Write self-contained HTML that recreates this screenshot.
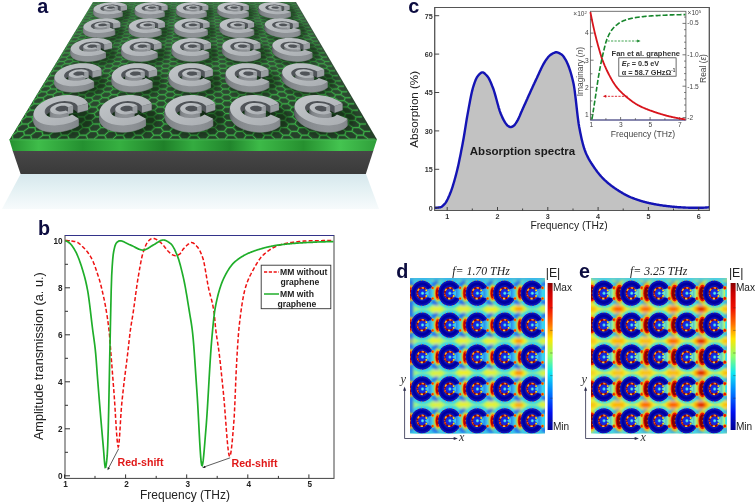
<!DOCTYPE html>
<html><head><meta charset="utf-8"><title>Figure</title>
<style>html,body{margin:0;padding:0;background:#fff}svg{display:block}</style></head>
<body>
<svg width="756" height="504" viewBox="0 0 756 504">
<rect width="756" height="504" fill="#fff"/>
<defs>
<linearGradient id="aRef" x1="0" y1="0" x2="0" y2="1"><stop offset="0" stop-color="#d6e8ed"/><stop offset="0.4" stop-color="#e3f0f3"/><stop offset="1" stop-color="#f7fbfc"/></linearGradient>
<linearGradient id="aBase" x1="0" y1="0" x2="0" y2="1"><stop offset="0" stop-color="#474747"/><stop offset="1" stop-color="#3a3a3a"/></linearGradient>
<linearGradient id="aStrip" x1="0" y1="0" x2="1" y2="0"><stop offset="0" stop-color="#25902f"/><stop offset="0.08" stop-color="#3fbd4a"/><stop offset="0.2" stop-color="#249030"/><stop offset="0.3" stop-color="#36b041"/><stop offset="0.42" stop-color="#1f8029"/><stop offset="0.5" stop-color="#34ac40"/><stop offset="0.6" stop-color="#21852c"/><stop offset="0.68" stop-color="#3dba48"/><stop offset="0.8" stop-color="#26902f"/><stop offset="0.9" stop-color="#44c450"/><stop offset="1" stop-color="#2f9e3a"/></linearGradient>
<linearGradient id="aTop" x1="0" y1="0" x2="0" y2="1"><stop offset="0" stop-color="#405e47"/><stop offset="0.3" stop-color="#36533b"/><stop offset="0.65" stop-color="#2d4931"/><stop offset="1" stop-color="#253f29"/></linearGradient>
<linearGradient id="rTop" x1="0" y1="0" x2="1" y2="1"><stop offset="0" stop-color="#c3c7ca"/><stop offset="1" stop-color="#a9adb1"/></linearGradient>
<linearGradient id="rSide" x1="0" y1="0" x2="0" y2="1"><stop offset="0" stop-color="#4a4e52"/><stop offset="0.42" stop-color="#54585d"/><stop offset="0.7" stop-color="#7d8185"/><stop offset="1" stop-color="#8f9397"/></linearGradient>
<linearGradient id="hcG" gradientUnits="userSpaceOnUse" x1="0" y1="2" x2="0" y2="139"><stop offset="0" stop-color="#3db449" stop-opacity="0.4"/><stop offset="0.35" stop-color="#3db449" stop-opacity="0.62"/><stop offset="0.75" stop-color="#3db449" stop-opacity="0.92"/><stop offset="1" stop-color="#3db449"/></linearGradient>
<filter id="aBlur" x="-30%" y="-30%" width="160%" height="160%"><feGaussianBlur stdDeviation="2"/></filter>
<clipPath id="aClip"><polygon points="93,2 296,2 377,139.5 9.6,139.5"/></clipPath>
</defs>
<g id="pa">
<polygon points="20.6,174 366,174 379,209 2,209" fill="url(#aRef)"/>
<polygon points="12.6,150.5 373.4,150.5 365.8,174 20.6,174" fill="url(#aBase)"/>
<polygon points="9.2,139.3 377,139.3 373.2,150.9 12.8,150.9" fill="url(#aStrip)"/>
<rect x="9.4" y="139.1" width="367.4" height="1.1" fill="#5fd46a" opacity="0.7"/>
<polygon points="93,2 296,2 377,139.5 9.6,139.5" fill="url(#aTop)"/>
<defs><path id="hcp" d="M92.3 3.2l2.4-1.2 3.5 0 1 1.2 3.5 0 2.4-1.2 3.4 0 1.1 1.2 3.5 0 2.3-1.2 3.5 0 1.2 1.2 3.4 0 2.3-1.2 3.4 0 1.3 1.2 3.5 0 2.1-1.2 3.5 0 1.3 1.2 3.5 0 2.1-1.2 3.4 0 1.4 1.2 3.5 0 2-1.2 3.5 0 1.5 1.2 3.4 0 2-1.2 3.4 0 1.6 1.2 3.5 0 1.8-1.2 3.5 0 1.6 1.2 3.5 0 1.8-1.2 3.5 0 1.7 1.2 3.4 0 1.8-1.2 3.4 0 1.8 1.2 3.5 0 1.6-1.2 3.5 0 1.8 1.2 3.5 0 1.6-1.2 3.4 0 1.9 1.2 3.5 0 1.5-1.2 3.5 0 2 1.2 3.4 0 1.5-1.2 3.4 0 2.1 1.2 3.5 0 1.3-1.2 3.5 0 2.1 1.2 3.5 0 1.3-1.2 3.4 0 2.3 1.2 3.4 0 1.2-1.2 3.5 0 2.3 1.2 3.5 0 1.1-1.2 3.4 0 2.4 1.2 3.5 0 1-1.2 3.5 0M90.7 5.8l2.5-1.3 3.5 0 1.1 1.3 3.5 0 2.4-1.3 3.6 0 1.1 1.3 3.5 0 2.4-1.3 3.5 0 1.1 1.3 3.6 0 2.3-1.3 3.5 0 1.2 1.3 3.6 0 2.2-1.3 3.5 0 1.3 1.3 3.5 0 2.2-1.3 3.5 0 1.4 1.3 3.5 0 2.1-1.3 3.5 0 1.5 1.3 3.5 0 2-1.3 3.5 0 1.6 1.3 3.5 0 1.9-1.3 3.5 0 1.6 1.3 3.6 0 1.8-1.3 3.5 0 1.7 1.3 3.5 0 1.8-1.3 3.5 0 1.8 1.3 3.5 0 1.7-1.3 3.5 0 1.9 1.3 3.5 0 1.6-1.3 3.5 0 2 1.3 3.5 0 1.5-1.3 3.5 0 2 1.3 3.6 0 1.4-1.3 3.5 0 2.1 1.3 3.6 0 1.3-1.3 3.5 0 2.2 1.3 3.5 0 1.3-1.3 3.5 0 2.3 1.3 3.5 0 1.2-1.3 3.5 0 2.4 1.3 3.5 0 1.1-1.3 3.5 0 2.5 1.3 3.5 0 1-1.3 3.5 0M89.1 8.3l2.6-1.3 3.6 0 1 1.3 3.6 0 2.5-1.3 3.5 0 1.2 1.3 3.5 0 2.4-1.3 3.6 0 1.2 1.3 3.6 0 2.3-1.3 3.6 0 1.2 1.3 3.6 0 2.3-1.3 3.5 0 1.4 1.3 3.6 0 2.1-1.3 3.6 0 1.4 1.3 3.6 0 2.1-1.3 3.5 0 1.6 1.3 3.5 0 2-1.3 3.6 0 1.6 1.3 3.6 0 1.9-1.3 3.6 0 1.6 1.3 3.6 0 1.9-1.3 3.5 0 1.8 1.3 3.6 0 1.7-1.3 3.6 0 1.8 1.3 3.6 0 1.7-1.3 3.5 0 2 1.3 3.5 0 1.6-1.3 3.6 0 2 1.3 3.6 0 1.5-1.3 3.6 0 2 1.3 3.6 0 1.5-1.3 3.5 0 2.2 1.3 3.6 0 1.3-1.3 3.6 0 2.2 1.3 3.6 0 1.3-1.3 3.5 0 2.4 1.3 3.5 0 1.2-1.3 3.6 0 2.4 1.3 3.6 0 1.1-1.3 3.6 0 2.4 1.3 3.6 0 1.1-1.3 3.5 0M87.5 11l2.6-1.3 3.7 0 1 1.3 3.6 0 2.6-1.3 3.6 0 1.1 1.3 3.6 0 2.5-1.3 3.6 0 1.2 1.3 3.6 0 2.4-1.3 3.6 0 1.3 1.3 3.6 0 2.3-1.3 3.6 0 1.4 1.3 3.6 0 2.3-1.3 3.6 0 1.4 1.3 3.6 0 2.2-1.3 3.6 0 1.5 1.3 3.6 0 2.1-1.3 3.6 0 1.6 1.3 3.7 0 1.9-1.3 3.6 0 1.7 1.3 3.7 0 1.8-1.3 3.6 0 1.8 1.3 3.7 0 1.8-1.3 3.6 0 1.8 1.3 3.7 0 1.7-1.3 3.6 0 1.9 1.3 3.7 0 1.6-1.3 3.6 0 2 1.3 3.7 0 1.5-1.3 3.6 0 2.1 1.3 3.7 0 1.4-1.3 3.6 0 2.2 1.3 3.7 0 1.4-1.3 3.6 0 2.2 1.3 3.7 0 1.3-1.3 3.6 0 2.3 1.3 3.7 0 1.2-1.3 3.6 0 2.4 1.3 3.7 0 1.1-1.3 3.6 0 2.6 1.3 3.6 0 1-1.3 3.7 0M85.9 13.8l2.6-1.4 3.7 0 1 1.4 3.7 0 2.6-1.4 3.7 0 1.1 1.4 3.7 0 2.5-1.4 3.7 0 1.2 1.4 3.7 0 2.4-1.4 3.7 0 1.3 1.4 3.6 0 2.4-1.4 3.6 0 1.4 1.4 3.7 0 2.3-1.4 3.6 0 1.5 1.4 3.7 0 2.1-1.4 3.7 0 1.6 1.4 3.7 0 2-1.4 3.7 0 1.6 1.4 3.7 0 2-1.4 3.7 0 1.7 1.4 3.7 0 1.9-1.4 3.7 0 1.8 1.4 3.7 0 1.8-1.4 3.7 0 1.8 1.4 3.7 0 1.8-1.4 3.6 0 2 1.4 3.7 0 1.7-1.4 3.6 0 2.1 1.4 3.7 0 1.6-1.4 3.6 0 2.2 1.4 3.7 0 1.4-1.4 3.7 0 2.2 1.4 3.7 0 1.4-1.4 3.7 0 2.3 1.4 3.7 0 1.3-1.4 3.7 0 2.4 1.4 3.7 0 1.2-1.4 3.7 0 2.4 1.4 3.7 0 1.2-1.4 3.6 0 2.6 1.4 3.7 0 1.1-1.4 3.6 0M84.1 16.6l2.8-1.4 3.7 0 1 1.4 3.8 0 2.6-1.4 3.7 0 1.2 1.4 3.7 0 2.6-1.4 3.7 0 1.2 1.4 3.8 0 2.4-1.4 3.8 0 1.3 1.4 3.7 0 2.4-1.4 3.7 0 1.4 1.4 3.8 0 2.2-1.4 3.8 0 1.5 1.4 3.7 0 2.2-1.4 3.7 0 1.6 1.4 3.7 0 2.2-1.4 3.7 0 1.6 1.4 3.8 0 2-1.4 3.7 0 1.8 1.4 3.7 0 2-1.4 3.7 0 1.8 1.4 3.8 0 1.8-1.4 3.8 0 1.9 1.4 3.7 0 1.8-1.4 3.7 0 2 1.4 3.8 0 1.6-1.4 3.8 0 2.1 1.4 3.7 0 1.6-1.4 3.7 0 2.2 1.4 3.8 0 1.5-1.4 3.7 0 2.3 1.4 3.7 0 1.4-1.4 3.7 0 2.4 1.4 3.7 0 1.4-1.4 3.7 0 2.4 1.4 3.8 0 1.2-1.4 3.8 0 2.5 1.4 3.7 0 1.2-1.4 3.7 0 2.6 1.4 3.8 0 1-1.4 3.8 0M82.4 19.6l2.7-1.5 3.8 0 1.1 1.5 3.8 0 2.7-1.5 3.7 0 1.2 1.5 3.8 0 2.6-1.5 3.8 0 1.2 1.5 3.8 0 2.5-1.5 3.8 0 1.3 1.5 3.8 0 2.5-1.5 3.7 0 1.5 1.5 3.8 0 2.3-1.5 3.8 0 1.5 1.5 3.8 0 2.2-1.5 3.8 0 1.6 1.5 3.8 0 2.2-1.5 3.7 0 1.7 1.5 3.8 0 2.1-1.5 3.8 0 1.8 1.5 3.8 0 1.9-1.5 3.8 0 1.9 1.5 3.8 0 1.9-1.5 3.7 0 2 1.5 3.8 0 1.8-1.5 3.8 0 2 1.5 3.8 0 1.7-1.5 3.8 0 2.1 1.5 3.9 0 1.6-1.5 3.7 0 2.3 1.5 3.8 0 1.5-1.5 3.8 0 2.3 1.5 3.8 0 1.4-1.5 3.8 0 2.4 1.5 3.8 0 1.4-1.5 3.7 0 2.5 1.5 3.9 0 1.2-1.5 3.8 0 2.6 1.5 3.8 0 1.1-1.5 3.8 0 2.7 1.5 3.8 0 1.1-1.5 3.7 0M80.5 22.6l2.9-1.5 3.8 0 1.1 1.5 3.8 0 2.8-1.5 3.8 0 1.2 1.5 3.8 0 2.7-1.5 3.8 0 1.3 1.5 3.8 0 2.6-1.5 3.8 0 1.4 1.5 3.8 0 2.5-1.5 3.9 0 1.4 1.5 3.9 0 2.3-1.5 3.9 0 1.5 1.5 3.9 0 2.3-1.5 3.8 0 1.6 1.5 3.9 0 2.2-1.5 3.8 0 1.7 1.5 3.9 0 2.1-1.5 3.8 0 1.8 1.5 3.9 0 2-1.5 3.8 0 1.9 1.5 3.9 0 1.9-1.5 3.8 0 2 1.5 3.9 0 1.8-1.5 3.9 0 2 1.5 3.9 0 1.7-1.5 3.9 0 2.2 1.5 3.8 0 1.7-1.5 3.8 0 2.3 1.5 3.8 0 1.6-1.5 3.8 0 2.4 1.5 3.8 0 1.5-1.5 3.8 0 2.5 1.5 3.8 0 1.4-1.5 3.8 0 2.6 1.5 3.9 0 1.2-1.5 3.9 0 2.6 1.5 3.9 0 1.1-1.5 3.9 0 2.7 1.5 3.9 0 1-1.5 3.9 0M78.6 25.7l2.9-1.6 3.9 0 1.1 1.6 3.9 0 2.8-1.6 3.9 0 1.2 1.6 3.9 0 2.7-1.6 3.9 0 1.3 1.6 3.9 0 2.6-1.6 3.9 0 1.4 1.6 3.9 0 2.5-1.6 3.9 0 1.5 1.6 3.9 0 2.4-1.6 3.9 0 1.6 1.6 3.9 0 2.3-1.6 3.9 0 1.7 1.6 3.9 0 2.2-1.6 3.9 0 1.8 1.6 3.9 0 2.1-1.6 3.9 0 1.9 1.6 3.9 0 2-1.6 4 0 1.9 1.6 3.9 0 2-1.6 3.9 0 2 1.6 3.9 0 1.9-1.6 3.9 0 2.1 1.6 3.9 0 1.8-1.6 3.9 0 2.2 1.6 3.9 0 1.7-1.6 3.9 0 2.3 1.6 3.9 0 1.6-1.6 3.9 0 2.4 1.6 3.9 0 1.5-1.6 3.9 0 2.5 1.6 3.9 0 1.4-1.6 3.9 0 2.6 1.6 3.9 0 1.3-1.6 3.9 0 2.7 1.6 3.9 0 1.2-1.6 3.9 0 2.8 1.6 3.9 0 1.1-1.6 3.9 0M76.7 28.9l2.9-1.6 4 0 1.1 1.6 4 0 2.8-1.6 4 0 1.2 1.6 4 0 2.7-1.6 4 0 1.2 1.6 4 0 2.7-1.6 4 0 1.3 1.6 4 0 2.6-1.6 4 0 1.4 1.6 4 0 2.5-1.6 4 0 1.5 1.6 4 0 2.4-1.6 4 0 1.6 1.6 4 0 2.3-1.6 4 0 1.7 1.6 4 0 2.2-1.6 4 0 1.8 1.6 4 0 2.1-1.6 4 0 1.9 1.6 4 0 2-1.6 4 0 2 1.6 4 0 1.9-1.6 4 0 2.1 1.6 4 0 1.8-1.6 4 0 2.2 1.6 4 0 1.7-1.6 3.9 0 2.4 1.6 4 0 1.6-1.6 3.9 0 2.5 1.6 4 0 1.5-1.6 3.9 0 2.6 1.6 4 0 1.4-1.6 3.9 0 2.7 1.6 4 0 1.3-1.6 3.9 0 2.8 1.6 4 0 1.2-1.6 3.9 0 2.9 1.6 4 0 1.1-1.6 3.9 0M74.6 32.3l3.1-1.7 4 0 1.1 1.7 4 0 3-1.7 4 0 1.2 1.7 4 0 2.9-1.7 4 0 1.3 1.7 4 0 2.8-1.7 4 0 1.4 1.7 4 0 2.7-1.7 4 0 1.5 1.7 4 0 2.6-1.7 4 0 1.6 1.7 4 0 2.5-1.7 4 0 1.7 1.7 4 0 2.3-1.7 4.1 0 1.8 1.7 4 0 2.2-1.7 4.1 0 1.9 1.7 4 0 2.1-1.7 4.1 0 2 1.7 4 0 2-1.7 4.1 0 2.1 1.7 4 0 1.9-1.7 4.1 0 2.2 1.7 4 0 1.8-1.7 4.1 0 2.3 1.7 4 0 1.7-1.7 4.1 0 2.4 1.7 4 0 1.6-1.7 4.1 0 2.5 1.7 4 0 1.5-1.7 4.1 0 2.6 1.7 4 0 1.4-1.7 4.1 0 2.7 1.7 4 0 1.3-1.7 4 0 2.9 1.7 4 0 1.2-1.7 4 0 3 1.7 4 0 1.1-1.7 4 0M72.5 35.7l3.1-1.7 4.1 0 1.1 1.7 4.1 0 3-1.7 4.1 0 1.2 1.7 4.2 0 2.9-1.7 4.1 0 1.2 1.7 4.2 0 2.8-1.7 4.1 0 1.3 1.7 4.2 0 2.7-1.7 4.1 0 1.5 1.7 4.1 0 2.6-1.7 4.1 0 1.6 1.7 4.1 0 2.5-1.7 4.1 0 1.7 1.7 4.1 0 2.4-1.7 4.1 0 1.8 1.7 4.1 0 2.3-1.7 4.1 0 1.9 1.7 4.1 0 2.2-1.7 4.1 0 2 1.7 4.1 0 2.1-1.7 4.1 0 2.1 1.7 4.1 0 2-1.7 4.1 0 2.2 1.7 4.2 0 1.8-1.7 4.1 0 2.3 1.7 4.2 0 1.7-1.7 4.1 0 2.4 1.7 4.2 0 1.6-1.7 4.1 0 2.6 1.7 4.1 0 1.5-1.7 4.1 0 2.7 1.7 4.1 0 1.4-1.7 4.1 0 2.8 1.7 4.1 0 1.3-1.7 4.1 0 2.9 1.7 4.1 0 1.2-1.7 4.1 0 3 1.7 4.1 0 1.1-1.7 4.1 0M70.4 39.3l3.1-1.8 4.2 0 1.1 1.8 4.2 0 3.1-1.8 4.1 0 1.2 1.8 4.2 0 3-1.8 4.2 0 1.2 1.8 4.3 0 2.8-1.8 4.2 0 1.4 1.8 4.2 0 2.7-1.8 4.2 0 1.5 1.8 4.2 0 2.6-1.8 4.2 0 1.6 1.8 4.2 0 2.6-1.8 4.1 0 1.8 1.8 4.2 0 2.4-1.8 4.1 0 1.9 1.8 4.2 0 2.3-1.8 4.2 0 1.9 1.8 4.2 0 2.2-1.8 4.2 0 2 1.8 4.3 0 2-1.8 4.2 0 2.2 1.8 4.2 0 1.9-1.8 4.2 0 2.3 1.8 4.2 0 1.9-1.8 4.1 0 2.4 1.8 4.2 0 1.8-1.8 4.2 0 2.5 1.8 4.2 0 1.6-1.8 4.2 0 2.6 1.8 4.2 0 1.5-1.8 4.2 0 2.7 1.8 4.2 0 1.4-1.8 4.2 0 2.8 1.8 4.3 0 1.3-1.8 4.1 0 3 1.8 4.2 0 1.2-1.8 4.2 0 3 1.8 4.2 0 1.1-1.8 4.2 0M68.1 43l3.3-1.8 4.2 0 1.1 1.8 4.3 0 3.1-1.8 4.3 0 1.1 1.8 4.3 0 3.1-1.8 4.2 0 1.3 1.8 4.3 0 2.9-1.8 4.2 0 1.4 1.8 4.3 0 2.8-1.8 4.3 0 1.5 1.8 4.3 0 2.7-1.8 4.2 0 1.7 1.8 4.2 0 2.6-1.8 4.3 0 1.7 1.8 4.3 0 2.5-1.8 4.2 0 1.9 1.8 4.3 0 2.3-1.8 4.2 0 2 1.8 4.3 0 2.2-1.8 4.3 0 2.1 1.8 4.3 0 2.1-1.8 4.2 0 2.2 1.8 4.3 0 2-1.8 4.3 0 2.3 1.8 4.3 0 1.9-1.8 4.2 0 2.4 1.8 4.3 0 1.8-1.8 4.2 0 2.6 1.8 4.3 0 1.6-1.8 4.3 0 2.7 1.8 4.2 0 1.6-1.8 4.2 0 2.8 1.8 4.3 0 1.4-1.8 4.3 0 2.9 1.8 4.2 0 1.4-1.8 4.2 0 3 1.8 4.3 0 1.2-1.8 4.3 0 3.1 1.8 4.3 0 1-1.8 4.3 0M65.8 46.9l3.3-2 4.3 0 1.1 2 4.4 0 3.2-2 4.3 0 1.2 2 4.4 0 3.1-2 4.3 0 1.3 2 4.4 0 2.9-2 4.4 0 1.4 2 4.3 0 2.9-2 4.3 0 1.6 2 4.3 0 2.8-2 4.3 0 1.7 2 4.3 0 2.6-2 4.4 0 1.7 2 4.4 0 2.5-2 4.3 0 1.9 2 4.4 0 2.4-2 4.3 0 2 2 4.4 0 2.3-2 4.3 0 2.1 2 4.4 0 2.1-2 4.4 0 2.2 2 4.4 0 2-2 4.3 0 2.4 2 4.4 0 1.9-2 4.3 0 2.5 2 4.3 0 1.8-2 4.4 0 2.6 2 4.3 0 1.7-2 4.3 0 2.8 2 4.3 0 1.6-2 4.3 0 2.8 2 4.4 0 1.5-2 4.3 0 2.9 2 4.4 0 1.3-2 4.3 0 3.1 2 4.4 0 1.2-2 4.3 0 3.2 2 4.4 0 1.1-2 4.3 0M63.4 50.9l3.4-2.1 4.4 0 1.1 2.1 4.4 0 3.3-2.1 4.4 0 1.2 2.1 4.4 0 3.2-2.1 4.4 0 1.3 2.1 4.5 0 3-2.1 4.4 0 1.5 2.1 4.4 0 2.9-2.1 4.4 0 1.6 2.1 4.4 0 2.8-2.1 4.4 0 1.7 2.1 4.5 0 2.6-2.1 4.4 0 1.8 2.1 4.5 0 2.6-2.1 4.4 0 1.9 2.1 4.4 0 2.5-2.1 4.4 0 2 2.1 4.5 0 2.3-2.1 4.4 0 2.1 2.1 4.5 0 2.2-2.1 4.4 0 2.3 2.1 4.4 0 2.1-2.1 4.4 0 2.4 2.1 4.5 0 1.9-2.1 4.4 0 2.5 2.1 4.5 0 1.8-2.1 4.4 0 2.7 2.1 4.4 0 1.7-2.1 4.4 0 2.8 2.1 4.4 0 1.6-2.1 4.4 0 2.9 2.1 4.5 0 1.4-2.1 4.4 0 3.1 2.1 4.4 0 1.3-2.1 4.5 0 3.1 2.1 4.4 0 1.3-2.1 4.4 0 3.2 2.1 4.5 0 1.1-2.1 4.4 0M60.9 55l3.5-2.1 4.5 0 1 2.1 4.5 0 3.4-2.1 4.5 0 1.2 2.1 4.5 0 3.3-2.1 4.5 0 1.3 2.1 4.5 0 3.1-2.1 4.5 0 1.5 2.1 4.5 0 3-2.1 4.5 0 1.6 2.1 4.5 0 2.9-2.1 4.4 0 1.7 2.1 4.6 0 2.7-2.1 4.5 0 1.8 2.1 4.5 0 2.7-2.1 4.5 0 1.9 2.1 4.5 0 2.5-2.1 4.5 0 2.1 2.1 4.5 0 2.4-2.1 4.5 0 2.2 2.1 4.5 0 2.2-2.1 4.5 0 2.4 2.1 4.5 0 2.1-2.1 4.5 0 2.4 2.1 4.6 0 2-2.1 4.4 0 2.6 2.1 4.6 0 1.8-2.1 4.5 0 2.7 2.1 4.5 0 1.8-2.1 4.4 0 2.9 2.1 4.5 0 1.6-2.1 4.5 0 3 2.1 4.5 0 1.5-2.1 4.5 0 3.1 2.1 4.5 0 1.3-2.1 4.5 0 3.2 2.1 4.6 0 1.2-2.1 4.5 0 3.3 2.1 4.6 0 1-2.1 4.5 0M58.3 59.3l3.6-2.2 4.5 0 1.1 2.2 4.6 0 3.5-2.2 4.5 0 1.2 2.2 4.6 0 3.4-2.2 4.6 0 1.3 2.2 4.6 0 3.2-2.2 4.6 0 1.4 2.2 4.6 0 3.1-2.2 4.6 0 1.6 2.2 4.6 0 2.9-2.2 4.6 0 1.7 2.2 4.6 0 2.8-2.2 4.6 0 1.9 2.2 4.6 0 2.7-2.2 4.5 0 2 2.2 4.6 0 2.6-2.2 4.5 0 2.2 2.2 4.6 0 2.4-2.2 4.6 0 2.2 2.2 4.6 0 2.3-2.2 4.6 0 2.3 2.2 4.7 0 2.1-2.2 4.6 0 2.5 2.2 4.6 0 2-2.2 4.6 0 2.6 2.2 4.7 0 1.8-2.2 4.6 0 2.8 2.2 4.6 0 1.7-2.2 4.6 0 2.9 2.2 4.6 0 1.7-2.2 4.5 0 3.1 2.2 4.6 0 1.5-2.2 4.5 0 3.2 2.2 4.6 0 1.4-2.2 4.6 0 3.3 2.2 4.6 0 1.2-2.2 4.6 0 3.4 2.2 4.6 0 1.1-2.2 4.6 0M55.5 63.7l3.7-2.2 4.7 0 1.1 2.2 4.7 0 3.5-2.2 4.7 0 1.2 2.2 4.7 0 3.4-2.2 4.7 0 1.3 2.2 4.7 0 3.3-2.2 4.6 0 1.5 2.2 4.7 0 3.2-2.2 4.6 0 1.6 2.2 4.7 0 3-2.2 4.7 0 1.8 2.2 4.7 0 2.8-2.2 4.7 0 1.9 2.2 4.7 0 2.7-2.2 4.7 0 2 2.2 4.7 0 2.6-2.2 4.7 0 2.1 2.2 4.7 0 2.5-2.2 4.6 0 2.3 2.2 4.7 0 2.4-2.2 4.6 0 2.4 2.2 4.7 0 2.2-2.2 4.7 0 2.6 2.2 4.7 0 2-2.2 4.7 0 2.7 2.2 4.7 0 1.9-2.2 4.7 0 2.8 2.2 4.7 0 1.8-2.2 4.6 0 3 2.2 4.7 0 1.7-2.2 4.6 0 3.1 2.2 4.7 0 1.5-2.2 4.7 0 3.2 2.2 4.8 0 1.3-2.2 4.7 0 3.4 2.2 4.7 0 1.2-2.2 4.7 0 3.5 2.2 4.7 0 1.1-2.2 4.6 0M52.7 68.4l3.8-2.4 4.8 0 1 2.4 4.8 0 3.7-2.4 4.7 0 1.2 2.4 4.8 0 3.5-2.4 4.8 0 1.3 2.4 4.8 0 3.4-2.4 4.8 0 1.4 2.4 4.8 0 3.3-2.4 4.7 0 1.6 2.4 4.8 0 3.1-2.4 4.8 0 1.7 2.4 4.8 0 3-2.4 4.7 0 1.9 2.4 4.8 0 2.8-2.4 4.8 0 2 2.4 4.8 0 2.7-2.4 4.7 0 2.2 2.4 4.8 0 2.6-2.4 4.7 0 2.3 2.4 4.8 0 2.4-2.4 4.8 0 2.4 2.4 4.8 0 2.3-2.4 4.7 0 2.6 2.4 4.8 0 2.1-2.4 4.8 0 2.7 2.4 4.8 0 2-2.4 4.7 0 2.9 2.4 4.8 0 1.8-2.4 4.8 0 3 2.4 4.9 0 1.6-2.4 4.8 0 3.2 2.4 4.8 0 1.5-2.4 4.7 0 3.4 2.4 4.8 0 1.3-2.4 4.8 0 3.5 2.4 4.8 0 1.2-2.4 4.7 0 3.7 2.4 4.8 0 1-2.4 4.8 0M49.8 73.2l3.9-2.4 4.9 0 1 2.4 4.9 0 3.8-2.4 4.8 0 1.2 2.4 4.9 0 3.6-2.4 4.8 0 1.4 2.4 4.9 0 3.4-2.4 4.9 0 1.5 2.4 4.9 0 3.3-2.4 4.8 0 1.7 2.4 4.9 0 3.1-2.4 4.9 0 1.8 2.4 4.9 0 3-2.4 4.8 0 2 2.4 4.9 0 2.8-2.4 4.9 0 2.1 2.4 4.9 0 2.7-2.4 4.8 0 2.3 2.4 4.9 0 2.5-2.4 4.9 0 2.4 2.4 4.9 0 2.4-2.4 4.8 0 2.6 2.4 4.9 0 2.2-2.4 4.9 0 2.7 2.4 4.9 0 2.1-2.4 4.8 0 2.8 2.4 4.9 0 2-2.4 4.9 0 2.9 2.4 4.9 0 1.9-2.4 4.8 0 3.1 2.4 4.9 0 1.7-2.4 4.9 0 3.2 2.4 4.9 0 1.6-2.4 4.8 0 3.4 2.4 4.9 0 1.4-2.4 4.9 0 3.5 2.4 4.9 0 1.3-2.4 4.8 0 3.7 2.4 4.9 0 1.1-2.4 4.8 0M46.7 78.3l4.1-2.6 4.9 0 1 2.6 5.1 0 3.8-2.6 5 0 1.2 2.6 5 0 3.7-2.6 4.9 0 1.4 2.6 5 0 3.5-2.6 5 0 1.5 2.6 5 0 3.4-2.6 4.9 0 1.7 2.6 5 0 3.2-2.6 5 0 1.8 2.6 5 0 3.1-2.6 4.9 0 2 2.6 5 0 2.9-2.6 4.9 0 2.2 2.6 5 0 2.7-2.6 5 0 2.3 2.6 5 0 2.6-2.6 4.9 0 2.5 2.6 5 0 2.4-2.6 5 0 2.6 2.6 5 0 2.3-2.6 4.9 0 2.8 2.6 5 0 2.1-2.6 5 0 2.9 2.6 5 0 2-2.6 4.9 0 3.1 2.6 5 0 1.8-2.6 5 0 3.2 2.6 5 0 1.7-2.6 4.9 0 3.4 2.6 5 0 1.5-2.6 5 0 3.5 2.6 5 0 1.4-2.6 4.9 0 3.7 2.6 5 0 1.2-2.6 5 0 3.8 2.6 5 0 1.1-2.6 4.9 0M43.6 83.5l4.1-2.6 5.1 0 1 2.6 5.1 0 4-2.6 5 0 1.2 2.6 5.1 0 3.8-2.6 5.1 0 1.3 2.6 5.1 0 3.7-2.6 5 0 1.5 2.6 5.2 0 3.4-2.6 5.1 0 1.7 2.6 5.1 0 3.3-2.6 5.1 0 1.8 2.6 5.1 0 3.2-2.6 5 0 2 2.6 5.1 0 3-2.6 5.1 0 2.1 2.6 5.1 0 2.9-2.6 5 0 2.4 2.6 5.1 0 2.7-2.6 5 0 2.5 2.6 5.1 0 2.5-2.6 5.1 0 2.6 2.6 5.1 0 2.4-2.6 5 0 2.8 2.6 5.1 0 2.2-2.6 5.1 0 3 2.6 5.1 0 2-2.6 5 0 3.2 2.6 5.1 0 1.9-2.6 5 0 3.3 2.6 5.1 0 1.7-2.6 5.1 0 3.4 2.6 5.1 0 1.6-2.6 5 0 3.6 2.6 5.2 0 1.3-2.6 5.1 0 3.8 2.6 5.1 0 1.2-2.6 5.1 0 3.9 2.6 5.1 0 1.1-2.6 5 0M40.2 89l4.3-2.8 5.2 0 1 2.8 5.2 0 4.1-2.8 5.2 0 1.1 2.8 5.3 0 3.9-2.8 5.1 0 1.4 2.8 5.2 0 3.8-2.8 5.1 0 1.6 2.8 5.2 0 3.6-2.8 5.1 0 1.7 2.8 5.2 0 3.4-2.8 5.2 0 1.9 2.8 5.2 0 3.2-2.8 5.2 0 2 2.8 5.2 0 3.1-2.8 5.2 0 2.2 2.8 5.2 0 2.9-2.8 5.2 0 2.3 2.8 5.3 0 2.7-2.8 5.2 0 2.5 2.8 5.2 0 2.6-2.8 5.1 0 2.7 2.8 5.3 0 2.4-2.8 5.1 0 2.9 2.8 5.2 0 2.3-2.8 5.1 0 3.1 2.8 5.2 0 2-2.8 5.2 0 3.2 2.8 5.2 0 1.9-2.8 5.2 0 3.4 2.8 5.2 0 1.7-2.8 5.2 0 3.5 2.8 5.3 0 1.5-2.8 5.2 0 3.7 2.8 5.2 0 1.4-2.8 5.2 0 3.8 2.8 5.3 0 1.2-2.8 5.2 0 4 2.8 5.2 0 1.1-2.8 5.1 0M36.8 94.7l4.4-2.9 5.2 0 1 2.9 5.4 0 4.2-2.9 5.3 0 1.1 2.9 5.4 0 4-2.9 5.3 0 1.4 2.9 5.3 0 3.9-2.9 5.2 0 1.6 2.9 5.3 0 3.7-2.9 5.3 0 1.7 2.9 5.3 0 3.5-2.9 5.3 0 1.9 2.9 5.3 0 3.3-2.9 5.3 0 2.1 2.9 5.3 0 3.2-2.9 5.2 0 2.3 2.9 5.3 0 3-2.9 5.3 0 2.4 2.9 5.3 0 2.8-2.9 5.3 0 2.6 2.9 5.3 0 2.7-2.9 5.2 0 2.8 2.9 5.3 0 2.5-2.9 5.3 0 2.9 2.9 5.3 0 2.3-2.9 5.3 0 3.1 2.9 5.3 0 2.1-2.9 5.3 0 3.3 2.9 5.4 0 1.9-2.9 5.3 0 3.4 2.9 5.4 0 1.7-2.9 5.3 0 3.6 2.9 5.4 0 1.5-2.9 5.3 0 3.8 2.9 5.4 0 1.4-2.9 5.2 0 4 2.9 5.4 0 1.2-2.9 5.3 0 4.1 2.9 5.4 0 1-2.9 5.3 0M33.1 100.7l4.6-3 5.4 0 1 3 5.4 0 4.4-3 5.4 0 1.1 3 5.5 0 4.1-3 5.4 0 1.4 3 5.5 0 3.9-3 5.4 0 1.6 3 5.4 0 3.8-3 5.4 0 1.7 3 5.5 0 3.6-3 5.4 0 1.9 3 5.5 0 3.4-3 5.4 0 2.1 3 5.4 0 3.3-3 5.4 0 2.3 3 5.4 0 3.1-3 5.4 0 2.4 3 5.5 0 2.9-3 5.3 0 2.7 3 5.4 0 2.7-3 5.4 0 2.9 3 5.4 0 2.5-3 5.4 0 3 3 5.5 0 2.3-3 5.4 0 3.2 3 5.5 0 2.1-3 5.4 0 3.4 3 5.4 0 2-3 5.4 0 3.5 3 5.5 0 1.8-3 5.4 0 3.7 3 5.5 0 1.6-3 5.3 0 4 3 5.4 0 1.4-3 5.4 0 4.2 3 5.4 0 1.2-3 5.4 0 4.3 3 5.5 0 1-3 5.4 0M29.3 107l4.7-3.2 5.5 0 1 3.2 5.6 0 4.5-3.2 5.5 0 1.2 3.2 5.5 0 4.3-3.2 5.6 0 1.3 3.2 5.6 0 4.1-3.2 5.5 0 1.6 3.2 5.6 0 3.9-3.2 5.5 0 1.7 3.2 5.6 0 3.7-3.2 5.5 0 2 3.2 5.6 0 3.5-3.2 5.5 0 2.1 3.2 5.6 0 3.3-3.2 5.6 0 2.3 3.2 5.6 0 3.1-3.2 5.5 0 2.5 3.2 5.6 0 3-3.2 5.5 0 2.7 3.2 5.6 0 2.7-3.2 5.5 0 2.9 3.2 5.6 0 2.6-3.2 5.5 0 3.1 3.2 5.6 0 2.3-3.2 5.6 0 3.2 3.2 5.6 0 2.2-3.2 5.5 0 3.5 3.2 5.6 0 2-3.2 5.5 0 3.6 3.2 5.6 0 1.8-3.2 5.5 0 3.9 3.2 5.6 0 1.6-3.2 5.5 0 4.1 3.2 5.5 0 1.4-3.2 5.6 0 4.2 3.2 5.6 0 1.2-3.2 5.5 0 4.5 3.2 5.5 0 1.1-3.2 5.5 0M25.4 113.5l4.8-3.3 5.7 0 0.9 3.3 5.7 0 4.7-3.3 5.6 0 1.2 3.3 5.7 0 4.4-3.3 5.7 0 1.3 3.3 5.7 0 4.3-3.3 5.6 0 1.6 3.3 5.7 0 4-3.3 5.7 0 1.7 3.3 5.7 0 3.9-3.3 5.6 0 2 3.3 5.7 0 3.6-3.3 5.7 0 2.1 3.3 5.7 0 3.5-3.3 5.6 0 2.4 3.3 5.7 0 3.2-3.3 5.7 0 2.5 3.3 5.7 0 3.1-3.3 5.6 0 2.8 3.3 5.7 0 2.8-3.3 5.7 0 2.9 3.3 5.7 0 2.7-3.3 5.6 0 3.2 3.3 5.7 0 2.4-3.3 5.7 0 3.3 3.3 5.7 0 2.3-3.3 5.6 0 3.6 3.3 5.7 0 2-3.3 5.7 0 3.7 3.3 5.8 0 1.8-3.3 5.6 0 4 3.3 5.7 0 1.6-3.3 5.7 0 4.1 3.3 5.8 0 1.4-3.3 5.6 0 4.4 3.3 5.7 0 1.2-3.3 5.7 0 4.5 3.3 5.8 0 1-3.3 5.6 0M21.2 120.4l5-3.5 5.8 0 0.9 3.5 5.9 0 4.8-3.5 5.7 0 1.2 3.5 5.8 0 4.6-3.5 5.8 0 1.3 3.5 5.9 0 4.4-3.5 5.8 0 1.5 3.5 5.9 0 4.1-3.5 5.8 0 1.8 3.5 5.9 0 3.9-3.5 5.8 0 2 3.5 5.8 0 3.8-3.5 5.7 0 2.2 3.5 5.9 0 3.5-3.5 5.8 0 2.4 3.5 5.9 0 3.3-3.5 5.8 0 2.6 3.5 5.8 0 3.1-3.5 5.8 0 2.9 3.5 5.8 0 2.9-3.5 5.8 0 3 3.5 5.9 0 2.7-3.5 5.7 0 3.3 3.5 5.9 0 2.4-3.5 5.8 0 3.5 3.5 5.8 0 2.3-3.5 5.8 0 3.6 3.5 5.9 0 2-3.5 5.8 0 3.9 3.5 5.9 0 1.8-3.5 5.8 0 4.1 3.5 5.8 0 1.7-3.5 5.7 0 4.4 3.5 5.8 0 1.4-3.5 5.8 0 4.5 3.5 5.9 0 1.2-3.5 5.8 0 4.7 3.5 5.9 0 0.9-3.5 5.8 0M16.8 127.6l5.2-3.6 5.9 0 0.9 3.6 6 0 5-3.6 5.9 0 1.1 3.6 6 0 4.8-3.6 5.9 0 1.3 3.6 6 0 4.6-3.6 5.9 0 1.6 3.6 6 0 4.2-3.6 6 0 1.8 3.6 6 0 4-3.6 6 0 2 3.6 6 0 3.8-3.6 6 0 2.2 3.6 6 0 3.6-3.6 5.9 0 2.5 3.6 6 0 3.4-3.6 5.9 0 2.7 3.6 6 0 3.2-3.6 5.9 0 2.9 3.6 6 0 3-3.6 5.9 0 3.1 3.6 6 0 2.8-3.6 5.9 0 3.4 3.6 6 0 2.5-3.6 5.9 0 3.6 3.6 6 0 2.3-3.6 5.9 0 3.8 3.6 6 0 2-3.6 6 0 4 3.6 6 0 1.8-3.6 6 0 4.2 3.6 6 0 1.6-3.6 6 0 4.4 3.6 6 0 1.4-3.6 5.9 0 4.7 3.6 6 0 1.2-3.6 5.9 0 4.9 3.6 6.1 0 0.9-3.6 5.9 0M12.2 135.2l5.4-3.8 6 0 0.9 3.8 6.2 0 5.1-3.8 6.1 0 1.1 3.8 6.1 0 5-3.8 6 0 1.4 3.8 6.1 0 4.7-3.8 6.1 0 1.5 3.8 6.2 0 4.4-3.8 6.1 0 1.8 3.8 6.2 0 4.2-3.8 6.1 0 2 3.8 6.2 0 3.9-3.8 6.1 0 2.3 3.8 6.1 0 3.8-3.8 6 0 2.5 3.8 6.2 0 3.5-3.8 6.1 0 2.7 3.8 6.2 0 3.2-3.8 6.1 0 3 3.8 6.2 0 3-3.8 6.1 0 3.2 3.8 6.1 0 2.8-3.8 6.1 0 3.5 3.8 6.1 0 2.6-3.8 6.1 0 3.6 3.8 6.2 0 2.3-3.8 6.1 0 3.9 3.8 6.2 0 2.1-3.8 6 0 4.2 3.8 6.1 0 1.9-3.8 6.1 0 4.4 3.8 6.1 0 1.6-3.8 6.1 0 4.6 3.8 6.2 0 1.4-3.8 6.1 0 4.8 3.8 6.2 0 1.1-3.8 6.1 0 5.1 3.8 6.1 0 1-3.8 6 0M12.9 139.2l6.3 0 2.9 0.3 6.2 0 3.3-0.3 6.3 0 2.9 0.3 6.3 0 3.3-0.3 6.2 0 3 0.3 6.2 0 3.3-0.3 6.2 0 3 0.3 6.2 0 3.3-0.3 6.2 0 3 0.3 6.3 0 3.2-0.3 6.2 0 3.1 0.3 6.2 0 3.2-0.3 6.3 0 3 0.3 6.3 0 3.1-0.3 6.3 0 3.1 0.3 6.2 0 3.2-0.3 6.2 0 3.1 0.3 6.2 0 3.2-0.3 6.2 0 3.1 0.3 6.3 0 3.1-0.3 6.2 0 3.2 0.3 6.2 0 3.1-0.3 6.2 0 3.2 0.3 6.2 0 3.1-0.3 6.3 0 3.1 0.3 6.3 0 3-0.3 6.3 0 3.2 0.3 6.2 0 3.1-0.3 6.2 0 3.2 0.3 6.3 0 3-0.3 6.2 0 3.3 0.3 6.2 0 3-0.3 6.2 0 3.3 0.3 6.2 0 3-0.3 6.3 0 3.2 0.3 6.3 0 2.9-0.3 6.3 0 3.3 0.3 6.2 0 2.9-0.3 6.3 0M92.3 3.2l0.9 1.3M99.2 3.2l-2.5 1.3M102.7 3.2l1 1.3M109.6 3.2l-2.3 1.3M113.1 3.2l1.2 1.3M120.1 3.2l-2.3 1.3M123.5 3.2l1.3 1.3M130.5 3.2l-2.2 1.3M134 3.2l1.3 1.3M140.9 3.2l-2.1 1.3M144.4 3.2l1.4 1.3M151.3 3.2l-2 1.3M154.8 3.2l1.5 1.3M161.8 3.2l-2 1.3M165.2 3.2l1.6 1.3M172.2 3.2l-1.9 1.3M175.7 3.2l1.6 1.3M182.6 3.2l-1.8 1.3M186.1 3.2l1.7 1.3M193.1 3.2l-1.8 1.3M196.5 3.2l1.8 1.3M203.5 3.2l-1.7 1.3M207 3.2l1.8 1.3M213.9 3.2l-1.6 1.3M217.4 3.2l1.9 1.3M224.3 3.2l-1.5 1.3M227.8 3.2l2 1.3M234.8 3.2l-1.5 1.3M238.2 3.2l2.1 1.3M245.2 3.2l-1.4 1.3M248.7 3.2l2.1 1.3M255.6 3.2l-1.3 1.3M259.1 3.2l2.2 1.3M266.1 3.2l-1.3 1.3M269.5 3.2l2.3 1.3M276.5 3.2l-1.2 1.3M280 3.2l2.3 1.3M286.9 3.2l-1.1 1.3M290.4 3.2l2.4 1.3M90.7 5.8l1 1.2M97.8 5.8l-2.5 1.2M101.3 5.8l1.1 1.2M108.4 5.8l-2.5 1.2M111.9 5.8l1.1 1.2M118.9 5.8l-2.3 1.2M122.5 5.8l1.2 1.2M129.5 5.8l-2.2 1.2M133.1 5.8l1.3 1.2M140.1 5.8l-2.2 1.2M143.6 5.8l1.4 1.2M150.7 5.8l-2.1 1.2M154.2 5.8l1.5 1.2M161.3 5.8l-2.1 1.2M164.8 5.8l1.5 1.2M171.9 5.8l-2 1.2M175.4 5.8l1.6 1.2M182.4 5.8l-1.8 1.2M186 5.8l1.7 1.2M193 5.8l-1.8 1.2M196.5 5.8l1.8 1.2M203.6 5.8l-1.7 1.2M207.1 5.8l1.9 1.2M214.2 5.8l-1.7 1.2M217.7 5.8l1.9 1.2M224.8 5.8l-1.6 1.2M228.3 5.8l2 1.2M235.3 5.8l-1.4 1.2M238.9 5.8l2.1 1.2M245.9 5.8l-1.4 1.2M249.5 5.8l2.1 1.2M256.5 5.8l-1.3 1.2M260 5.8l2.3 1.2M267.1 5.8l-1.3 1.2M270.6 5.8l2.3 1.2M277.7 5.8l-1.2 1.2M281.2 5.8l2.4 1.2M288.3 5.8l-1.1 1.2M291.8 5.8l2.5 1.2M89.1 8.3l1 1.4M96.3 8.3l-2.5 1.4M99.9 8.3l1.1 1.4M107.1 8.3l-2.5 1.4M110.6 8.3l1.2 1.4M117.8 8.3l-2.4 1.4M121.4 8.3l1.2 1.4M128.5 8.3l-2.3 1.4M132.1 8.3l1.3 1.4M139.3 8.3l-2.3 1.4M142.9 8.3l1.4 1.4M150 8.3l-2.1 1.4M153.6 8.3l1.5 1.4M160.8 8.3l-2.1 1.4M164.3 8.3l1.6 1.4M171.5 8.3l-2 1.4M175.1 8.3l1.6 1.4M182.2 8.3l-1.9 1.4M185.8 8.3l1.7 1.4M193 8.3l-1.9 1.4M196.6 8.3l1.8 1.4M203.7 8.3l-1.7 1.4M207.3 8.3l1.9 1.4M214.5 8.3l-1.7 1.4M218 8.3l2 1.4M225.2 8.3l-1.6 1.4M228.8 8.3l2 1.4M235.9 8.3l-1.5 1.4M239.5 8.3l2.1 1.4M246.7 8.3l-1.5 1.4M250.3 8.3l2.2 1.4M257.4 8.3l-1.3 1.4M261 8.3l2.3 1.4M268.2 8.3l-1.3 1.4M271.7 8.3l2.4 1.4M278.9 8.3l-1.2 1.4M282.5 8.3l2.4 1.4M289.6 8.3l-1.1 1.4M293.2 8.3l2.5 1.4M87.5 11l1 1.4M94.8 11l-2.6 1.4M98.4 11l1.1 1.4M105.7 11l-2.5 1.4M109.3 11l1.2 1.4M116.6 11l-2.4 1.4M120.2 11l1.3 1.4M127.5 11l-2.3 1.4M131.1 11l1.4 1.4M138.4 11l-2.3 1.4M142 11l1.5 1.4M149.3 11l-2.2 1.4M152.9 11l1.5 1.4M160.2 11l-2.1 1.4M163.8 11l1.6 1.4M171.1 11l-2 1.4M174.8 11l1.6 1.4M182 11l-1.9 1.4M185.7 11l1.7 1.4M192.9 11l-1.8 1.4M196.6 11l1.8 1.4M203.8 11l-1.7 1.4M207.5 11l1.9 1.4M214.7 11l-1.7 1.4M218.4 11l2 1.4M225.6 11l-1.6 1.4M229.3 11l2.1 1.4M236.5 11l-1.5 1.4M240.2 11l2.1 1.4M247.4 11l-1.4 1.4M251.1 11l2.2 1.4M258.3 11l-1.3 1.4M262 11l2.3 1.4M269.2 11l-1.2 1.4M272.9 11l2.4 1.4M280.1 11l-1.1 1.4M283.8 11l2.5 1.4M291.1 11l-1.2 1.4M294.7 11l2.6 1.4M85.9 13.8l1 1.4M93.2 13.8l-2.6 1.4M96.9 13.8l1.1 1.4M104.3 13.8l-2.6 1.4M108 13.8l1.2 1.4M115.4 13.8l-2.5 1.4M119.1 13.8l1.2 1.4M126.5 13.8l-2.4 1.4M130.1 13.8l1.4 1.4M137.5 13.8l-2.3 1.4M141.2 13.8l1.4 1.4M148.6 13.8l-2.2 1.4M152.3 13.8l1.5 1.4M159.7 13.8l-2.2 1.4M163.4 13.8l1.6 1.4M170.7 13.8l-2 1.4M174.4 13.8l1.7 1.4M181.8 13.8l-2 1.4M185.5 13.8l1.8 1.4M192.9 13.8l-1.9 1.4M196.6 13.8l1.8 1.4M203.9 13.8l-1.7 1.4M207.6 13.8l2 1.4M215 13.8l-1.7 1.4M218.7 13.8l2 1.4M226.1 13.8l-1.6 1.4M229.8 13.8l2.1 1.4M237.2 13.8l-1.6 1.4M240.9 13.8l2.2 1.4M248.2 13.8l-1.4 1.4M251.9 13.8l2.3 1.4M259.3 13.8l-1.4 1.4M263 13.8l2.4 1.4M270.4 13.8l-1.3 1.4M274.1 13.8l2.4 1.4M281.4 13.8l-1.1 1.4M285.1 13.8l2.6 1.4M292.5 13.8l-1.1 1.4M296.2 13.8l2.6 1.4M84.1 16.6l1 1.5M91.6 16.6l-2.7 1.5M95.4 16.6l1.1 1.5M102.9 16.6l-2.7 1.5M106.6 16.6l1.2 1.5M114.1 16.6l-2.5 1.5M117.9 16.6l1.2 1.5M125.4 16.6l-2.5 1.5M129.1 16.6l1.4 1.5M136.6 16.6l-2.4 1.5M140.4 16.6l1.4 1.5M147.9 16.6l-2.3 1.5M151.6 16.6l1.5 1.5M159.1 16.6l-2.2 1.5M162.8 16.6l1.7 1.5M170.3 16.6l-2.1 1.5M174.1 16.6l1.7 1.5M181.6 16.6l-2 1.5M185.3 16.6l1.8 1.5M192.8 16.6l-1.9 1.5M196.6 16.6l1.9 1.5M204.1 16.6l-1.9 1.5M207.8 16.6l2 1.5M215.3 16.6l-1.7 1.5M219.1 16.6l2 1.5M226.6 16.6l-1.7 1.5M230.3 16.6l2.2 1.5M237.8 16.6l-1.6 1.5M241.6 16.6l2.2 1.5M249.1 16.6l-1.5 1.5M252.8 16.6l2.3 1.5M260.3 16.6l-1.4 1.5M264 16.6l2.5 1.5M271.5 16.6l-1.3 1.5M275.3 16.6l2.5 1.5M282.8 16.6l-1.2 1.5M286.5 16.6l2.6 1.5M294 16.6l-1.1 1.5M297.8 16.6l2.7 1.5M82.4 19.6l1 1.5M90 19.6l-2.8 1.5M93.8 19.6l1.1 1.5M101.4 19.6l-2.7 1.5M105.2 19.6l1.2 1.5M112.8 19.6l-2.6 1.5M116.6 19.6l1.3 1.5M124.2 19.6l-2.5 1.5M128 19.6l1.4 1.5M135.7 19.6l-2.4 1.5M139.5 19.6l1.4 1.5M147.1 19.6l-2.3 1.5M150.9 19.6l1.6 1.5M158.5 19.6l-2.2 1.5M162.3 19.6l1.7 1.5M169.9 19.6l-2.1 1.5M173.7 19.6l1.8 1.5M181.4 19.6l-2.1 1.5M185.2 19.6l1.8 1.5M192.8 19.6l-2 1.5M196.6 19.6l1.9 1.5M204.2 19.6l-1.9 1.5M208 19.6l2 1.5M215.6 19.6l-1.7 1.5M219.4 19.6l2.1 1.5M227 19.6l-1.6 1.5M230.9 19.6l2.2 1.5M238.5 19.6l-1.6 1.5M242.3 19.6l2.3 1.5M249.9 19.6l-1.5 1.5M253.7 19.6l2.4 1.5M261.3 19.6l-1.4 1.5M265.1 19.6l2.5 1.5M272.7 19.6l-1.3 1.5M276.6 19.6l2.5 1.5M284.2 19.6l-1.2 1.5M288 19.6l2.6 1.5M295.6 19.6l-1.1 1.5M299.4 19.6l2.7 1.5M80.5 22.6l1 1.5M88.3 22.6l-2.9 1.5M92.1 22.6l1.1 1.5M99.9 22.6l-2.8 1.5M103.7 22.6l1.2 1.5M111.5 22.6l-2.7 1.5M115.3 22.6l1.3 1.5M123.1 22.6l-2.6 1.5M126.9 22.6l1.4 1.5M134.7 22.6l-2.5 1.5M138.6 22.6l1.4 1.5M146.3 22.6l-2.4 1.5M150.2 22.6l1.5 1.5M157.9 22.6l-2.3 1.5M161.8 22.6l1.6 1.5M169.5 22.6l-2.2 1.5M173.4 22.6l1.7 1.5M181.1 22.6l-2.1 1.5M185 22.6l1.8 1.5M192.7 22.6l-1.9 1.5M196.6 22.6l2 1.5M204.3 22.6l-1.8 1.5M208.2 22.6l2.1 1.5M215.9 22.6l-1.7 1.5M219.8 22.6l2.2 1.5M227.6 22.6l-1.7 1.5M231.4 22.6l2.3 1.5M239.2 22.6l-1.6 1.5M243 22.6l2.4 1.5M250.8 22.6l-1.5 1.5M254.6 22.6l2.5 1.5M262.4 22.6l-1.4 1.5M266.2 22.6l2.6 1.5M274 22.6l-1.3 1.5M277.9 22.6l2.6 1.5M285.6 22.6l-1.2 1.5M289.5 22.6l2.7 1.5M297.2 22.6l-1.1 1.5M301.1 22.6l2.8 1.5M78.6 25.7l1 1.6M86.5 25.7l-2.9 1.6M90.4 25.7l1.1 1.6M98.3 25.7l-2.8 1.6M102.2 25.7l1.2 1.6M110.1 25.7l-2.7 1.6M114 25.7l1.3 1.6M121.9 25.7l-2.6 1.6M125.8 25.7l1.4 1.6M133.7 25.7l-2.5 1.6M137.6 25.7l1.5 1.6M145.5 25.7l-2.4 1.6M149.4 25.7l1.6 1.6M157.3 25.7l-2.3 1.6M161.2 25.7l1.7 1.6M169.1 25.7l-2.2 1.6M173 25.7l1.8 1.6M180.9 25.7l-2.1 1.6M184.8 25.7l1.9 1.6M192.7 25.7l-2 1.6M196.6 25.7l2 1.6M204.5 25.7l-1.9 1.6M208.4 25.7l2.1 1.6M216.3 25.7l-1.8 1.6M220.2 25.7l2.2 1.6M228.1 25.7l-1.7 1.6M232 25.7l2.3 1.6M239.9 25.7l-1.7 1.6M243.8 25.7l2.4 1.6M251.7 25.7l-1.6 1.6M255.6 25.7l2.5 1.6M263.5 25.7l-1.5 1.6M267.4 25.7l2.6 1.6M275.3 25.7l-1.4 1.6M279.2 25.7l2.7 1.6M287.1 25.7l-1.3 1.6M291 25.7l2.8 1.6M298.9 25.7l-1.2 1.6M302.8 25.7l2.9 1.6M76.7 28.9l1 1.7M84.7 28.9l-3 1.7M88.7 28.9l1.1 1.7M96.7 28.9l-2.9 1.7M100.7 28.9l1.2 1.7M108.6 28.9l-2.7 1.7M112.6 28.9l1.4 1.7M120.6 28.9l-2.6 1.7M124.6 28.9l1.5 1.7M132.6 28.9l-2.5 1.7M136.6 28.9l1.6 1.7M144.6 28.9l-2.4 1.7M148.6 28.9l1.7 1.7M156.6 28.9l-2.3 1.7M160.6 28.9l1.7 1.7M168.6 28.9l-2.2 1.7M172.6 28.9l1.8 1.7M180.6 28.9l-2.1 1.7M184.6 28.9l1.9 1.7M192.6 28.9l-2 1.7M196.6 28.9l2 1.7M204.6 28.9l-1.9 1.7M208.6 28.9l2.1 1.7M216.6 28.9l-1.8 1.7M220.6 28.9l2.2 1.7M228.6 28.9l-1.7 1.7M232.6 28.9l2.3 1.7M240.6 28.9l-1.6 1.7M244.6 28.9l2.4 1.7M252.6 28.9l-1.5 1.7M256.6 28.9l2.5 1.7M264.6 28.9l-1.4 1.7M268.6 28.9l2.6 1.7M276.6 28.9l-1.3 1.7M280.6 28.9l2.7 1.7M288.6 28.9l-1.3 1.7M292.6 28.9l2.8 1.7M300.6 28.9l-1.2 1.7M304.6 28.9l2.9 1.7M74.6 32.3l1 1.7M82.8 32.3l-3.1 1.7M86.8 32.3l1.1 1.7M95 32.3l-3 1.7M99 32.3l1.3 1.7M107.2 32.3l-2.8 1.7M111.2 32.3l1.4 1.7M119.4 32.3l-2.7 1.7M123.4 32.3l1.5 1.7M131.6 32.3l-2.6 1.7M135.6 32.3l1.6 1.7M143.8 32.3l-2.5 1.7M147.8 32.3l1.7 1.7M156 32.3l-2.4 1.7M160 32.3l1.8 1.7M168.2 32.3l-2.3 1.7M172.2 32.3l1.9 1.7M180.4 32.3l-2.2 1.7M184.4 32.3l2 1.7M192.6 32.3l-2.1 1.7M196.6 32.3l2.1 1.7M204.8 32.3l-2 1.7M208.8 32.3l2.2 1.7M217 32.3l-1.9 1.7M221 32.3l2.3 1.7M229.2 32.3l-1.8 1.7M233.2 32.3l2.4 1.7M241.4 32.3l-1.7 1.7M245.4 32.3l2.5 1.7M253.6 32.3l-1.6 1.7M257.6 32.3l2.6 1.7M265.8 32.3l-1.5 1.7M269.8 32.3l2.7 1.7M278 32.3l-1.4 1.7M282 32.3l2.8 1.7M290.2 32.3l-1.3 1.7M294.2 32.3l2.9 1.7M302.4 32.3l-1.2 1.7M306.4 32.3l3 1.7M72.5 35.7l1 1.8M80.8 35.7l-3.1 1.8M84.9 35.7l1.2 1.8M93.2 35.7l-3 1.8M97.4 35.7l1.2 1.8M105.6 35.7l-2.8 1.8M109.8 35.7l1.3 1.8M118 35.7l-2.7 1.8M122.2 35.7l1.4 1.8M130.5 35.7l-2.7 1.8M134.6 35.7l1.5 1.8M142.9 35.7l-2.6 1.8M147 35.7l1.7 1.8M155.3 35.7l-2.5 1.8M159.4 35.7l1.8 1.8M167.7 35.7l-2.4 1.8M171.8 35.7l1.9 1.8M180.1 35.7l-2.2 1.8M184.2 35.7l2 1.8M192.5 35.7l-2.1 1.8M196.6 35.7l2.1 1.8M204.9 35.7l-2 1.8M209 35.7l2.2 1.8M217.3 35.7l-1.9 1.8M221.5 35.7l2.3 1.8M229.7 35.7l-1.8 1.8M233.9 35.7l2.4 1.8M242.1 35.7l-1.6 1.8M246.3 35.7l2.5 1.8M254.6 35.7l-1.6 1.8M258.7 35.7l2.6 1.8M267 35.7l-1.5 1.8M271.1 35.7l2.7 1.8M279.4 35.7l-1.4 1.8M283.5 35.7l2.9 1.8M291.8 35.7l-1.3 1.8M295.9 35.7l3 1.8M304.2 35.7l-1.1 1.8M308.3 35.7l3.1 1.8M70.4 39.3l1 1.9M78.8 39.3l-3.2 1.9M83 39.3l1.1 1.9M91.4 39.3l-3 1.9M95.6 39.3l1.3 1.9M104 39.3l-2.9 1.9M108.3 39.3l1.3 1.9M116.7 39.3l-2.9 1.9M120.9 39.3l1.4 1.9M129.3 39.3l-2.7 1.9M133.5 39.3l1.6 1.9M141.9 39.3l-2.6 1.9M146.1 39.3l1.7 1.9M154.6 39.3l-2.5 1.9M158.8 39.3l1.8 1.9M167.2 39.3l-2.4 1.9M171.4 39.3l1.9 1.9M179.8 39.3l-2.3 1.9M184 39.3l2 1.9M192.4 39.3l-2.1 1.9M196.7 39.3l2.1 1.9M205.1 39.3l-2.1 1.9M209.3 39.3l2.2 1.9M217.7 39.3l-1.9 1.9M221.9 39.3l2.4 1.9M230.3 39.3l-1.8 1.9M234.5 39.3l2.5 1.9M243 39.3l-1.8 1.9M247.2 39.3l2.5 1.9M255.6 39.3l-1.6 1.9M259.8 39.3l2.7 1.9M268.2 39.3l-1.5 1.9M272.4 39.3l2.8 1.9M280.8 39.3l-1.3 1.9M285.1 39.3l2.9 1.9M293.5 39.3l-1.3 1.9M297.7 39.3l3 1.9M306.1 39.3l-1.1 1.9M310.3 39.3l3.1 1.9M68.1 43l1 1.9M76.7 43l-3.3 1.9M81 43l1.1 1.9M89.5 43l-3.1 1.9M93.8 43l1.3 1.9M102.4 43l-3 1.9M106.7 43l1.3 1.9M115.2 43l-2.8 1.9M119.5 43l1.5 1.9M128.1 43l-2.8 1.9M132.4 43l1.6 1.9M141 43l-2.7 1.9M145.2 43l1.7 1.9M153.8 43l-2.5 1.9M158.1 43l1.8 1.9M166.7 43l-2.5 1.9M171 43l1.9 1.9M179.5 43l-2.3 1.9M183.8 43l2.1 1.9M192.4 43l-2.2 1.9M196.7 43l2.1 1.9M205.2 43l-2 1.9M209.5 43l2.3 1.9M218.1 43l-2 1.9M222.4 43l2.4 1.9M230.9 43l-1.8 1.9M235.2 43l2.5 1.9M243.8 43l-1.7 1.9M248.1 43l2.6 1.9M256.7 43l-1.7 1.9M260.9 43l2.8 1.9M269.5 43l-1.5 1.9M273.8 43l2.9 1.9M282.4 43l-1.4 1.9M286.6 43l3 1.9M295.2 43l-1.3 1.9M299.5 43l3.1 1.9M308.1 43l-1.2 1.9M312.4 43l3.2 1.9M65.8 46.9l1 1.9M74.5 46.9l-3.3 1.9M78.9 46.9l1.1 1.9M87.6 46.9l-3.2 1.9M92 46.9l1.2 1.9M100.7 46.9l-3.1 1.9M105.1 46.9l1.3 1.9M113.8 46.9l-3 1.9M118.1 46.9l1.5 1.9M126.9 46.9l-2.9 1.9M131.2 46.9l1.6 1.9M140 46.9l-2.8 1.9M144.3 46.9l1.7 1.9M153 46.9l-2.6 1.9M157.4 46.9l1.9 1.9M166.1 46.9l-2.4 1.9M170.5 46.9l2 1.9M179.2 46.9l-2.3 1.9M183.6 46.9l2.1 1.9M192.3 46.9l-2.2 1.9M196.7 46.9l2.2 1.9M205.4 46.9l-2.1 1.9M209.8 46.9l2.3 1.9M218.5 46.9l-2 1.9M222.9 46.9l2.4 1.9M231.6 46.9l-1.9 1.9M235.9 46.9l2.6 1.9M244.7 46.9l-1.8 1.9M249 46.9l2.7 1.9M257.8 46.9l-1.7 1.9M262.1 46.9l2.8 1.9M270.8 46.9l-1.5 1.9M275.2 46.9l2.9 1.9M283.9 46.9l-1.4 1.9M288.3 46.9l3 1.9M297 46.9l-1.2 1.9M301.4 46.9l3.2 1.9M310.1 46.9l-1.1 1.9M314.5 46.9l3.3 1.9M63.4 50.9l1 2M72.3 50.9l-3.4 2M76.7 50.9l1.1 2M85.6 50.9l-3.3 2M90 50.9l1.3 2M98.9 50.9l-3.1 2M103.4 50.9l1.3 2M112.3 50.9l-3.1 2M116.7 50.9l1.5 2M125.6 50.9l-2.9 2M130 50.9l1.7 2M138.9 50.9l-2.8 2M143.4 50.9l1.7 2M152.2 50.9l-2.6 2M156.7 50.9l1.9 2M165.6 50.9l-2.5 2M170 50.9l2 2M178.9 50.9l-2.4 2M183.4 50.9l2.1 2M192.2 50.9l-2.2 2M196.7 50.9l2.2 2M205.6 50.9l-2.2 2M210 50.9l2.4 2M218.9 50.9l-2 2M223.4 50.9l2.5 2M232.2 50.9l-1.9 2M236.7 50.9l2.6 2M245.6 50.9l-1.8 2M250 50.9l2.8 2M258.9 50.9l-1.7 2M263.3 50.9l2.9 2M272.2 50.9l-1.5 2M276.7 50.9l3 2M285.6 50.9l-1.4 2M290 50.9l3.1 2M298.9 50.9l-1.3 2M303.3 50.9l3.3 2M312.2 50.9l-1.1 2M316.7 50.9l3.3 2M60.9 55l1 2.1M69.9 55l-3.5 2.1M74.4 55l1.2 2.1M83.5 55l-3.4 2.1M88 55l1.3 2.1M97.1 55l-3.2 2.1M101.6 55l1.4 2.1M110.7 55l-3.1 2.1M115.2 55l1.5 2.1M124.3 55l-3 2.1M128.8 55l1.6 2.1M137.8 55l-2.8 2.1M142.4 55l1.7 2.1M151.4 55l-2.7 2.1M155.9 55l2 2.1M165 55l-2.6 2.1M169.5 55l2.1 2.1M178.6 55l-2.5 2.1M183.1 55l2.2 2.1M192.2 55l-2.3 2.1M196.7 55l2.3 2.1M205.8 55l-2.2 2.1M210.3 55l2.4 2.1M219.3 55l-2 2.1M223.9 55l2.5 2.1M232.9 55l-1.9 2.1M237.5 55l2.6 2.1M246.5 55l-1.8 2.1M251 55l2.8 2.1M260.1 55l-1.7 2.1M264.6 55l3 2.1M273.7 55l-1.6 2.1M278.2 55l3.1 2.1M287.3 55l-1.5 2.1M291.8 55l3.2 2.1M300.8 55l-1.2 2.1M305.4 55l3.3 2.1M314.4 55l-1.1 2.1M319 55l3.4 2.1M58.3 59.3l0.9 2.2M67.5 59.3l-3.6 2.2M72.1 59.3l1.1 2.2M81.3 59.3l-3.4 2.2M85.9 59.3l1.3 2.2M95.2 59.3l-3.3 2.2M99.8 59.3l1.4 2.2M109 59.3l-3.2 2.2M113.6 59.3l1.6 2.2M122.9 59.3l-3.1 2.2M127.5 59.3l1.6 2.2M136.7 59.3l-2.9 2.2M141.3 59.3l1.8 2.2M150.6 59.3l-2.8 2.2M155.2 59.3l1.9 2.2M164.4 59.3l-2.6 2.2M169 59.3l2.1 2.2M178.3 59.3l-2.5 2.2M182.9 59.3l2.2 2.2M192.1 59.3l-2.4 2.2M196.7 59.3l2.4 2.2M205.9 59.3l-2.2 2.2M210.6 59.3l2.4 2.2M219.8 59.3l-2.1 2.2M224.4 59.3l2.6 2.2M233.6 59.3l-1.9 2.2M238.3 59.3l2.7 2.2M247.5 59.3l-1.8 2.2M252.1 59.3l2.9 2.2M261.3 59.3l-1.7 2.2M265.9 59.3l3.1 2.2M275.2 59.3l-1.6 2.2M279.8 59.3l3.1 2.2M289 59.3l-1.4 2.2M293.6 59.3l3.3 2.2M302.9 59.3l-1.3 2.2M307.5 59.3l3.4 2.2M316.7 59.3l-1.1 2.2M321.3 59.3l3.6 2.2M55.5 63.7l1 2.3M65 63.7l-3.7 2.3M69.7 63.7l1.1 2.3M79.1 63.7l-3.6 2.3M83.8 63.7l1.2 2.3M93.2 63.7l-3.4 2.3M97.9 63.7l1.4 2.3M107.3 63.7l-3.2 2.3M112 63.7l1.6 2.3M121.4 63.7l-3.1 2.3M126.1 63.7l1.7 2.3M135.6 63.7l-3 2.3M140.3 63.7l1.8 2.3M149.7 63.7l-2.9 2.3M154.4 63.7l1.9 2.3M163.8 63.7l-2.7 2.3M168.5 63.7l2.1 2.3M177.9 63.7l-2.6 2.3M182.6 63.7l2.3 2.3M192 63.7l-2.4 2.3M196.7 63.7l2.4 2.3M206.1 63.7l-2.2 2.3M210.8 63.7l2.6 2.3M220.3 63.7l-2.2 2.3M225 63.7l2.6 2.3M234.4 63.7l-2 2.3M239.1 63.7l2.8 2.3M248.5 63.7l-1.9 2.3M253.2 63.7l2.9 2.3M262.6 63.7l-1.7 2.3M267.3 63.7l3.1 2.3M276.7 63.7l-1.5 2.3M281.4 63.7l3.3 2.3M290.8 63.7l-1.4 2.3M295.6 63.7l3.3 2.3M305 63.7l-1.3 2.3M309.7 63.7l3.5 2.3M319.1 63.7l-1.2 2.3M323.8 63.7l3.6 2.3M52.7 68.4l1 2.4M62.3 68.4l-3.7 2.4M67.1 68.4l1.2 2.4M76.7 68.4l-3.6 2.4M81.5 68.4l1.3 2.4M91.1 68.4l-3.5 2.4M95.9 68.4l1.4 2.4M105.5 68.4l-3.3 2.4M110.3 68.4l1.6 2.4M119.9 68.4l-3.2 2.4M124.7 68.4l1.7 2.4M134.3 68.4l-3 2.4M139.1 68.4l1.9 2.4M148.7 68.4l-2.9 2.4M153.5 68.4l2 2.4M163.1 68.4l-2.7 2.4M167.9 68.4l2.2 2.4M177.5 68.4l-2.6 2.4M182.3 68.4l2.3 2.4M191.9 68.4l-2.4 2.4M196.7 68.4l2.5 2.4M206.3 68.4l-2.3 2.4M211.1 68.4l2.6 2.4M220.7 68.4l-2.1 2.4M225.5 68.4l2.8 2.4M235.1 68.4l-2 2.4M239.9 68.4l2.9 2.4M249.5 68.4l-1.8 2.4M254.3 68.4l3.1 2.4M263.9 68.4l-1.7 2.4M268.8 68.4l3.1 2.4M278.4 68.4l-1.6 2.4M283.2 68.4l3.3 2.4M292.8 68.4l-1.5 2.4M297.6 68.4l3.4 2.4M307.2 68.4l-1.3 2.4M312 68.4l3.6 2.4M321.6 68.4l-1.2 2.4M326.4 68.4l3.7 2.4M49.8 73.2l1 2.5M59.6 73.2l-3.9 2.5M64.5 73.2l1.1 2.5M74.3 73.2l-3.7 2.5M79.2 73.2l1.3 2.5M89 73.2l-3.6 2.5M93.9 73.2l1.4 2.5M103.7 73.2l-3.4 2.5M108.6 73.2l1.6 2.5M118.4 73.2l-3.3 2.5M123.3 73.2l1.7 2.5M133.1 73.2l-3.1 2.5M138 73.2l1.9 2.5M147.8 73.2l-3 2.5M152.7 73.2l2 2.5M162.5 73.2l-2.9 2.5M167.4 73.2l2.1 2.5M177.2 73.2l-2.7 2.5M182.1 73.2l2.3 2.5M191.9 73.2l-2.6 2.5M196.8 73.2l2.4 2.5M206.6 73.2l-2.4 2.5M211.5 73.2l2.6 2.5M221.3 73.2l-2.3 2.5M226.2 73.2l2.7 2.5M235.9 73.2l-2 2.5M240.8 73.2l3 2.5M250.6 73.2l-1.9 2.5M255.5 73.2l3.1 2.5M265.3 73.2l-1.7 2.5M270.2 73.2l3.3 2.5M280 73.2l-1.6 2.5M284.9 73.2l3.4 2.5M294.7 73.2l-1.4 2.5M299.6 73.2l3.6 2.5M309.4 73.2l-1.3 2.5M314.3 73.2l3.7 2.5M324.1 73.2l-1.1 2.5M329 73.2l3.9 2.5M46.7 78.3l1 2.6M56.7 78.3l-3.9 2.6M61.8 78.3l1.1 2.6M71.8 78.3l-3.9 2.6M76.8 78.3l1.2 2.6M86.8 78.3l-3.7 2.6M91.8 78.3l1.4 2.6M101.8 78.3l-3.6 2.6M106.8 78.3l1.5 2.6M116.8 78.3l-3.4 2.6M121.8 78.3l1.7 2.6M131.8 78.3l-3.2 2.6M136.8 78.3l1.9 2.6M146.8 78.3l-3.1 2.6M151.8 78.3l2 2.6M161.8 78.3l-2.9 2.6M166.8 78.3l2.2 2.6M176.8 78.3l-2.8 2.6M181.8 78.3l2.4 2.6M191.8 78.3l-2.6 2.6M196.8 78.3l2.5 2.6M206.8 78.3l-2.4 2.6M211.8 78.3l2.7 2.6M221.8 78.3l-2.3 2.6M226.8 78.3l2.8 2.6M236.8 78.3l-2.1 2.6M241.8 78.3l3 2.6M251.8 78.3l-2 2.6M256.8 78.3l3.2 2.6M266.8 78.3l-1.8 2.6M271.8 78.3l3.3 2.6M281.8 78.3l-1.6 2.6M286.8 78.3l3.5 2.6M296.8 78.3l-1.5 2.6M301.8 78.3l3.6 2.6M311.8 78.3l-1.3 2.6M316.8 78.3l3.8 2.6M326.8 78.3l-1.1 2.6M331.8 78.3l4 2.6M43.6 83.5l0.9 2.7M53.8 83.5l-4.1 2.7M58.9 83.5l1.1 2.7M69.1 83.5l-3.9 2.7M74.2 83.5l1.3 2.7M84.4 83.5l-3.8 2.7M89.5 83.5l1.5 2.7M99.7 83.5l-3.6 2.7M104.9 83.5l1.6 2.7M115.1 83.5l-3.5 2.7M120.2 83.5l1.7 2.7M130.4 83.5l-3.3 2.7M135.5 83.5l1.9 2.7M145.7 83.5l-3.1 2.7M150.8 83.5l2.1 2.7M161 83.5l-2.9 2.7M166.1 83.5l2.3 2.7M176.4 83.5l-2.8 2.7M181.5 83.5l2.4 2.7M191.7 83.5l-2.6 2.7M196.8 83.5l2.6 2.7M207 83.5l-2.5 2.7M212.1 83.5l2.8 2.7M222.3 83.5l-2.3 2.7M227.4 83.5l3 2.7M237.7 83.5l-2.2 2.7M242.8 83.5l3 2.7M253 83.5l-2 2.7M258.1 83.5l3.2 2.7M268.3 83.5l-1.8 2.7M273.4 83.5l3.4 2.7M283.6 83.5l-1.6 2.7M288.7 83.5l3.6 2.7M298.9 83.5l-1.4 2.7M304.1 83.5l3.7 2.7M314.3 83.5l-1.3 2.7M319.4 83.5l3.9 2.7M329.6 83.5l-1.1 2.7M334.7 83.5l4.1 2.7M40.2 89l1 2.8M50.7 89l-4.3 2.8M55.9 89l1.1 2.8M66.3 89l-4 2.8M71.6 89l1.2 2.8M82 89l-3.9 2.8M87.2 89l1.5 2.8M97.7 89l-3.8 2.8M102.9 89l1.6 2.8M113.3 89l-3.5 2.8M118.5 89l1.8 2.8M129 89l-3.4 2.8M134.2 89l1.9 2.8M144.6 89l-3.2 2.8M149.8 89l2.2 2.8M160.3 89l-3.1 2.8M165.5 89l2.3 2.8M175.9 89l-2.8 2.8M181.2 89l2.4 2.8M191.6 89l-2.7 2.8M196.8 89l2.7 2.8M207.2 89l-2.5 2.8M212.5 89l2.8 2.8M222.9 89l-2.3 2.8M228.1 89l3 2.8M238.6 89l-2.2 2.8M243.8 89l3.1 2.8M254.2 89l-2 2.8M259.4 89l3.4 2.8M269.9 89l-1.8 2.8M275.1 89l3.5 2.8M285.5 89l-1.6 2.8M290.8 89l3.6 2.8M301.2 89l-1.5 2.8M306.4 89l3.9 2.8M316.8 89l-1.3 2.8M322.1 89l4 2.8M332.5 89l-1.1 2.8M337.7 89l4.2 2.8M36.8 94.7l0.9 3M47.4 94.7l-4.3 3M52.8 94.7l1.1 3M63.4 94.7l-4.1 3M68.8 94.7l1.2 3M79.5 94.7l-4.1 3M84.8 94.7l1.4 3M95.5 94.7l-3.9 3M100.8 94.7l1.6 3M111.5 94.7l-3.7 3M116.8 94.7l1.8 3M127.5 94.7l-3.5 3M132.8 94.7l2 3M143.5 94.7l-3.3 3M148.8 94.7l2.2 3M159.5 94.7l-3.1 3M164.8 94.7l2.4 3M175.5 94.7l-2.9 3M180.8 94.7l2.6 3M191.5 94.7l-2.8 3M196.8 94.7l2.7 3M207.5 94.7l-2.6 3M212.8 94.7l2.9 3M223.5 94.7l-2.4 3M228.8 94.7l3.1 3M239.5 94.7l-2.2 3M244.8 94.7l3.3 3M255.5 94.7l-2 3M260.9 94.7l3.4 3M271.5 94.7l-1.8 3M276.9 94.7l3.6 3M287.5 94.7l-1.6 3M292.9 94.7l3.8 3M303.5 94.7l-1.5 3M308.9 94.7l3.9 3M319.5 94.7l-1.3 3M324.9 94.7l4.1 3M335.5 94.7l-1.1 3M340.9 94.7l4.3 3M33.1 100.7l0.9 3.1M44.1 100.7l-4.6 3.1M49.5 100.7l1.1 3.1M60.4 100.7l-4.3 3.1M65.9 100.7l1.2 3.1M76.8 100.7l-4.1 3.1M82.3 100.7l1.4 3.1M93.2 100.7l-4 3.1M98.6 100.7l1.7 3.1M109.5 100.7l-3.7 3.1M115 100.7l1.8 3.1M125.9 100.7l-3.6 3.1M131.4 100.7l2 3.1M142.3 100.7l-3.4 3.1M147.7 100.7l2.2 3.1M158.7 100.7l-3.2 3.1M164.1 100.7l2.4 3.1M175 100.7l-3 3.1M180.5 100.7l2.6 3.1M191.4 100.7l-2.8 3.1M196.8 100.7l2.8 3.1M207.8 100.7l-2.7 3.1M213.2 100.7l3 3.1M224.1 100.7l-2.4 3.1M229.6 100.7l3.1 3.1M240.5 100.7l-2.2 3.1M246 100.7l3.3 3.1M256.9 100.7l-2.1 3.1M262.3 100.7l3.6 3.1M273.2 100.7l-1.8 3.1M278.7 100.7l3.7 3.1M289.6 100.7l-1.7 3.1M295.1 100.7l3.9 3.1M306 100.7l-1.5 3.1M311.4 100.7l4.1 3.1M322.4 100.7l-1.3 3.1M327.8 100.7l4.3 3.1M338.7 100.7l-1.1 3.1M344.2 100.7l4.5 3.1M29.3 107l0.9 3.2M40.5 107l-4.6 3.2M46.1 107l1.1 3.2M57.3 107l-4.5 3.2M62.8 107l1.3 3.2M74 107l-4.2 3.2M79.6 107l1.5 3.2M90.8 107l-4.1 3.2M96.4 107l1.6 3.2M107.5 107l-3.8 3.2M113.1 107l1.9 3.2M124.3 107l-3.7 3.2M129.9 107l2 3.2M141 107l-3.4 3.2M146.6 107l2.3 3.2M157.8 107l-3.3 3.2M163.4 107l2.4 3.2M174.5 107l-3 3.2M180.1 107l2.7 3.2M191.3 107l-2.9 3.2M196.9 107l2.8 3.2M208 107l-2.6 3.2M213.6 107l3.1 3.2M224.8 107l-2.5 3.2M230.4 107l3.2 3.2M241.5 107l-2.2 3.2M247.1 107l3.5 3.2M258.3 107l-2.1 3.2M263.9 107l3.6 3.2M275 107l-1.8 3.2M280.6 107l3.9 3.2M291.8 107l-1.7 3.2M297.4 107l4 3.2M308.6 107l-1.5 3.2M314.1 107l4.3 3.2M325.3 107l-1.3 3.2M330.9 107l4.4 3.2M342.1 107l-1.1 3.2M347.6 107l4.7 3.2M25.4 113.5l0.8 3.4M36.8 113.5l-4.8 3.4M42.5 113.5l1.1 3.4M54 113.5l-4.7 3.4M59.7 113.5l1.2 3.4M71.1 113.5l-4.4 3.4M76.8 113.5l1.5 3.4M88.3 113.5l-4.2 3.4M94 113.5l1.6 3.4M105.4 113.5l-4 3.4M111.1 113.5l1.9 3.4M122.6 113.5l-3.8 3.4M128.3 113.5l2.1 3.4M139.7 113.5l-3.6 3.4M145.4 113.5l2.3 3.4M156.9 113.5l-3.4 3.4M162.6 113.5l2.5 3.4M174 113.5l-3.1 3.4M179.7 113.5l2.7 3.4M191.2 113.5l-3 3.4M196.9 113.5l2.9 3.4M208.3 113.5l-2.7 3.4M214 113.5l3.2 3.4M225.5 113.5l-2.6 3.4M231.2 113.5l3.3 3.4M242.6 113.5l-2.3 3.4M248.3 113.5l3.6 3.4M259.8 113.5l-2.1 3.4M265.5 113.5l3.7 3.4M276.9 113.5l-1.9 3.4M282.7 113.5l3.9 3.4M294.1 113.5l-1.7 3.4M299.8 113.5l4.2 3.4M311.2 113.5l-1.5 3.4M317 113.5l4.3 3.4M328.4 113.5l-1.3 3.4M334.1 113.5l4.6 3.4M345.5 113.5l-1 3.4M351.3 113.5l4.7 3.4M21.2 120.4l0.8 3.6M32.9 120.4l-5 3.6M38.8 120.4l1 3.6M50.5 120.4l-4.8 3.6M56.3 120.4l1.3 3.6M68 120.4l-4.5 3.6M73.9 120.4l1.5 3.6M85.6 120.4l-4.3 3.6M91.5 120.4l1.6 3.6M103.2 120.4l-4.1 3.6M109.1 120.4l1.8 3.6M120.8 120.4l-3.9 3.6M126.6 120.4l2.1 3.6M138.3 120.4l-3.6 3.6M144.2 120.4l2.3 3.6M155.9 120.4l-3.5 3.6M161.8 120.4l2.5 3.6M173.5 120.4l-3.3 3.6M179.3 120.4l2.8 3.6M191.1 120.4l-3.1 3.6M196.9 120.4l3 3.6M208.6 120.4l-2.8 3.6M214.5 120.4l3.2 3.6M226.2 120.4l-2.6 3.6M232.1 120.4l3.4 3.6M243.8 120.4l-2.4 3.6M249.6 120.4l3.7 3.6M261.3 120.4l-2.1 3.6M267.2 120.4l3.8 3.6M278.9 120.4l-1.9 3.6M284.8 120.4l4 3.6M296.5 120.4l-1.7 3.6M302.3 120.4l4.3 3.6M314.1 120.4l-1.5 3.6M319.9 120.4l4.5 3.6M331.6 120.4l-1.3 3.6M337.5 120.4l4.7 3.6M349.2 120.4l-1.1 3.6M355.1 120.4l4.9 3.6M16.8 127.6l0.8 3.8M28.8 127.6l-5.2 3.8M34.8 127.6l1 3.8M46.8 127.6l-4.9 3.8M52.8 127.6l1.3 3.8M64.8 127.6l-4.7 3.8M70.8 127.6l1.5 3.8M82.9 127.6l-4.5 3.8M88.9 127.6l1.6 3.8M100.9 127.6l-4.3 3.8M106.9 127.6l1.9 3.8M118.9 127.6l-4 3.8M124.9 127.6l2.1 3.8M136.9 127.6l-3.8 3.8M142.9 127.6l2.4 3.8M154.9 127.6l-3.6 3.8M160.9 127.6l2.6 3.8M172.9 127.6l-3.3 3.8M178.9 127.6l2.8 3.8M190.9 127.6l-3.1 3.8M196.9 127.6l3.1 3.8M208.9 127.6l-2.8 3.8M214.9 127.6l3.3 3.8M227 127.6l-2.7 3.8M233 127.6l3.5 3.8M245 127.6l-2.4 3.8M251 127.6l3.7 3.8M263 127.6l-2.2 3.8M269 127.6l4 3.8M281 127.6l-2 3.8M287 127.6l4.2 3.8M299 127.6l-1.7 3.8M305 127.6l4.4 3.8M317 127.6l-1.5 3.8M323 127.6l4.7 3.8M335 127.6l-1.2 3.8M341 127.6l4.9 3.8M353 127.6l-1 3.8M359.1 127.6l5.1 3.8M12.2 135.2l0.7 4M24.5 135.2l-5.3 4M30.7 135.2l0.9 4M43 135.2l-5.1 4M49.1 135.2l1.3 4M61.5 135.2l-4.9 4M67.6 135.2l1.5 4M79.9 135.2l-4.6 4M86.1 135.2l1.7 4M98.4 135.2l-4.4 4M104.6 135.2l1.9 4M116.9 135.2l-4.2 4M123.1 135.2l2.1 4M135.4 135.2l-3.9 4M141.5 135.2l2.4 4M153.8 135.2l-3.6 4M160 135.2l2.7 4M172.3 135.2l-3.4 4M178.5 135.2l2.9 4M190.8 135.2l-3.2 4M197 135.2l3.1 4M209.3 135.2l-3 4M215.4 135.2l3.4 4M227.8 135.2l-2.8 4M233.9 135.2l3.6 4M246.2 135.2l-2.4 4M252.4 135.2l3.8 4M264.7 135.2l-2.2 4M270.9 135.2l4.1 4M283.2 135.2l-2 4M289.3 135.2l4.4 4M301.7 135.2l-1.8 4M307.8 135.2l4.6 4M320.1 135.2l-1.5 4M326.3 135.2l4.8 4M338.6 135.2l-1.2 4M344.8 135.2l5 4M357.1 135.2l-1 4M363.2 135.2l5.3 4"/></defs><g clip-path="url(#aClip)" fill="none" stroke-linejoin="round"><use href="#hcp" stroke="url(#hcG)" stroke-width="2.4" opacity="0.3"/><use href="#hcp" stroke="url(#hcG)" stroke-width="1"/></g>
<g fill="#0c2a10" opacity="0.55" filter="url(#aBlur)" clip-path="url(#aClip)"><ellipse cx="112.8" cy="13.3" rx="18.1" ry="10.5"/><ellipse cx="154.2" cy="13.3" rx="18.1" ry="10.5"/><ellipse cx="195.7" cy="13.3" rx="18.1" ry="10.5"/><ellipse cx="237.2" cy="13.3" rx="18.1" ry="10.5"/><ellipse cx="278.6" cy="13.3" rx="18.1" ry="10.5"/><ellipse cx="104.5" cy="31.3" rx="19.9" ry="11.5"/><ellipse cx="150.1" cy="31.3" rx="19.9" ry="11.5"/><ellipse cx="195.7" cy="31.3" rx="19.9" ry="11.5"/><ellipse cx="241.2" cy="31.3" rx="19.9" ry="11.5"/><ellipse cx="286.8" cy="31.3" rx="19.9" ry="11.5"/><ellipse cx="94.3" cy="53.5" rx="22.1" ry="12.8"/><ellipse cx="145" cy="53.5" rx="22.1" ry="12.8"/><ellipse cx="195.6" cy="53.5" rx="22.1" ry="12.8"/><ellipse cx="246.3" cy="53.5" rx="22.1" ry="12.8"/><ellipse cx="297" cy="53.5" rx="22.1" ry="12.8"/><ellipse cx="81.2" cy="82" rx="25" ry="14.4"/><ellipse cx="138.4" cy="82" rx="25" ry="14.4"/><ellipse cx="195.6" cy="82" rx="25" ry="14.4"/><ellipse cx="252.8" cy="82" rx="25" ry="14.4"/><ellipse cx="310" cy="82" rx="25" ry="14.4"/><ellipse cx="64.3" cy="118.8" rx="28.6" ry="16.5"/><ellipse cx="129.9" cy="118.8" rx="28.6" ry="16.5"/><ellipse cx="195.5" cy="118.8" rx="28.6" ry="16.5"/><ellipse cx="261.1" cy="118.8" rx="28.6" ry="16.5"/><ellipse cx="326.8" cy="118.8" rx="28.6" ry="16.5"/></g>
<g fill="#0a1c0d" opacity="0.42"><ellipse cx="110.9" cy="11.7" rx="10.4" ry="5.9"/><ellipse cx="152" cy="11.7" rx="10.4" ry="5.9"/><ellipse cx="193.1" cy="11.7" rx="10.4" ry="5.9"/><ellipse cx="234.2" cy="11.7" rx="10.4" ry="5.9"/><ellipse cx="275.3" cy="11.7" rx="10.4" ry="5.9"/><ellipse cx="102.5" cy="29.4" rx="11.4" ry="6.5"/><ellipse cx="147.7" cy="29.4" rx="11.4" ry="6.5"/><ellipse cx="192.8" cy="29.4" rx="11.4" ry="6.5"/><ellipse cx="238" cy="29.4" rx="11.4" ry="6.5"/><ellipse cx="283.1" cy="29.4" rx="11.4" ry="6.5"/><ellipse cx="92.2" cy="51.2" rx="12.7" ry="7.2"/><ellipse cx="142.4" cy="51.2" rx="12.7" ry="7.2"/><ellipse cx="192.5" cy="51.2" rx="12.7" ry="7.2"/><ellipse cx="242.6" cy="51.2" rx="12.7" ry="7.2"/><ellipse cx="292.8" cy="51.2" rx="12.7" ry="7.2"/><ellipse cx="79" cy="79.1" rx="14.3" ry="8.1"/><ellipse cx="135.5" cy="79.1" rx="14.3" ry="8.1"/><ellipse cx="192.1" cy="79.1" rx="14.3" ry="8.1"/><ellipse cx="248.6" cy="79.1" rx="14.3" ry="8.1"/><ellipse cx="305.1" cy="79.1" rx="14.3" ry="8.1"/><ellipse cx="62" cy="114.9" rx="16.4" ry="9.3"/><ellipse cx="126.8" cy="114.9" rx="16.4" ry="9.3"/><ellipse cx="191.5" cy="114.9" rx="16.4" ry="9.3"/><ellipse cx="256.2" cy="114.9" rx="16.4" ry="9.3"/><ellipse cx="320.9" cy="114.9" rx="16.4" ry="9.3"/></g>
<defs><path id="o00" d="M122.6 16l-2 0.7 -2.2 0.6 -2.4 0.5 -2.5 0.4 -2.7 0.2 -2.6 0.1 -2.5 0 -2.5-0.2 -2.3-0.3 -2-0.5 -1.8-0.5 -1.4-0.7 -1.1-0.8 -0.7-0.8 -0.3-0.9 0-0.9 0.4-0.9 0.8-0.9 1.2-0.9 1.4-0.8 1.7-0.7 2-0.7 2.1-0.5 2.3-0.5 2.4-0.3 2.5-0.2 2.4-0.1 2.4 0 2.3 0.1 2.2 0.3 2 0.4 1.7 0.5 1.5 0.6 1.2 0.7 0.9 0.8 -6.4 1.1 -0.5-0.5 -0.7-0.4 -1-0.3 -1.1-0.3 -1.2-0.2 -1.3-0.2 -1.5-0.1 -1.4 0 -1.6 0.1 -1.5 0.1 -1.4 0.2 -1.4 0.2 -1.3 0.4 -1.2 0.3 -1 0.5 -0.9 0.4 -0.6 0.5 -0.5 0.5 -0.2 0.5 0 0.5 0.3 0.5 0.4 0.5 0.7 0.4 0.9 0.4 1.1 0.3 1.3 0.2 1.3 0.2 1.5 0.1 1.6 0 1.5 0 1.6-0.2 1.5-0.2 1.5-0.3 1.3-0.3 1.2-0.4z"/><path id="i00" d="M115.7 13.4l-1.6 0.4 -1.9 0.3 -2 0.1 -1.9 0 -1.8-0.2 -1.4-0.4 -1-0.5 -0.5-0.6 0-0.6 0.6-0.6 1-0.6 1.4-0.4 1.8-0.4 1.8-0.2 2-0.1 1.8 0.1 1.6 0.3 1.3 0.4 0.9 0.5 -3.2 0.5 -0.4-0.3 -0.8-0.2 -0.8-0.1 -1.1 0 -1 0 -1.1 0.1 -0.9 0.2 -0.8 0.2 -0.5 0.3 -0.3 0.3 0 0.3 0.3 0.3 0.5 0.2 0.8 0.2 1 0.1 1 0.1 1.1-0.1 1-0.1 0.9-0.3z"/><path id="o01" d="M164.7 16l-1.8 0.7 -2.1 0.6 -2.3 0.5 -2.5 0.4 -2.5 0.2 -2.6 0.1 -2.6 0 -2.5-0.2 -2.3-0.3 -2.2-0.5 -1.9-0.5 -1.5-0.7 -1.3-0.8 -0.9-0.8 -0.6-0.9 -0.1-0.9 0.2-0.9 0.6-0.9 0.9-0.9 1.3-0.8 1.5-0.7 1.8-0.7 2-0.5 2.2-0.5 2.4-0.3 2.3-0.2 2.5-0.1 2.4 0 2.3 0.1 2.3 0.3 2 0.4 1.9 0.5 1.6 0.6 1.4 0.7 1 0.8 -6.1 1.1 -0.6-0.5 -0.8-0.4 -1-0.3 -1.2-0.3 -1.3-0.2 -1.3-0.2 -1.5-0.1 -1.5 0 -1.5 0.1 -1.5 0.1 -1.4 0.2 -1.3 0.2 -1.3 0.4 -1.1 0.3 -0.9 0.5 -0.7 0.4 -0.6 0.5 -0.3 0.5 -0.1 0.5 0.1 0.5 0.4 0.5 0.6 0.5 0.8 0.4 0.9 0.4 1.2 0.3 1.3 0.2 1.4 0.2 1.5 0.1 1.6 0 1.5 0 1.6-0.2 1.4-0.2 1.4-0.3 1.3-0.3 1.1-0.4z"/><path id="i01" d="M157.2 13.4l-1.6 0.4 -1.8 0.3 -1.9 0.1 -2 0 -1.8-0.2 -1.5-0.4 -1.1-0.5 -0.6-0.6 -0.1-0.6 0.4-0.6 0.9-0.6 1.3-0.4 1.6-0.4 1.9-0.2 1.9-0.1 1.9 0.1 1.6 0.3 1.4 0.4 1 0.5 -3 0.5 -0.6-0.3 -0.7-0.2 -1-0.1 -1 0 -1.1 0 -1 0.1 -0.9 0.2 -0.7 0.2 -0.5 0.3 -0.2 0.3 0.1 0.3 0.4 0.3 0.6 0.2 0.8 0.2 1 0.1 1 0.1 1.1-0.1 1-0.1 0.9-0.3z"/><path id="o02" d="M206.7 16l-1.6 0.7 -1.9 0.6 -2.2 0.5 -2.4 0.4 -2.5 0.2 -2.6 0.1 -2.5 0 -2.6-0.2 -2.4-0.3 -2.2-0.5 -2.1-0.5 -1.7-0.7 -1.4-0.8 -1.1-0.8 -0.8-0.9 -0.3-0.9 0-0.9 0.3-0.9 0.8-0.9 1.1-0.8 1.3-0.7 1.7-0.7 1.9-0.5 2.1-0.5 2.2-0.3 2.3-0.2 2.4-0.1 2.5 0 2.3 0.1 2.3 0.3 2.2 0.4 2 0.5 1.8 0.6 1.5 0.7 1.2 0.8 -5.9 1.1 -0.7-0.5 -0.9-0.4 -1.1-0.3 -1.2-0.3 -1.4-0.2 -1.4-0.2 -1.4-0.1 -1.5 0 -1.5 0.1 -1.5 0.1 -1.4 0.2 -1.2 0.2 -1.2 0.4 -1 0.3 -0.8 0.5 -0.7 0.4 -0.4 0.5 -0.2 0.5 0 0.5 0.3 0.5 0.4 0.5 0.7 0.5 0.9 0.4 1.1 0.4 1.2 0.3 1.3 0.2 1.5 0.2 1.5 0.1 1.6 0 1.5 0 1.5-0.2 1.5-0.2 1.3-0.3 1.2-0.3 1-0.4z"/><path id="i02" d="M198.7 13.4l-1.5 0.4 -1.7 0.3 -2 0.1 -1.9 0 -1.9-0.2 -1.5-0.4 -1.3-0.5 -0.7-0.6 -0.3-0.6 0.3-0.6 0.8-0.6 1.2-0.4 1.5-0.4 1.8-0.2 1.9-0.1 1.9 0.1 1.7 0.3 1.5 0.4 1.1 0.5 -2.9 0.5 -0.6-0.3 -0.8-0.2 -1-0.1 -1 0 -1.1 0 -1 0.1 -0.8 0.2 -0.7 0.2 -0.4 0.3 -0.1 0.3 0.1 0.3 0.4 0.3 0.7 0.2 0.9 0.2 1 0.1 1.1 0.1 1-0.1 1-0.1 0.8-0.3z"/><path id="o03" d="M248.8 16l-1.5 0.7 -1.8 0.6 -2 0.5 -2.3 0.4 -2.4 0.2 -2.6 0.1 -2.6 0 -2.6-0.2 -2.5-0.3 -2.3-0.5 -2.2-0.5 -1.9-0.7 -1.6-0.8 -1.3-0.8 -0.9-0.9 -0.6-0.9 -0.2-0.9 0.2-0.9 0.5-0.9 0.9-0.8 1.2-0.7 1.5-0.7 1.8-0.5 2-0.5 2.1-0.3 2.3-0.2 2.4-0.1 2.4 0 2.5 0.1 2.3 0.3 2.3 0.4 2.1 0.5 1.9 0.6 1.7 0.7 1.3 0.8 -5.6 1.1 -0.8-0.5 -1-0.4 -1.2-0.3 -1.3-0.3 -1.3-0.2 -1.5-0.2 -1.5-0.1 -1.5 0 -1.5 0.1 -1.4 0.1 -1.3 0.2 -1.2 0.2 -1.1 0.4 -0.9 0.3 -0.8 0.5 -0.5 0.4 -0.3 0.5 -0.1 0.5 0.1 0.5 0.4 0.5 0.6 0.5 0.7 0.5 1 0.4 1.2 0.4 1.3 0.3 1.4 0.2 1.5 0.2 1.5 0.1 1.6 0 1.5 0 1.5-0.2 1.4-0.2 1.2-0.3 1.1-0.3 1-0.4z"/><path id="i03" d="M240.1 13.4l-1.3 0.4 -1.7 0.3 -1.9 0.1 -2 0 -1.8-0.2 -1.7-0.4 -1.3-0.5 -0.9-0.6 -0.4-0.6 0.1-0.6 0.6-0.6 1.1-0.4 1.5-0.4 1.7-0.2 1.9-0.1 2 0.1 1.7 0.3 1.6 0.4 1.2 0.5 -2.8 0.5 -0.6-0.3 -0.9-0.2 -1-0.1 -1 0 -1.1 0 -0.9 0.1 -0.9 0.2 -0.6 0.2 -0.3 0.3 -0.1 0.3 0.2 0.3 0.5 0.3 0.7 0.2 1 0.2 1 0.1 1.1 0.1 1-0.1 0.9-0.1 0.8-0.3z"/><path id="o04" d="M290.9 16l-1.3 0.7 -1.7 0.6 -1.9 0.5 -2.2 0.4 -2.4 0.2 -2.5 0.1 -2.6 0 -2.7-0.2 -2.5-0.3 -2.5-0.5 -2.3-0.5 -2-0.7 -1.8-0.8 -1.5-0.8 -1.1-0.9 -0.8-0.9 -0.4-0.9 0-0.9 0.3-0.9 0.7-0.8 1-0.7 1.4-0.7 1.6-0.5 1.9-0.5 2.1-0.3 2.2-0.2 2.4-0.1 2.4 0 2.5 0.1 2.4 0.3 2.3 0.4 2.3 0.5 2 0.6 1.8 0.7 1.6 0.8 -5.4 1.1 -0.9-0.5 -1.1-0.4 -1.2-0.3 -1.4-0.3 -1.4-0.2 -1.5-0.2 -1.5-0.1 -1.5 0 -1.5 0.1 -1.4 0.1 -1.3 0.2 -1.1 0.2 -1 0.4 -0.9 0.3 -0.6 0.5 -0.4 0.4 -0.2 0.5 0 0.5 0.2 0.5 0.5 0.5 0.7 0.5 0.9 0.5 1.1 0.4 1.2 0.4 1.4 0.3 1.4 0.2 1.6 0.2 1.5 0.1 1.6 0 1.5 0 1.5-0.2 1.3-0.2 1.2-0.3 1-0.3 0.8-0.4z"/><path id="i04" d="M281.6 13.4l-1.2 0.4 -1.6 0.3 -1.9 0.1 -2 0 -1.9-0.2 -1.8-0.4 -1.4-0.5 -1.1-0.6 -0.5-0.6 0-0.6 0.5-0.6 1-0.4 1.4-0.4 1.7-0.2 1.9-0.1 1.9 0.1 1.8 0.3 1.7 0.4 1.3 0.5 -2.7 0.5 -0.7-0.3 -0.9-0.2 -1-0.1 -1.1 0 -1 0 -0.9 0.1 -0.8 0.2 -0.6 0.2 -0.2 0.3 -0.1 0.3 0.3 0.3 0.6 0.3 0.8 0.2 0.9 0.2 1.1 0.1 1.1 0.1 1-0.1 0.9-0.1 0.7-0.3z"/><path id="o10" d="M115.2 34.5l-2.2 0.9 -2.5 0.8 -2.7 0.6 -2.8 0.4 -2.9 0.3 -2.9 0.2 -2.8-0.1 -2.7-0.2 -2.5-0.4 -2.2-0.6 -1.9-0.7 -1.5-0.8 -1.2-0.9 -0.7-1 -0.3-1.1 0.1-1.1 0.5-1.1 0.9-1 1.3-1.1 1.6-1 1.9-0.8 2.2-0.8 2.4-0.7 2.6-0.6 2.6-0.4 2.7-0.2 2.7-0.2 2.6 0.1 2.5 0.2 2.4 0.3 2.2 0.5 1.9 0.6 1.6 0.7 1.2 0.8 1 1 -7.1 1.3 -0.5-0.6 -0.8-0.4 -1-0.5 -1.2-0.3 -1.3-0.3 -1.5-0.2 -1.6-0.1 -1.6 0 -1.7 0.1 -1.6 0.1 -1.6 0.3 -1.6 0.3 -1.4 0.4 -1.3 0.4 -1.2 0.5 -1 0.6 -0.7 0.6 -0.5 0.6 -0.3 0.6 0 0.6 0.3 0.6 0.5 0.5 0.7 0.5 1 0.5 1.1 0.4 1.4 0.3 1.5 0.2 1.6 0.1 1.7 0 1.7 0 1.8-0.2 1.7-0.3 1.6-0.3 1.4-0.4 1.4-0.5z"/><path id="i10" d="M107.7 31.4l-1.8 0.5 -2.1 0.4 -2.2 0.1 -2.1 0 -1.9-0.3 -1.6-0.4 -1-0.6 -0.6-0.7 0.1-0.8 0.7-0.7 1.1-0.7 1.6-0.6 1.9-0.4 2.1-0.3 2.1 0 2 0.1 1.8 0.3 1.4 0.5 0.9 0.6 -3.5 0.6 -0.5-0.3 -0.7-0.2 -1-0.2 -1.1-0.1 -1.2 0.1 -1.2 0.1 -1 0.2 -0.9 0.3 -0.6 0.4 -0.3 0.3 0 0.4 0.3 0.3 0.6 0.3 0.8 0.3 1.1 0.1 1.2 0 1.2-0.1 1.1-0.1 1-0.3z"/><path id="o11" d="M161.5 34.5l-2 0.9 -2.3 0.8 -2.5 0.6 -2.7 0.4 -2.9 0.3 -2.8 0.2 -2.9-0.1 -2.7-0.2 -2.6-0.4 -2.3-0.6 -2.1-0.7 -1.7-0.8 -1.4-0.9 -1-1 -0.5-1.1 -0.2-1.1 0.3-1.1 0.7-1 1-1.1 1.4-1 1.8-0.8 2-0.8 2.2-0.7 2.4-0.6 2.6-0.4 2.6-0.2 2.7-0.2 2.6 0.1 2.6 0.2 2.4 0.3 2.3 0.5 2 0.6 1.8 0.7 1.4 0.8 1.2 1 -6.8 1.3 -0.6-0.6 -0.9-0.4 -1.1-0.5 -1.3-0.3 -1.4-0.3 -1.5-0.2 -1.6-0.1 -1.6 0 -1.7 0.1 -1.6 0.1 -1.6 0.3 -1.4 0.3 -1.4 0.4 -1.2 0.4 -1 0.5 -0.9 0.6 -0.6 0.6 -0.4 0.6 -0.1 0.6 0.2 0.6 0.3 0.6 0.7 0.5 0.8 0.5 1.1 0.5 1.2 0.4 1.5 0.3 1.5 0.2 1.7 0.1 1.7 0 1.7 0 1.7-0.2 1.6-0.3 1.5-0.3 1.4-0.4 1.2-0.5z"/><path id="i11" d="M153.3 31.4l-1.7 0.5 -2 0.4 -2.1 0.1 -2.2 0 -2-0.3 -1.6-0.4 -1.2-0.6 -0.7-0.7 -0.1-0.8 0.5-0.7 1-0.7 1.5-0.6 1.8-0.4 2-0.3 2.1 0 2 0.1 1.9 0.3 1.5 0.5 1 0.6 -3.3 0.6 -0.6-0.3 -0.8-0.2 -1-0.2 -1.2-0.1 -1.1 0.1 -1.1 0.1 -1 0.2 -0.8 0.3 -0.6 0.4 -0.2 0.3 0.1 0.4 0.3 0.3 0.7 0.3 0.9 0.3 1.1 0.1 1.2 0 1.2-0.1 1-0.1 1-0.3z"/><path id="o12" d="M207.8 34.5l-1.8 0.9 -2.1 0.8 -2.4 0.6 -2.6 0.4 -2.8 0.3 -2.8 0.2 -2.9-0.1 -2.7-0.2 -2.7-0.4 -2.5-0.6 -2.2-0.7 -1.9-0.8 -1.6-0.9 -1.2-1 -0.8-1.1 -0.4-1.1 0-1.1 0.5-1 0.8-1.1 1.2-1 1.5-0.8 1.8-0.8 2.1-0.7 2.3-0.6 2.4-0.4 2.6-0.2 2.6-0.2 2.7 0.1 2.6 0.2 2.5 0.3 2.4 0.5 2.1 0.6 2 0.7 1.6 0.8 1.4 1 -6.4 1.3 -0.8-0.6 -1.1-0.4 -1.1-0.5 -1.4-0.3 -1.4-0.3 -1.6-0.2 -1.6-0.1 -1.7 0 -1.6 0.1 -1.6 0.1 -1.5 0.3 -1.4 0.3 -1.3 0.4 -1.1 0.4 -0.9 0.5 -0.7 0.6 -0.5 0.6 -0.2 0.6 0 0.6 0.3 0.6 0.5 0.6 0.7 0.5 1 0.5 1.2 0.5 1.3 0.4 1.5 0.3 1.6 0.2 1.7 0.1 1.7 0 1.7 0 1.7-0.2 1.5-0.3 1.5-0.3 1.3-0.4 1.1-0.5z"/><path id="i12" d="M198.9 31.4l-1.6 0.5 -1.9 0.4 -2.1 0.1 -2.2 0 -2-0.3 -1.7-0.4 -1.4-0.6 -0.8-0.7 -0.3-0.8 0.3-0.7 0.9-0.7 1.3-0.6 1.7-0.4 2-0.3 2.1 0 2 0.1 1.9 0.3 1.6 0.5 1.2 0.6 -3.1 0.6 -0.7-0.3 -0.9-0.2 -1-0.2 -1.2-0.1 -1.1 0.1 -1.1 0.1 -1 0.2 -0.7 0.3 -0.5 0.4 -0.1 0.3 0.1 0.4 0.5 0.3 0.8 0.3 0.9 0.3 1.1 0.1 1.2 0 1.2-0.1 1-0.1 0.9-0.3z"/><path id="o13" d="M254.2 34.5l-1.7 0.9 -1.9 0.8 -2.3 0.6 -2.5 0.4 -2.7 0.3 -2.8 0.2 -2.8-0.1 -2.9-0.2 -2.7-0.4 -2.6-0.6 -2.4-0.7 -2.1-0.8 -1.8-0.9 -1.4-1 -1.1-1.1 -0.6-1.1 -0.2-1.1 0.1-1 0.6-1.1 1-1 1.3-0.8 1.6-0.8 1.9-0.7 2.2-0.6 2.4-0.4 2.5-0.2 2.6-0.2 2.6 0.1 2.7 0.2 2.6 0.3 2.5 0.5 2.3 0.6 2.1 0.7 1.8 0.8 1.6 1 -6.1 1.3 -1-0.6 -1.1-0.4 -1.3-0.5 -1.4-0.3 -1.5-0.3 -1.6-0.2 -1.6-0.1 -1.7 0 -1.6 0.1 -1.6 0.1 -1.4 0.3 -1.4 0.3 -1.1 0.4 -1 0.4 -0.8 0.5 -0.6 0.6 -0.3 0.6 -0.1 0.6 0.1 0.6 0.4 0.6 0.7 0.6 0.8 0.5 1.1 0.5 1.3 0.5 1.4 0.4 1.6 0.3 1.7 0.2 1.7 0.1 1.7 0 1.7 0 1.6-0.2 1.5-0.3 1.4-0.3 1.2-0.4 1-0.5z"/><path id="i13" d="M244.5 31.4l-1.4 0.5 -1.9 0.4 -2.1 0.1 -2.1 0 -2.1-0.3 -1.9-0.4 -1.4-0.6 -1-0.7 -0.5-0.8 0.2-0.7 0.7-0.7 1.1-0.6 1.7-0.4 1.9-0.3 2 0 2.1 0.1 2 0.3 1.7 0.5 1.4 0.6 -3.1 0.6 -0.7-0.3 -0.9-0.2 -1.1-0.2 -1.2-0.1 -1.1 0.1 -1.1 0.1 -0.9 0.2 -0.7 0.3 -0.3 0.4 -0.1 0.3 0.2 0.4 0.6 0.3 0.8 0.3 1 0.3 1.1 0.1 1.2 0 1.2-0.1 1-0.1 0.8-0.3z"/><path id="o14" d="M300.5 34.5l-1.4 0.9 -1.8 0.8 -2.1 0.6 -2.4 0.4 -2.6 0.3 -2.8 0.2 -2.9-0.1 -2.9-0.2 -2.8-0.4 -2.8-0.6 -2.5-0.7 -2.3-0.8 -2-0.9 -1.7-1 -1.2-1.1 -0.9-1.1 -0.5-1.1 -0.1-1 0.4-1.1 0.7-1 1.1-0.8 1.5-0.8 1.7-0.7 2.1-0.6 2.2-0.4 2.5-0.2 2.6-0.2 2.6 0.1 2.7 0.2 2.7 0.3 2.6 0.5 2.4 0.6 2.3 0.7 2.1 0.8 1.7 1 -5.8 1.3 -1.1-0.6 -1.2-0.4 -1.4-0.5 -1.5-0.3 -1.6-0.3 -1.6-0.2 -1.7-0.1 -1.6 0 -1.6 0.1 -1.5 0.1 -1.4 0.3 -1.3 0.3 -1.1 0.4 -0.9 0.4 -0.7 0.5 -0.4 0.6 -0.2 0.6 0 0.6 0.3 0.6 0.6 0.6 0.7 0.6 1 0.5 1.2 0.5 1.4 0.5 1.5 0.4 1.7 0.3 1.7 0.2 1.7 0.1 1.7 0 1.7 0 1.6-0.2 1.4-0.3 1.3-0.3 1.1-0.4 0.9-0.5z"/><path id="i14" d="M290.2 31.4l-1.4 0.5 -1.8 0.4 -2 0.1 -2.2 0 -2.1-0.3 -2-0.4 -1.6-0.6 -1.2-0.7 -0.6-0.8 0-0.7 0.5-0.7 1.1-0.6 1.5-0.4 1.9-0.3 2 0 2.1 0.1 2.1 0.3 1.8 0.5 1.5 0.6 -2.9 0.6 -0.8-0.3 -1-0.2 -1.1-0.2 -1.2-0.1 -1.2 0.1 -1 0.1 -0.8 0.2 -0.6 0.3 -0.3 0.4 0 0.3 0.3 0.4 0.6 0.3 0.9 0.3 1.1 0.3 1.1 0.1 1.2 0 1.2-0.1 0.9-0.1 0.8-0.3z"/><path id="o20" d="M106 57.5l-2.5 1.1 -2.8 0.9 -3 0.8 -3.2 0.6 -3.2 0.3 -3.3 0.2 -3.1-0.1 -3-0.3 -2.7-0.4 -2.5-0.7 -2-0.9 -1.7-1 -1.2-1.2 -0.8-1.2 -0.3-1.3 0.2-1.4 0.7-1.3 1.1-1.3 1.5-1.3 1.9-1.2 2.2-1.1 2.4-1 2.7-0.8 2.9-0.7 2.9-0.5 3-0.3 3-0.2 2.9 0.1 2.8 0.2 2.6 0.4 2.3 0.6 2.1 0.7 1.8 0.9 1.3 1.1 1 1.1 -7.8 1.6 -0.6-0.7 -0.9-0.6 -1.1-0.5 -1.3-0.4 -1.4-0.3 -1.6-0.3 -1.8-0.1 -1.8 0 -1.8 0.1 -1.9 0.1 -1.8 0.3 -1.7 0.4 -1.7 0.5 -1.4 0.6 -1.3 0.6 -1.1 0.7 -0.9 0.7 -0.6 0.7 -0.3 0.8 -0.1 0.7 0.2 0.8 0.5 0.7 0.8 0.6 1.1 0.5 1.3 0.5 1.5 0.4 1.6 0.2 1.8 0.2 1.9 0 1.9 0 2-0.2 1.9-0.4 1.8-0.4 1.6-0.5 1.5-0.6z"/><path id="i20" d="M97.9 53.7l-2.1 0.6 -2.3 0.4 -2.5 0.2 -2.3-0.1 -2.1-0.3 -1.7-0.5 -1.2-0.8 -0.5-0.8 0.1-0.9 0.8-0.9 1.3-0.9 1.8-0.7 2.1-0.5 2.4-0.4 2.3 0 2.3 0.1 1.9 0.4 1.5 0.6 1 0.7 -3.9 0.8 -0.5-0.4 -0.9-0.3 -1.1-0.2 -1.2-0.1 -1.3 0.1 -1.3 0.1 -1.2 0.3 -0.9 0.4 -0.7 0.4 -0.4 0.4 -0.1 0.5 0.4 0.4 0.6 0.4 0.9 0.3 1.2 0.1 1.3 0.1 1.3-0.1 1.3-0.2 1.1-0.4z"/><path id="o21" d="M157.6 57.5l-2.3 1.1 -2.5 0.9 -2.9 0.8 -3 0.6 -3.2 0.3 -3.2 0.2 -3.1-0.1 -3.1-0.3 -2.9-0.4 -2.5-0.7 -2.3-0.9 -1.9-1 -1.5-1.2 -1-1.2 -0.6-1.3 -0.1-1.4 0.3-1.3 0.8-1.3 1.2-1.3 1.6-1.2 2-1.1 2.2-1 2.5-0.8 2.7-0.7 2.8-0.5 3-0.3 2.9-0.2 2.9 0.1 2.9 0.2 2.7 0.4 2.4 0.6 2.3 0.7 1.9 0.9 1.6 1.1 1.3 1.1 -7.5 1.6 -0.8-0.7 -0.9-0.6 -1.2-0.5 -1.4-0.4 -1.6-0.3 -1.6-0.3 -1.8-0.1 -1.8 0 -1.8 0.1 -1.8 0.1 -1.8 0.3 -1.6 0.4 -1.6 0.5 -1.3 0.6 -1.2 0.6 -0.9 0.7 -0.7 0.7 -0.5 0.7 -0.1 0.8 0.1 0.7 0.4 0.8 0.7 0.7 0.9 0.6 1.2 0.5 1.4 0.5 1.5 0.4 1.8 0.2 1.8 0.2 1.9 0 1.9 0 1.9-0.2 1.8-0.4 1.7-0.4 1.6-0.5 1.3-0.6z"/><path id="i21" d="M148.6 53.7l-1.9 0.6 -2.3 0.4 -2.4 0.2 -2.4-0.1 -2.2-0.3 -1.8-0.5 -1.3-0.8 -0.7-0.8 -0.1-0.9 0.5-0.9 1.2-0.9 1.6-0.7 2-0.5 2.3-0.4 2.3 0 2.3 0.1 2 0.4 1.7 0.6 1.1 0.7 -3.7 0.8 -0.6-0.4 -0.9-0.3 -1.1-0.2 -1.3-0.1 -1.3 0.1 -1.2 0.1 -1.2 0.3 -0.8 0.4 -0.7 0.4 -0.2 0.4 0 0.5 0.5 0.4 0.7 0.4 1 0.3 1.2 0.1 1.3 0.1 1.3-0.1 1.2-0.2 1.1-0.4z"/><path id="o22" d="M209.2 57.5l-2 1.1 -2.4 0.9 -2.7 0.8 -2.9 0.6 -3 0.3 -3.2 0.2 -3.2-0.1 -3.1-0.3 -3-0.4 -2.7-0.7 -2.5-0.9 -2.1-1 -1.8-1.2 -1.3-1.2 -0.9-1.3 -0.4-1.4 0.1-1.3 0.4-1.3 1-1.3 1.3-1.2 1.7-1.1 2-1 2.3-0.8 2.5-0.7 2.8-0.5 2.8-0.3 2.9-0.2 3 0.1 2.8 0.2 2.8 0.4 2.6 0.6 2.5 0.7 2.1 0.9 1.9 1.1 1.5 1.1 -7.2 1.6 -0.9-0.7 -1.1-0.6 -1.3-0.5 -1.5-0.4 -1.6-0.3 -1.7-0.3 -1.8-0.1 -1.8 0 -1.8 0.1 -1.8 0.1 -1.7 0.3 -1.6 0.4 -1.4 0.5 -1.2 0.6 -1 0.6 -0.8 0.7 -0.5 0.7 -0.3 0.7 0 0.8 0.3 0.7 0.6 0.8 0.8 0.7 1.1 0.6 1.3 0.5 1.5 0.5 1.6 0.4 1.8 0.2 1.9 0.2 1.9 0 1.9 0 1.8-0.2 1.8-0.4 1.6-0.4 1.4-0.5 1.3-0.6z"/><path id="i22" d="M199.3 53.7l-1.8 0.6 -2.1 0.4 -2.4 0.2 -2.4-0.1 -2.3-0.3 -1.9-0.5 -1.5-0.8 -0.9-0.8 -0.3-0.9 0.3-0.9 1-0.9 1.5-0.7 1.9-0.5 2.1-0.4 2.4 0 2.3 0.1 2.1 0.4 1.8 0.6 1.3 0.7 -3.6 0.8 -0.7-0.4 -1-0.3 -1.1-0.2 -1.3-0.1 -1.3 0.1 -1.2 0.1 -1 0.3 -0.9 0.4 -0.5 0.4 -0.1 0.4 0.1 0.5 0.6 0.4 0.8 0.4 1 0.3 1.3 0.1 1.3 0.1 1.3-0.1 1.1-0.2 1-0.4z"/><path id="o23" d="M260.8 57.5l-1.8 1.1 -2.1 0.9 -2.5 0.8 -2.8 0.6 -3 0.3 -3.1 0.2 -3.2-0.1 -3.2-0.3 -3.1-0.4 -2.9-0.7 -2.7-0.9 -2.3-1 -2-1.2 -1.6-1.2 -1.2-1.3 -0.8-1.4 -0.2-1.3 0.2-1.3 0.6-1.3 1-1.2 1.5-1.1 1.8-1 2.1-0.8 2.4-0.7 2.6-0.5 2.8-0.3 2.8-0.2 3 0.1 2.9 0.2 2.9 0.4 2.7 0.6 2.6 0.7 2.4 0.9 2.1 1.1 1.7 1.1 -6.7 1.6 -1.1-0.7 -1.2-0.6 -1.5-0.5 -1.5-0.4 -1.7-0.3 -1.8-0.3 -1.8-0.1 -1.9 0 -1.8 0.1 -1.7 0.1 -1.6 0.3 -1.5 0.4 -1.3 0.5 -1.1 0.6 -0.8 0.6 -0.7 0.7 -0.3 0.7 -0.1 0.7 0.2 0.8 0.4 0.7 0.8 0.8 0.9 0.7 1.3 0.6 1.4 0.5 1.6 0.5 1.7 0.4 1.9 0.2 1.9 0.2 1.9 0 1.9 0 1.8-0.2 1.6-0.4 1.6-0.4 1.3-0.5 1.1-0.6z"/><path id="i23" d="M250 53.7l-1.7 0.6 -2 0.4 -2.3 0.2 -2.4-0.1 -2.4-0.3 -2-0.5 -1.7-0.8 -1.1-0.8 -0.5-0.9 0.1-0.9 0.8-0.9 1.3-0.7 1.8-0.5 2.1-0.4 2.3 0 2.3 0.1 2.2 0.4 1.9 0.6 1.5 0.7 -3.3 0.8 -0.8-0.4 -1.1-0.3 -1.2-0.2 -1.3-0.1 -1.3 0.1 -1.1 0.1 -1 0.3 -0.8 0.4 -0.4 0.4 0 0.4 0.2 0.5 0.6 0.4 1 0.4 1.1 0.3 1.2 0.1 1.4 0.1 1.2-0.1 1.1-0.2 0.9-0.4z"/><path id="o24" d="M312.4 57.5l-1.6 1.1 -1.9 0.9 -2.3 0.8 -2.7 0.6 -2.9 0.3 -3.1 0.2 -3.2-0.1 -3.2-0.3 -3.2-0.4 -3.1-0.7 -2.8-0.9 -2.6-1 -2.3-1.2 -1.9-1.2 -1.5-1.3 -1-1.4 -0.6-1.3 -0.1-1.3 0.3-1.3 0.8-1.2 1.2-1.1 1.6-1 1.9-0.8 2.2-0.7 2.5-0.5 2.7-0.3 2.9-0.2 2.9 0.1 3 0.2 3 0.4 2.9 0.6 2.7 0.7 2.6 0.9 2.3 1.1 2 1.1 -6.4 1.6 -1.2-0.7 -1.4-0.6 -1.5-0.5 -1.7-0.4 -1.8-0.3 -1.8-0.3 -1.9-0.1 -1.8 0 -1.8 0.1 -1.6 0.1 -1.6 0.3 -1.4 0.4 -1.2 0.5 -0.9 0.6 -0.8 0.6 -0.4 0.7 -0.2 0.7 0 0.7 0.4 0.8 0.6 0.7 0.9 0.8 1.2 0.7 1.3 0.6 1.6 0.5 1.7 0.5 1.8 0.4 1.9 0.2 2 0.2 1.9 0 1.8 0 1.8-0.2 1.6-0.4 1.4-0.4 1.2-0.5 1-0.6z"/><path id="i24" d="M300.7 53.7l-1.5 0.6 -2 0.4 -2.2 0.2 -2.5-0.1 -2.4-0.3 -2.1-0.5 -1.9-0.8 -1.3-0.8 -0.7-0.9 -0.1-0.9 0.6-0.9 1.1-0.7 1.7-0.5 2-0.4 2.3 0 2.4 0.1 2.3 0.4 2 0.6 1.7 0.7 -3.2 0.8 -0.9-0.4 -1.1-0.3 -1.3-0.2 -1.3-0.1 -1.3 0.1 -1.1 0.1 -0.9 0.3 -0.7 0.4 -0.3 0.4 0.1 0.4 0.3 0.5 0.7 0.4 1 0.4 1.2 0.3 1.3 0.1 1.3 0.1 1.3-0.1 1.1-0.2 0.8-0.4z"/><path id="o30" d="M94.1 87.2l-2.9 1.4 -3.2 1.2 -3.4 1 -3.7 0.7 -3.7 0.5 -3.7 0.2 -3.5-0.1 -3.4-0.4 -3.1-0.6 -2.7-0.9 -2.3-1.1 -1.8-1.3 -1.2-1.5 -0.8-1.5 -0.2-1.7 0.3-1.7 0.9-1.8 1.3-1.7 1.8-1.6 2.2-1.5 2.6-1.4 2.8-1.2 3.1-1.1 3.3-0.8 3.3-0.6 3.4-0.5 3.4-0.1 3.2 0 3.1 0.3 2.9 0.5 2.6 0.7 2.3 1 1.9 1.1 1.5 1.3 1 1.5 -8.9 2 -0.6-0.8 -0.9-0.8 -1.2-0.6 -1.4-0.6 -1.7-0.4 -1.8-0.3 -1.9-0.2 -2 0 -2.1 0.1 -2.1 0.2 -2.1 0.4 -2 0.5 -1.8 0.6 -1.8 0.7 -1.5 0.8 -1.3 0.9 -1 0.9 -0.7 0.9 -0.5 1 -0.1 1 0.2 0.9 0.6 0.9 0.8 0.8 1.1 0.7 1.5 0.6 1.6 0.4 1.9 0.4 2 0.2 2.1 0 2.2-0.1 2.2-0.2 2.2-0.4 2.1-0.6 1.9-0.6 1.7-0.8z"/><path id="i30" d="M85.2 82.3l-2.4 0.8 -2.7 0.5 -2.7 0.3 -2.7-0.1 -2.4-0.4 -1.8-0.7 -1.3-0.9 -0.5-1.1 0.2-1.2 0.9-1.2 1.6-1 2.1-0.9 2.4-0.7 2.7-0.4 2.6-0.1 2.5 0.1 2.2 0.5 1.6 0.8 1.1 0.9 -4.4 1 -0.6-0.5 -0.9-0.4 -1.2-0.2 -1.4-0.1 -1.5 0 -1.5 0.2 -1.3 0.4 -1.1 0.4 -0.9 0.6 -0.4 0.6 -0.1 0.5 0.3 0.6 0.7 0.4 1.1 0.4 1.3 0.2 1.4 0 1.6-0.1 1.4-0.3 1.3-0.4z"/><path id="o31" d="M152.5 87.2l-2.6 1.4 -2.9 1.2 -3.2 1 -3.5 0.7 -3.6 0.5 -3.6 0.2 -3.6-0.1 -3.5-0.4 -3.2-0.6 -2.9-0.9 -2.5-1.1 -2.1-1.3 -1.7-1.5 -1.1-1.5 -0.6-1.7 0-1.7 0.4-1.8 1-1.7 1.4-1.6 1.9-1.5 2.2-1.4 2.6-1.2 2.8-1.1 3.1-0.8 3.2-0.6 3.3-0.5 3.3-0.1 3.3 0 3.1 0.3 3 0.5 2.8 0.7 2.5 1 2.2 1.1 1.8 1.3 1.3 1.5 -8.4 2 -0.9-0.8 -1-0.8 -1.4-0.6 -1.5-0.6 -1.7-0.4 -1.9-0.3 -2-0.2 -2 0 -2.1 0.1 -2 0.2 -2 0.4 -1.9 0.5 -1.7 0.6 -1.6 0.7 -1.3 0.8 -1.1 0.9 -0.8 0.9 -0.5 0.9 -0.2 1 0.1 1 0.4 0.9 0.7 0.9 1 0.8 1.3 0.7 1.6 0.6 1.8 0.4 1.9 0.4 2.1 0.2 2.1 0 2.2-0.1 2.1-0.2 2.1-0.4 1.9-0.6 1.8-0.6 1.6-0.8z"/><path id="i31" d="M142.4 82.3l-2.1 0.8 -2.6 0.5 -2.7 0.3 -2.7-0.1 -2.4-0.4 -2.1-0.7 -1.4-0.9 -0.8-1.1 -0.1-1.2 0.7-1.2 1.3-1 1.9-0.9 2.3-0.7 2.5-0.4 2.7-0.1 2.5 0.1 2.3 0.5 1.8 0.8 1.3 0.9 -4.2 1 -0.7-0.5 -1.1-0.4 -1.2-0.2 -1.4-0.1 -1.5 0 -1.4 0.2 -1.3 0.4 -1 0.4 -0.7 0.6 -0.3 0.6 0 0.5 0.5 0.6 0.8 0.4 1.1 0.4 1.4 0.2 1.5 0 1.4-0.1 1.4-0.3 1.2-0.4z"/><path id="o32" d="M210.9 87.2l-2.2 1.4 -2.7 1.2 -3 1 -3.3 0.7 -3.5 0.5 -3.6 0.2 -3.6-0.1 -3.5-0.4 -3.4-0.6 -3.1-0.9 -2.8-1.1 -2.4-1.3 -2-1.5 -1.4-1.5 -1-1.7 -0.5-1.7 0.1-1.8 0.6-1.7 1-1.6 1.5-1.5 1.9-1.4 2.3-1.2 2.6-1.1 2.9-0.8 3-0.6 3.2-0.5 3.3-0.1 3.3 0 3.2 0.3 3.2 0.5 2.9 0.7 2.7 1 2.5 1.1 2 1.3 1.7 1.5 -8 2 -1-0.8 -1.2-0.8 -1.5-0.6 -1.7-0.6 -1.8-0.4 -2-0.3 -2-0.2 -2 0 -2.1 0.1 -1.9 0.2 -1.9 0.4 -1.8 0.5 -1.6 0.6 -1.4 0.7 -1.1 0.8 -0.9 0.9 -0.6 0.9 -0.3 0.9 0 1 0.3 1 0.6 0.9 1 0.9 1.2 0.8 1.4 0.7 1.7 0.6 1.9 0.4 2 0.4 2.1 0.2 2.2 0 2.1-0.1 2.1-0.2 2-0.4 1.8-0.6 1.6-0.6 1.4-0.8z"/><path id="i32" d="M199.7 82.3l-2 0.8 -2.4 0.5 -2.7 0.3 -2.7-0.1 -2.5-0.4 -2.2-0.7 -1.7-0.9 -1-1.1 -0.4-1.2 0.4-1.2 1.1-1 1.7-0.9 2.1-0.7 2.5-0.4 2.6-0.1 2.6 0.1 2.3 0.5 2 0.8 1.5 0.9 -4 1 -0.8-0.5 -1.1-0.4 -1.3-0.2 -1.4-0.1 -1.5 0 -1.3 0.2 -1.2 0.4 -0.9 0.4 -0.6 0.6 -0.2 0.6 0.2 0.5 0.6 0.6 0.9 0.4 1.2 0.4 1.4 0.2 1.5 0 1.4-0.1 1.3-0.3 1.1-0.4z"/><path id="o33" d="M269.3 87.2l-1.9 1.4 -2.4 1.2 -2.8 1 -3.2 0.7 -3.3 0.5 -3.6 0.2 -3.6-0.1 -3.6-0.4 -3.5-0.6 -3.3-0.9 -3.1-1.1 -2.7-1.3 -2.3-1.5 -1.8-1.5 -1.4-1.7 -0.8-1.7 -0.4-1.8 0.2-1.7 0.7-1.6 1.2-1.5 1.6-1.4 2-1.2 2.3-1.1 2.7-0.8 2.9-0.6 3.1-0.5 3.2-0.1 3.3 0 3.3 0.3 3.3 0.5 3.1 0.7 2.9 1 2.7 1.1 2.4 1.3 2 1.5 -7.5 2 -1.2-0.8 -1.4-0.8 -1.7-0.6 -1.8-0.6 -1.9-0.4 -2-0.3 -2.1-0.2 -2 0 -2 0.1 -2 0.2 -1.8 0.4 -1.6 0.5 -1.5 0.6 -1.2 0.7 -1 0.8 -0.7 0.9 -0.3 0.9 -0.1 0.9 0.2 1 0.5 1 0.9 0.9 1.1 0.9 1.4 0.8 1.6 0.7 1.9 0.6 1.9 0.4 2.1 0.4 2.2 0.2 2.1 0 2.2-0.1 2-0.2 1.9-0.4 1.7-0.6 1.5-0.6 1.2-0.8z"/><path id="i33" d="M256.9 82.3l-1.8 0.8 -2.3 0.5 -2.6 0.3 -2.7-0.1 -2.6-0.4 -2.4-0.7 -1.9-0.9 -1.3-1.1 -0.5-1.2 0.1-1.2 0.8-1 1.5-0.9 1.9-0.7 2.4-0.4 2.6-0.1 2.6 0.1 2.5 0.5 2.2 0.8 1.7 0.9 -3.8 1 -0.9-0.5 -1.2-0.4 -1.4-0.2 -1.4-0.1 -1.4 0 -1.4 0.2 -1.1 0.4 -0.8 0.4 -0.4 0.6 -0.1 0.6 0.3 0.5 0.7 0.6 1.1 0.4 1.2 0.4 1.5 0.2 1.5 0 1.4-0.1 1.3-0.3 1-0.4z"/><path id="o34" d="M327.7 87.2l-1.6 1.4 -2.2 1.2 -2.5 1 -3 0.7 -3.3 0.5 -3.5 0.2 -3.6-0.1 -3.7-0.4 -3.7-0.6 -3.5-0.9 -3.3-1.1 -3-1.3 -2.6-1.5 -2.2-1.5 -1.7-1.7 -1.3-1.7 -0.7-1.8 -0.2-1.7 0.3-1.6 0.8-1.5 1.3-1.4 1.7-1.2 2.1-1.1 2.5-0.8 2.8-0.6 3-0.5 3.2-0.1 3.3 0 3.4 0.3 3.3 0.5 3.3 0.7 3.2 1 2.9 1.1 2.7 1.3 2.3 1.5 -7.1 2 -1.3-0.8 -1.7-0.8 -1.7-0.6 -2-0.6 -2-0.4 -2.1-0.3 -2-0.2 -2.1 0 -2 0.1 -1.9 0.2 -1.7 0.4 -1.5 0.5 -1.3 0.6 -1.1 0.7 -0.8 0.8 -0.5 0.9 -0.2 0.9 0.2 0.9 0.4 1 0.8 1 1 0.9 1.3 0.9 1.6 0.8 1.8 0.7 2 0.6 2.1 0.4 2.1 0.4 2.2 0.2 2.2 0 2.1-0.1 2-0.2 1.8-0.4 1.6-0.6 1.3-0.6 1-0.8z"/><path id="i34" d="M314.2 82.3l-1.6 0.8 -2.2 0.5 -2.6 0.3 -2.7-0.1 -2.7-0.4 -2.5-0.7 -2.1-0.9 -1.6-1.1 -0.8-1.2 -0.2-1.2 0.6-1 1.3-0.9 1.8-0.7 2.3-0.4 2.5-0.1 2.7 0.1 2.6 0.5 2.3 0.8 2 0.9 -3.6 1 -1-0.5 -1.3-0.4 -1.4-0.2 -1.5-0.1 -1.4 0 -1.3 0.2 -1 0.4 -0.7 0.4 -0.3 0.6 0 0.6 0.5 0.5 0.8 0.6 1.1 0.4 1.4 0.4 1.5 0.2 1.5 0 1.4-0.1 1.2-0.3 0.9-0.4z"/><path id="o40" d="M78.8 125.6l-3.4 1.8 -3.8 1.6 -4.1 1.3 -4.2 1 -4.3 0.6 -4.3 0.3 -4.1-0.1 -3.9-0.5 -3.4-0.9 -3.1-1.1 -2.5-1.5 -2-1.7 -1.3-2 -0.7-2.1 -0.1-2.2 0.6-2.2 1.1-2.3 1.7-2.2 2.2-2.1 2.7-2 3-1.8 3.4-1.6 3.6-1.4 3.7-1.1 3.9-0.8 3.9-0.6 3.8-0.2 3.7 0.1 3.5 0.3 3.3 0.7 2.9 1 2.6 1.2 2.1 1.5 1.6 1.7 1.1 1.8 -10.4 2.7 -0.6-1.1 -1-1 -1.3-0.8 -1.6-0.7 -1.9-0.6 -2-0.4 -2.2-0.2 -2.3-0.1 -2.4 0.2 -2.4 0.3 -2.4 0.5 -2.3 0.6 -2.2 0.8 -2 0.9 -1.8 1.1 -1.5 1.1 -1.3 1.2 -0.9 1.3 -0.6 1.2 -0.2 1.3 0.1 1.2 0.5 1.1 0.9 1.1 1.3 0.9 1.6 0.8 1.8 0.7 2.1 0.4 2.3 0.3 2.5 0 2.5-0.1 2.6-0.4 2.5-0.5 2.4-0.7 2.3-0.8 2-1z"/><path id="i40" d="M68.9 119.1l-2.8 1 -3.1 0.7 -3.2 0.4 -3.1-0.2 -2.6-0.5 -2.1-0.9 -1.4-1.2 -0.5-1.5 0.3-1.5 1.2-1.5 1.9-1.4 2.4-1.2 2.9-0.9 3-0.5 3.1-0.2 2.8 0.3 2.5 0.6 1.8 1 1.1 1.2 -5.1 1.3 -0.6-0.6 -1.1-0.5 -1.3-0.4 -1.6-0.1 -1.7 0.1 -1.7 0.2 -1.5 0.5 -1.4 0.6 -0.9 0.7 -0.6 0.8 -0.2 0.7 0.4 0.7 0.8 0.6 1.1 0.5 1.5 0.3 1.7 0 1.7-0.1 1.7-0.4 1.5-0.5z"/><path id="o41" d="M146 125.6l-3 1.8 -3.5 1.6 -3.7 1.3 -4 1 -4.2 0.6 -4.2 0.3 -4.2-0.1 -3.9-0.5 -3.7-0.9 -3.3-1.1 -2.9-1.5 -2.3-1.7 -1.8-2 -1.2-2.1 -0.6-2.2 0.1-2.2 0.6-2.3 1.2-2.2 1.7-2.1 2.2-2 2.6-1.8 3-1.6 3.3-1.4 3.5-1.1 3.7-0.8 3.8-0.6 3.7-0.2 3.8 0.1 3.6 0.3 3.4 0.7 3.1 1 2.8 1.2 2.5 1.5 2 1.7 1.5 1.8 -9.7 2.7 -0.9-1.1 -1.3-1 -1.5-0.8 -1.7-0.7 -2-0.6 -2.1-0.4 -2.3-0.2 -2.3-0.1 -2.3 0.2 -2.4 0.3 -2.2 0.5 -2.2 0.6 -2 0.8 -1.8 0.9 -1.6 1.1 -1.3 1.1 -0.9 1.2 -0.7 1.3 -0.3 1.2 0.1 1.3 0.4 1.2 0.8 1.1 1.1 1.1 1.5 0.9 1.8 0.8 2 0.7 2.2 0.4 2.4 0.3 2.4 0 2.5-0.1 2.5-0.4 2.4-0.5 2.2-0.7 2.1-0.8 1.8-1z"/><path id="i41" d="M134.6 119.1l-2.6 1 -2.9 0.7 -3.1 0.4 -3.1-0.2 -2.8-0.5 -2.3-0.9 -1.7-1.2 -0.8-1.5 0-1.5 0.8-1.5 1.5-1.4 2.2-1.2 2.7-0.9 2.9-0.5 3-0.2 2.9 0.3 2.6 0.6 2.1 1 1.4 1.2 -4.9 1.3 -0.7-0.6 -1.2-0.5 -1.4-0.4 -1.6-0.1 -1.7 0.1 -1.6 0.2 -1.5 0.5 -1.2 0.6 -0.8 0.7 -0.4 0.8 0 0.7 0.5 0.7 1 0.6 1.2 0.5 1.6 0.3 1.6 0 1.7-0.1 1.6-0.4 1.4-0.5z"/><path id="o42" d="M213.2 125.6l-2.6 1.8 -3.1 1.6 -3.5 1.3 -3.8 1 -4 0.6 -4.1 0.3 -4.2-0.1 -4.1-0.5 -3.8-0.9 -3.6-1.1 -3.2-1.5 -2.8-1.7 -2.2-2 -1.7-2.1 -1-2.2 -0.5-2.2 0.1-2.3 0.7-2.2 1.2-2.1 1.7-2 2.2-1.8 2.7-1.6 2.9-1.4 3.3-1.1 3.5-0.8 3.6-0.6 3.8-0.2 3.7 0.1 3.7 0.3 3.6 0.7 3.3 1 3.1 1.2 2.8 1.5 2.4 1.7 1.9 1.8 -9.1 2.7 -1.2-1.1 -1.4-1 -1.7-0.8 -1.9-0.7 -2.1-0.6 -2.2-0.4 -2.3-0.2 -2.3-0.1 -2.4 0.2 -2.2 0.3 -2.2 0.5 -2 0.6 -1.8 0.8 -1.6 0.9 -1.4 1.1 -1 1.1 -0.7 1.2 -0.4 1.3 0 1.2 0.4 1.3 0.7 1.2 1.1 1.1 1.3 1.1 1.7 0.9 2 0.8 2.1 0.7 2.3 0.4 2.5 0.3 2.4 0 2.5-0.1 2.4-0.4 2.3-0.5 2.1-0.7 1.8-0.8 1.6-1z"/><path id="i42" d="M200.2 119.1l-2.3 1 -2.7 0.7 -3.1 0.4 -3.1-0.2 -2.9-0.5 -2.5-0.9 -1.9-1.2 -1.2-1.5 -0.4-1.5 0.5-1.5 1.2-1.4 1.9-1.2 2.5-0.9 2.8-0.5 3-0.2 2.9 0.3 2.7 0.6 2.3 1 1.7 1.2 -4.5 1.3 -0.9-0.6 -1.3-0.5 -1.5-0.4 -1.6-0.1 -1.7 0.1 -1.6 0.2 -1.3 0.5 -1.1 0.6 -0.6 0.7 -0.3 0.8 0.3 0.7 0.6 0.7 1.1 0.6 1.3 0.5 1.6 0.3 1.7 0 1.7-0.1 1.5-0.4 1.3-0.5z"/><path id="o43" d="M280.3 125.6l-2.1 1.8 -2.7 1.6 -3.2 1.3 -3.6 1 -3.9 0.6 -4.1 0.3 -4.1-0.1 -4.2-0.5 -4.1-0.9 -3.8-1.1 -3.6-1.5 -3.1-1.7 -2.7-2 -2.1-2.1 -1.6-2.2 -1-2.2 -0.4-2.3 0.1-2.2 0.8-2.1 1.3-2 1.8-1.8 2.2-1.6 2.7-1.4 3-1.1 3.3-0.8 3.5-0.6 3.7-0.2 3.8 0.1 3.7 0.3 3.7 0.7 3.6 1 3.4 1.2 3.1 1.5 2.8 1.7 2.4 1.8 -8.6 2.7 -1.4-1.1 -1.6-1 -1.9-0.8 -2.1-0.7 -2.2-0.6 -2.3-0.4 -2.4-0.2 -2.3-0.1 -2.3 0.2 -2.2 0.3 -2.1 0.5 -1.8 0.6 -1.7 0.8 -1.3 0.9 -1.1 1.1 -0.8 1.1 -0.4 1.2 -0.1 1.3 0.3 1.2 0.6 1.3 1 1.2 1.3 1.1 1.7 1.1 1.8 0.9 2.2 0.8 2.3 0.7 2.4 0.4 2.5 0.3 2.5 0 2.4-0.1 2.3-0.4 2.2-0.5 1.9-0.7 1.7-0.8 1.3-1z"/><path id="i43" d="M265.9 119.1l-2 1 -2.6 0.7 -3 0.4 -3.2-0.2 -3-0.5 -2.7-0.9 -2.2-1.2 -1.5-1.5 -0.7-1.5 0.1-1.5 0.9-1.4 1.6-1.2 2.3-0.9 2.7-0.5 2.9-0.2 3 0.3 2.9 0.6 2.5 1 2 1.2 -4.3 1.3 -1-0.6 -1.4-0.5 -1.6-0.4 -1.7-0.1 -1.6 0.1 -1.5 0.2 -1.3 0.5 -0.9 0.6 -0.5 0.7 0 0.8 0.4 0.7 0.8 0.7 1.2 0.6 1.5 0.5 1.6 0.3 1.7 0 1.6-0.1 1.5-0.4 1.1-0.5z"/><path id="o44" d="M347.5 125.6l-1.7 1.8 -2.4 1.6 -2.9 1.3 -3.3 1 -3.8 0.6 -4 0.3 -4.2-0.1 -4.3-0.5 -4.2-0.9 -4.1-1.1 -3.9-1.5 -3.6-1.7 -3.1-2 -2.6-2.1 -2.1-2.2 -1.5-2.2 -1-2.3 -0.3-2.2 0.3-2.1 0.8-2 1.4-1.8 1.9-1.6 2.3-1.4 2.8-1.1 3.1-0.8 3.4-0.6 3.6-0.2 3.8 0.1 3.9 0.3 3.8 0.7 3.8 1 3.7 1.2 3.4 1.5 3.2 1.7 2.8 1.8 -7.9 2.7 -1.7-1.1 -1.9-1 -2.1-0.8 -2.2-0.7 -2.3-0.6 -2.4-0.4 -2.4-0.2 -2.4-0.1 -2.2 0.2 -2.2 0.3 -1.9 0.5 -1.7 0.6 -1.5 0.8 -1.2 0.9 -0.8 1.1 -0.5 1.1 -0.2 1.2 0.2 1.3 0.6 1.2 0.9 1.3 1.3 1.2 1.6 1.1 1.9 1.1 2.1 0.9 2.3 0.8 2.4 0.7 2.5 0.4 2.6 0.3 2.5 0 2.4-0.1 2.2-0.4 2.1-0.5 1.7-0.7 1.5-0.8 1.1-1z"/><path id="i44" d="M331.6 119.1l-1.8 1 -2.5 0.7 -2.9 0.4 -3.1-0.2 -3.2-0.5 -2.9-0.9 -2.5-1.2 -1.8-1.5 -1.1-1.5 -0.2-1.5 0.6-1.4 1.3-1.2 2.1-0.9 2.5-0.5 3-0.2 3 0.3 3 0.6 2.8 1 2.2 1.2 -3.9 1.3 -1.3-0.6 -1.4-0.5 -1.7-0.4 -1.7-0.1 -1.6 0.1 -1.5 0.2 -1.1 0.5 -0.8 0.6 -0.3 0.7 0.1 0.8 0.6 0.7 1 0.7 1.3 0.6 1.6 0.5 1.7 0.3 1.7 0 1.6-0.1 1.3-0.4 1.1-0.5z"/></defs>
<g clip-path="url(#aClipR)"><use href="#o00" y="0" fill="url(#rSide)" stroke="url(#rSide)" stroke-width="0.6"/><use href="#o00" y="-0.9" fill="url(#rSide)" stroke="url(#rSide)" stroke-width="0.6"/><use href="#o00" y="-1.7" fill="url(#rSide)" stroke="url(#rSide)" stroke-width="0.6"/><use href="#o00" y="-2.6" fill="url(#rSide)" stroke="url(#rSide)" stroke-width="0.6"/><use href="#o00" y="-3.4" fill="url(#rSide)" stroke="url(#rSide)" stroke-width="0.6"/><use href="#i00" y="0" fill="url(#rSide)" stroke="url(#rSide)" stroke-width="0.6"/><use href="#i00" y="-0.9" fill="url(#rSide)" stroke="url(#rSide)" stroke-width="0.6"/><use href="#i00" y="-1.7" fill="url(#rSide)" stroke="url(#rSide)" stroke-width="0.6"/><use href="#i00" y="-2.6" fill="url(#rSide)" stroke="url(#rSide)" stroke-width="0.6"/><use href="#i00" y="-3.4" fill="url(#rSide)" stroke="url(#rSide)" stroke-width="0.6"/><polygon points="127,5.5 120.6,6.6 120.6,10.9 127,9.8" fill="#9a9ea2"/><polygon points="117.8,6.6 114.6,7.1 114.6,11.4 117.8,10.9" fill="#9a9ea2"/><use href="#o00" y="-4.3" fill="url(#rTop)"/><use href="#i00" y="-4.3" fill="url(#rTop)"/>
<use href="#o01" y="0" fill="url(#rSide)" stroke="url(#rSide)" stroke-width="0.6"/><use href="#o01" y="-0.9" fill="url(#rSide)" stroke="url(#rSide)" stroke-width="0.6"/><use href="#o01" y="-1.7" fill="url(#rSide)" stroke="url(#rSide)" stroke-width="0.6"/><use href="#o01" y="-2.6" fill="url(#rSide)" stroke="url(#rSide)" stroke-width="0.6"/><use href="#o01" y="-3.4" fill="url(#rSide)" stroke="url(#rSide)" stroke-width="0.6"/><use href="#i01" y="0" fill="url(#rSide)" stroke="url(#rSide)" stroke-width="0.6"/><use href="#i01" y="-0.9" fill="url(#rSide)" stroke="url(#rSide)" stroke-width="0.6"/><use href="#i01" y="-1.7" fill="url(#rSide)" stroke="url(#rSide)" stroke-width="0.6"/><use href="#i01" y="-2.6" fill="url(#rSide)" stroke="url(#rSide)" stroke-width="0.6"/><use href="#i01" y="-3.4" fill="url(#rSide)" stroke="url(#rSide)" stroke-width="0.6"/><polygon points="167.6,5.5 161.5,6.6 161.5,10.9 167.6,9.8" fill="#9a9ea2"/><polygon points="158.7,6.6 155.7,7.1 155.7,11.4 158.7,10.9" fill="#9a9ea2"/><use href="#o01" y="-4.3" fill="url(#rTop)"/><use href="#i01" y="-4.3" fill="url(#rTop)"/>
<use href="#o02" y="0" fill="url(#rSide)" stroke="url(#rSide)" stroke-width="0.6"/><use href="#o02" y="-0.9" fill="url(#rSide)" stroke="url(#rSide)" stroke-width="0.6"/><use href="#o02" y="-1.7" fill="url(#rSide)" stroke="url(#rSide)" stroke-width="0.6"/><use href="#o02" y="-2.6" fill="url(#rSide)" stroke="url(#rSide)" stroke-width="0.6"/><use href="#o02" y="-3.4" fill="url(#rSide)" stroke="url(#rSide)" stroke-width="0.6"/><use href="#i02" y="0" fill="url(#rSide)" stroke="url(#rSide)" stroke-width="0.6"/><use href="#i02" y="-0.9" fill="url(#rSide)" stroke="url(#rSide)" stroke-width="0.6"/><use href="#i02" y="-1.7" fill="url(#rSide)" stroke="url(#rSide)" stroke-width="0.6"/><use href="#i02" y="-2.6" fill="url(#rSide)" stroke="url(#rSide)" stroke-width="0.6"/><use href="#i02" y="-3.4" fill="url(#rSide)" stroke="url(#rSide)" stroke-width="0.6"/><polygon points="208.3,5.5 202.4,6.6 202.4,10.9 208.3,9.8" fill="#9a9ea2"/><polygon points="199.6,6.6 196.7,7.1 196.7,11.4 199.6,10.9" fill="#9a9ea2"/><use href="#o02" y="-4.3" fill="url(#rTop)"/><use href="#i02" y="-4.3" fill="url(#rTop)"/>
<use href="#o03" y="0" fill="url(#rSide)" stroke="url(#rSide)" stroke-width="0.6"/><use href="#o03" y="-0.9" fill="url(#rSide)" stroke="url(#rSide)" stroke-width="0.6"/><use href="#o03" y="-1.7" fill="url(#rSide)" stroke="url(#rSide)" stroke-width="0.6"/><use href="#o03" y="-2.6" fill="url(#rSide)" stroke="url(#rSide)" stroke-width="0.6"/><use href="#o03" y="-3.4" fill="url(#rSide)" stroke="url(#rSide)" stroke-width="0.6"/><use href="#i03" y="0" fill="url(#rSide)" stroke="url(#rSide)" stroke-width="0.6"/><use href="#i03" y="-0.9" fill="url(#rSide)" stroke="url(#rSide)" stroke-width="0.6"/><use href="#i03" y="-1.7" fill="url(#rSide)" stroke="url(#rSide)" stroke-width="0.6"/><use href="#i03" y="-2.6" fill="url(#rSide)" stroke="url(#rSide)" stroke-width="0.6"/><use href="#i03" y="-3.4" fill="url(#rSide)" stroke="url(#rSide)" stroke-width="0.6"/><polygon points="248.9,5.5 243.3,6.6 243.3,10.9 248.9,9.8" fill="#9a9ea2"/><polygon points="240.5,6.6 237.7,7.1 237.7,11.4 240.5,10.9" fill="#9a9ea2"/><use href="#o03" y="-4.3" fill="url(#rTop)"/><use href="#i03" y="-4.3" fill="url(#rTop)"/>
<use href="#o04" y="0" fill="url(#rSide)" stroke="url(#rSide)" stroke-width="0.6"/><use href="#o04" y="-0.9" fill="url(#rSide)" stroke="url(#rSide)" stroke-width="0.6"/><use href="#o04" y="-1.7" fill="url(#rSide)" stroke="url(#rSide)" stroke-width="0.6"/><use href="#o04" y="-2.6" fill="url(#rSide)" stroke="url(#rSide)" stroke-width="0.6"/><use href="#o04" y="-3.4" fill="url(#rSide)" stroke="url(#rSide)" stroke-width="0.6"/><use href="#i04" y="0" fill="url(#rSide)" stroke="url(#rSide)" stroke-width="0.6"/><use href="#i04" y="-0.9" fill="url(#rSide)" stroke="url(#rSide)" stroke-width="0.6"/><use href="#i04" y="-1.7" fill="url(#rSide)" stroke="url(#rSide)" stroke-width="0.6"/><use href="#i04" y="-2.6" fill="url(#rSide)" stroke="url(#rSide)" stroke-width="0.6"/><use href="#i04" y="-3.4" fill="url(#rSide)" stroke="url(#rSide)" stroke-width="0.6"/><polygon points="289.6,5.5 284.2,6.6 284.2,10.9 289.6,9.8" fill="#9a9ea2"/><polygon points="281.4,6.6 278.7,7.1 278.7,11.4 281.4,10.9" fill="#9a9ea2"/><use href="#o04" y="-4.3" fill="url(#rTop)"/><use href="#i04" y="-4.3" fill="url(#rTop)"/>
<use href="#o10" y="0" fill="url(#rSide)" stroke="url(#rSide)" stroke-width="0.6"/><use href="#o10" y="-0.9" fill="url(#rSide)" stroke="url(#rSide)" stroke-width="0.6"/><use href="#o10" y="-1.9" fill="url(#rSide)" stroke="url(#rSide)" stroke-width="0.6"/><use href="#o10" y="-2.8" fill="url(#rSide)" stroke="url(#rSide)" stroke-width="0.6"/><use href="#o10" y="-3.8" fill="url(#rSide)" stroke="url(#rSide)" stroke-width="0.6"/><use href="#i10" y="0" fill="url(#rSide)" stroke="url(#rSide)" stroke-width="0.6"/><use href="#i10" y="-0.9" fill="url(#rSide)" stroke="url(#rSide)" stroke-width="0.6"/><use href="#i10" y="-1.9" fill="url(#rSide)" stroke="url(#rSide)" stroke-width="0.6"/><use href="#i10" y="-2.8" fill="url(#rSide)" stroke="url(#rSide)" stroke-width="0.6"/><use href="#i10" y="-3.8" fill="url(#rSide)" stroke="url(#rSide)" stroke-width="0.6"/><polygon points="120.3,22.3 113.2,23.6 113.2,28.4 120.3,27.1" fill="#9a9ea2"/><polygon points="110.1,23.7 106.6,24.3 106.6,29 110.1,28.4" fill="#9a9ea2"/><use href="#o10" y="-4.7" fill="url(#rTop)"/><use href="#i10" y="-4.7" fill="url(#rTop)"/>
<use href="#o11" y="0" fill="url(#rSide)" stroke="url(#rSide)" stroke-width="0.6"/><use href="#o11" y="-0.9" fill="url(#rSide)" stroke="url(#rSide)" stroke-width="0.6"/><use href="#o11" y="-1.9" fill="url(#rSide)" stroke="url(#rSide)" stroke-width="0.6"/><use href="#o11" y="-2.8" fill="url(#rSide)" stroke="url(#rSide)" stroke-width="0.6"/><use href="#o11" y="-3.8" fill="url(#rSide)" stroke="url(#rSide)" stroke-width="0.6"/><use href="#i11" y="0" fill="url(#rSide)" stroke="url(#rSide)" stroke-width="0.6"/><use href="#i11" y="-0.9" fill="url(#rSide)" stroke="url(#rSide)" stroke-width="0.6"/><use href="#i11" y="-1.9" fill="url(#rSide)" stroke="url(#rSide)" stroke-width="0.6"/><use href="#i11" y="-2.8" fill="url(#rSide)" stroke="url(#rSide)" stroke-width="0.6"/><use href="#i11" y="-3.8" fill="url(#rSide)" stroke="url(#rSide)" stroke-width="0.6"/><polygon points="164.9,22.3 158.1,23.6 158.1,28.4 164.9,27.1" fill="#9a9ea2"/><polygon points="155,23.7 151.7,24.3 151.7,29 155,28.4" fill="#9a9ea2"/><use href="#o11" y="-4.7" fill="url(#rTop)"/><use href="#i11" y="-4.7" fill="url(#rTop)"/>
<use href="#o12" y="0" fill="url(#rSide)" stroke="url(#rSide)" stroke-width="0.6"/><use href="#o12" y="-0.9" fill="url(#rSide)" stroke="url(#rSide)" stroke-width="0.6"/><use href="#o12" y="-1.9" fill="url(#rSide)" stroke="url(#rSide)" stroke-width="0.6"/><use href="#o12" y="-2.8" fill="url(#rSide)" stroke="url(#rSide)" stroke-width="0.6"/><use href="#o12" y="-3.8" fill="url(#rSide)" stroke="url(#rSide)" stroke-width="0.6"/><use href="#i12" y="0" fill="url(#rSide)" stroke="url(#rSide)" stroke-width="0.6"/><use href="#i12" y="-0.9" fill="url(#rSide)" stroke="url(#rSide)" stroke-width="0.6"/><use href="#i12" y="-1.9" fill="url(#rSide)" stroke="url(#rSide)" stroke-width="0.6"/><use href="#i12" y="-2.8" fill="url(#rSide)" stroke="url(#rSide)" stroke-width="0.6"/><use href="#i12" y="-3.8" fill="url(#rSide)" stroke="url(#rSide)" stroke-width="0.6"/><polygon points="209.5,22.3 203.1,23.6 203.1,28.4 209.5,27.1" fill="#9a9ea2"/><polygon points="199.9,23.7 196.8,24.3 196.8,29 199.9,28.4" fill="#9a9ea2"/><use href="#o12" y="-4.7" fill="url(#rTop)"/><use href="#i12" y="-4.7" fill="url(#rTop)"/>
<use href="#o13" y="0" fill="url(#rSide)" stroke="url(#rSide)" stroke-width="0.6"/><use href="#o13" y="-0.9" fill="url(#rSide)" stroke="url(#rSide)" stroke-width="0.6"/><use href="#o13" y="-1.9" fill="url(#rSide)" stroke="url(#rSide)" stroke-width="0.6"/><use href="#o13" y="-2.8" fill="url(#rSide)" stroke="url(#rSide)" stroke-width="0.6"/><use href="#o13" y="-3.8" fill="url(#rSide)" stroke="url(#rSide)" stroke-width="0.6"/><use href="#i13" y="0" fill="url(#rSide)" stroke="url(#rSide)" stroke-width="0.6"/><use href="#i13" y="-0.9" fill="url(#rSide)" stroke="url(#rSide)" stroke-width="0.6"/><use href="#i13" y="-1.9" fill="url(#rSide)" stroke="url(#rSide)" stroke-width="0.6"/><use href="#i13" y="-2.8" fill="url(#rSide)" stroke="url(#rSide)" stroke-width="0.6"/><use href="#i13" y="-3.8" fill="url(#rSide)" stroke="url(#rSide)" stroke-width="0.6"/><polygon points="254.1,22.3 248,23.6 248,28.4 254.1,27.1" fill="#9a9ea2"/><polygon points="244.9,23.7 241.8,24.3 241.8,29 244.9,28.4" fill="#9a9ea2"/><use href="#o13" y="-4.7" fill="url(#rTop)"/><use href="#i13" y="-4.7" fill="url(#rTop)"/>
<use href="#o14" y="0" fill="url(#rSide)" stroke="url(#rSide)" stroke-width="0.6"/><use href="#o14" y="-0.9" fill="url(#rSide)" stroke="url(#rSide)" stroke-width="0.6"/><use href="#o14" y="-1.9" fill="url(#rSide)" stroke="url(#rSide)" stroke-width="0.6"/><use href="#o14" y="-2.8" fill="url(#rSide)" stroke="url(#rSide)" stroke-width="0.6"/><use href="#o14" y="-3.8" fill="url(#rSide)" stroke="url(#rSide)" stroke-width="0.6"/><use href="#i14" y="0" fill="url(#rSide)" stroke="url(#rSide)" stroke-width="0.6"/><use href="#i14" y="-0.9" fill="url(#rSide)" stroke="url(#rSide)" stroke-width="0.6"/><use href="#i14" y="-1.9" fill="url(#rSide)" stroke="url(#rSide)" stroke-width="0.6"/><use href="#i14" y="-2.8" fill="url(#rSide)" stroke="url(#rSide)" stroke-width="0.6"/><use href="#i14" y="-3.8" fill="url(#rSide)" stroke="url(#rSide)" stroke-width="0.6"/><polygon points="298.7,22.3 292.9,23.6 292.9,28.4 298.7,27.1" fill="#9a9ea2"/><polygon points="289.8,23.7 286.9,24.3 286.9,29 289.8,28.4" fill="#9a9ea2"/><use href="#o14" y="-4.7" fill="url(#rTop)"/><use href="#i14" y="-4.7" fill="url(#rTop)"/>
<use href="#o20" y="0" fill="url(#rSide)" stroke="url(#rSide)" stroke-width="0.6"/><use href="#o20" y="-0.9" fill="url(#rSide)" stroke="url(#rSide)" stroke-width="0.6"/><use href="#o20" y="-1.8" fill="url(#rSide)" stroke="url(#rSide)" stroke-width="0.6"/><use href="#o20" y="-2.6" fill="url(#rSide)" stroke="url(#rSide)" stroke-width="0.6"/><use href="#o20" y="-3.5" fill="url(#rSide)" stroke="url(#rSide)" stroke-width="0.6"/><use href="#o20" y="-4.4" fill="url(#rSide)" stroke="url(#rSide)" stroke-width="0.6"/><use href="#i20" y="0" fill="url(#rSide)" stroke="url(#rSide)" stroke-width="0.6"/><use href="#i20" y="-0.9" fill="url(#rSide)" stroke="url(#rSide)" stroke-width="0.6"/><use href="#i20" y="-1.8" fill="url(#rSide)" stroke="url(#rSide)" stroke-width="0.6"/><use href="#i20" y="-2.6" fill="url(#rSide)" stroke="url(#rSide)" stroke-width="0.6"/><use href="#i20" y="-3.5" fill="url(#rSide)" stroke="url(#rSide)" stroke-width="0.6"/><use href="#i20" y="-4.4" fill="url(#rSide)" stroke="url(#rSide)" stroke-width="0.6"/><polygon points="112,43.1 104.2,44.6 104.2,49.9 112,48.3" fill="#9a9ea2"/><polygon points="100.7,44.7 96.8,45.4 96.8,50.7 100.7,49.9" fill="#9a9ea2"/><use href="#o20" y="-5.3" fill="url(#rTop)"/><use href="#i20" y="-5.3" fill="url(#rTop)"/>
<use href="#o21" y="0" fill="url(#rSide)" stroke="url(#rSide)" stroke-width="0.6"/><use href="#o21" y="-0.9" fill="url(#rSide)" stroke="url(#rSide)" stroke-width="0.6"/><use href="#o21" y="-1.8" fill="url(#rSide)" stroke="url(#rSide)" stroke-width="0.6"/><use href="#o21" y="-2.6" fill="url(#rSide)" stroke="url(#rSide)" stroke-width="0.6"/><use href="#o21" y="-3.5" fill="url(#rSide)" stroke="url(#rSide)" stroke-width="0.6"/><use href="#o21" y="-4.4" fill="url(#rSide)" stroke="url(#rSide)" stroke-width="0.6"/><use href="#i21" y="0" fill="url(#rSide)" stroke="url(#rSide)" stroke-width="0.6"/><use href="#i21" y="-0.9" fill="url(#rSide)" stroke="url(#rSide)" stroke-width="0.6"/><use href="#i21" y="-1.8" fill="url(#rSide)" stroke="url(#rSide)" stroke-width="0.6"/><use href="#i21" y="-2.6" fill="url(#rSide)" stroke="url(#rSide)" stroke-width="0.6"/><use href="#i21" y="-3.5" fill="url(#rSide)" stroke="url(#rSide)" stroke-width="0.6"/><use href="#i21" y="-4.4" fill="url(#rSide)" stroke="url(#rSide)" stroke-width="0.6"/><polygon points="161.5,43.1 154,44.6 154,49.9 161.5,48.3" fill="#9a9ea2"/><polygon points="150.5,44.7 146.8,45.4 146.8,50.7 150.5,49.9" fill="#9a9ea2"/><use href="#o21" y="-5.3" fill="url(#rTop)"/><use href="#i21" y="-5.3" fill="url(#rTop)"/>
<use href="#o22" y="0" fill="url(#rSide)" stroke="url(#rSide)" stroke-width="0.6"/><use href="#o22" y="-0.9" fill="url(#rSide)" stroke="url(#rSide)" stroke-width="0.6"/><use href="#o22" y="-1.8" fill="url(#rSide)" stroke="url(#rSide)" stroke-width="0.6"/><use href="#o22" y="-2.6" fill="url(#rSide)" stroke="url(#rSide)" stroke-width="0.6"/><use href="#o22" y="-3.5" fill="url(#rSide)" stroke="url(#rSide)" stroke-width="0.6"/><use href="#o22" y="-4.4" fill="url(#rSide)" stroke="url(#rSide)" stroke-width="0.6"/><use href="#i22" y="0" fill="url(#rSide)" stroke="url(#rSide)" stroke-width="0.6"/><use href="#i22" y="-0.9" fill="url(#rSide)" stroke="url(#rSide)" stroke-width="0.6"/><use href="#i22" y="-1.8" fill="url(#rSide)" stroke="url(#rSide)" stroke-width="0.6"/><use href="#i22" y="-2.6" fill="url(#rSide)" stroke="url(#rSide)" stroke-width="0.6"/><use href="#i22" y="-3.5" fill="url(#rSide)" stroke="url(#rSide)" stroke-width="0.6"/><use href="#i22" y="-4.4" fill="url(#rSide)" stroke="url(#rSide)" stroke-width="0.6"/><polygon points="211,43.1 203.8,44.6 203.8,49.9 211,48.3" fill="#9a9ea2"/><polygon points="200.4,44.7 196.8,45.4 196.8,50.7 200.4,49.9" fill="#9a9ea2"/><use href="#o22" y="-5.3" fill="url(#rTop)"/><use href="#i22" y="-5.3" fill="url(#rTop)"/>
<use href="#o23" y="0" fill="url(#rSide)" stroke="url(#rSide)" stroke-width="0.6"/><use href="#o23" y="-0.9" fill="url(#rSide)" stroke="url(#rSide)" stroke-width="0.6"/><use href="#o23" y="-1.8" fill="url(#rSide)" stroke="url(#rSide)" stroke-width="0.6"/><use href="#o23" y="-2.6" fill="url(#rSide)" stroke="url(#rSide)" stroke-width="0.6"/><use href="#o23" y="-3.5" fill="url(#rSide)" stroke="url(#rSide)" stroke-width="0.6"/><use href="#o23" y="-4.4" fill="url(#rSide)" stroke="url(#rSide)" stroke-width="0.6"/><use href="#i23" y="0" fill="url(#rSide)" stroke="url(#rSide)" stroke-width="0.6"/><use href="#i23" y="-0.9" fill="url(#rSide)" stroke="url(#rSide)" stroke-width="0.6"/><use href="#i23" y="-1.8" fill="url(#rSide)" stroke="url(#rSide)" stroke-width="0.6"/><use href="#i23" y="-2.6" fill="url(#rSide)" stroke="url(#rSide)" stroke-width="0.6"/><use href="#i23" y="-3.5" fill="url(#rSide)" stroke="url(#rSide)" stroke-width="0.6"/><use href="#i23" y="-4.4" fill="url(#rSide)" stroke="url(#rSide)" stroke-width="0.6"/><polygon points="260.4,43.1 253.7,44.6 253.7,49.9 260.4,48.3" fill="#9a9ea2"/><polygon points="250.2,44.7 246.9,45.4 246.9,50.7 250.2,49.9" fill="#9a9ea2"/><use href="#o23" y="-5.3" fill="url(#rTop)"/><use href="#i23" y="-5.3" fill="url(#rTop)"/>
<use href="#o24" y="0" fill="url(#rSide)" stroke="url(#rSide)" stroke-width="0.6"/><use href="#o24" y="-0.9" fill="url(#rSide)" stroke="url(#rSide)" stroke-width="0.6"/><use href="#o24" y="-1.8" fill="url(#rSide)" stroke="url(#rSide)" stroke-width="0.6"/><use href="#o24" y="-2.6" fill="url(#rSide)" stroke="url(#rSide)" stroke-width="0.6"/><use href="#o24" y="-3.5" fill="url(#rSide)" stroke="url(#rSide)" stroke-width="0.6"/><use href="#o24" y="-4.4" fill="url(#rSide)" stroke="url(#rSide)" stroke-width="0.6"/><use href="#i24" y="0" fill="url(#rSide)" stroke="url(#rSide)" stroke-width="0.6"/><use href="#i24" y="-0.9" fill="url(#rSide)" stroke="url(#rSide)" stroke-width="0.6"/><use href="#i24" y="-1.8" fill="url(#rSide)" stroke="url(#rSide)" stroke-width="0.6"/><use href="#i24" y="-2.6" fill="url(#rSide)" stroke="url(#rSide)" stroke-width="0.6"/><use href="#i24" y="-3.5" fill="url(#rSide)" stroke="url(#rSide)" stroke-width="0.6"/><use href="#i24" y="-4.4" fill="url(#rSide)" stroke="url(#rSide)" stroke-width="0.6"/><polygon points="309.9,43.1 303.5,44.6 303.5,49.9 309.9,48.3" fill="#9a9ea2"/><polygon points="300.1,44.7 296.9,45.4 296.9,50.7 300.1,49.9" fill="#9a9ea2"/><use href="#o24" y="-5.3" fill="url(#rTop)"/><use href="#i24" y="-5.3" fill="url(#rTop)"/>
<use href="#o30" y="0" fill="url(#rSide)" stroke="url(#rSide)" stroke-width="0.6"/><use href="#o30" y="-1" fill="url(#rSide)" stroke="url(#rSide)" stroke-width="0.6"/><use href="#o30" y="-2" fill="url(#rSide)" stroke="url(#rSide)" stroke-width="0.6"/><use href="#o30" y="-3" fill="url(#rSide)" stroke="url(#rSide)" stroke-width="0.6"/><use href="#o30" y="-4" fill="url(#rSide)" stroke="url(#rSide)" stroke-width="0.6"/><use href="#o30" y="-4.9" fill="url(#rSide)" stroke="url(#rSide)" stroke-width="0.6"/><use href="#i30" y="0" fill="url(#rSide)" stroke="url(#rSide)" stroke-width="0.6"/><use href="#i30" y="-1" fill="url(#rSide)" stroke="url(#rSide)" stroke-width="0.6"/><use href="#i30" y="-2" fill="url(#rSide)" stroke="url(#rSide)" stroke-width="0.6"/><use href="#i30" y="-3" fill="url(#rSide)" stroke="url(#rSide)" stroke-width="0.6"/><use href="#i30" y="-4" fill="url(#rSide)" stroke="url(#rSide)" stroke-width="0.6"/><use href="#i30" y="-4.9" fill="url(#rSide)" stroke="url(#rSide)" stroke-width="0.6"/><polygon points="101.4,69.5 92.5,71.6 92.5,77.5 101.4,75.5" fill="#9a9ea2"/><polygon points="88.6,71.6 84.2,72.6 84.2,78.5 88.6,77.5" fill="#9a9ea2"/><use href="#o30" y="-5.9" fill="url(#rTop)"/><use href="#i30" y="-5.9" fill="url(#rTop)"/>
<use href="#o31" y="0" fill="url(#rSide)" stroke="url(#rSide)" stroke-width="0.6"/><use href="#o31" y="-1" fill="url(#rSide)" stroke="url(#rSide)" stroke-width="0.6"/><use href="#o31" y="-2" fill="url(#rSide)" stroke="url(#rSide)" stroke-width="0.6"/><use href="#o31" y="-3" fill="url(#rSide)" stroke="url(#rSide)" stroke-width="0.6"/><use href="#o31" y="-4" fill="url(#rSide)" stroke="url(#rSide)" stroke-width="0.6"/><use href="#o31" y="-4.9" fill="url(#rSide)" stroke="url(#rSide)" stroke-width="0.6"/><use href="#i31" y="0" fill="url(#rSide)" stroke="url(#rSide)" stroke-width="0.6"/><use href="#i31" y="-1" fill="url(#rSide)" stroke="url(#rSide)" stroke-width="0.6"/><use href="#i31" y="-2" fill="url(#rSide)" stroke="url(#rSide)" stroke-width="0.6"/><use href="#i31" y="-3" fill="url(#rSide)" stroke="url(#rSide)" stroke-width="0.6"/><use href="#i31" y="-4" fill="url(#rSide)" stroke="url(#rSide)" stroke-width="0.6"/><use href="#i31" y="-4.9" fill="url(#rSide)" stroke="url(#rSide)" stroke-width="0.6"/><polygon points="157.1,69.5 148.7,71.6 148.7,77.5 157.1,75.5" fill="#9a9ea2"/><polygon points="144.8,71.6 140.6,72.6 140.6,78.5 144.8,77.5" fill="#9a9ea2"/><use href="#o31" y="-5.9" fill="url(#rTop)"/><use href="#i31" y="-5.9" fill="url(#rTop)"/>
<use href="#o32" y="0" fill="url(#rSide)" stroke="url(#rSide)" stroke-width="0.6"/><use href="#o32" y="-1" fill="url(#rSide)" stroke="url(#rSide)" stroke-width="0.6"/><use href="#o32" y="-2" fill="url(#rSide)" stroke="url(#rSide)" stroke-width="0.6"/><use href="#o32" y="-3" fill="url(#rSide)" stroke="url(#rSide)" stroke-width="0.6"/><use href="#o32" y="-4" fill="url(#rSide)" stroke="url(#rSide)" stroke-width="0.6"/><use href="#o32" y="-4.9" fill="url(#rSide)" stroke="url(#rSide)" stroke-width="0.6"/><use href="#i32" y="0" fill="url(#rSide)" stroke="url(#rSide)" stroke-width="0.6"/><use href="#i32" y="-1" fill="url(#rSide)" stroke="url(#rSide)" stroke-width="0.6"/><use href="#i32" y="-2" fill="url(#rSide)" stroke="url(#rSide)" stroke-width="0.6"/><use href="#i32" y="-3" fill="url(#rSide)" stroke="url(#rSide)" stroke-width="0.6"/><use href="#i32" y="-4" fill="url(#rSide)" stroke="url(#rSide)" stroke-width="0.6"/><use href="#i32" y="-4.9" fill="url(#rSide)" stroke="url(#rSide)" stroke-width="0.6"/><polygon points="212.8,69.5 204.8,71.6 204.8,77.5 212.8,75.5" fill="#9a9ea2"/><polygon points="200.9,71.6 196.9,72.6 196.9,78.5 200.9,77.5" fill="#9a9ea2"/><use href="#o32" y="-5.9" fill="url(#rTop)"/><use href="#i32" y="-5.9" fill="url(#rTop)"/>
<use href="#o33" y="0" fill="url(#rSide)" stroke="url(#rSide)" stroke-width="0.6"/><use href="#o33" y="-1" fill="url(#rSide)" stroke="url(#rSide)" stroke-width="0.6"/><use href="#o33" y="-2" fill="url(#rSide)" stroke="url(#rSide)" stroke-width="0.6"/><use href="#o33" y="-3" fill="url(#rSide)" stroke="url(#rSide)" stroke-width="0.6"/><use href="#o33" y="-4" fill="url(#rSide)" stroke="url(#rSide)" stroke-width="0.6"/><use href="#o33" y="-4.9" fill="url(#rSide)" stroke="url(#rSide)" stroke-width="0.6"/><use href="#i33" y="0" fill="url(#rSide)" stroke="url(#rSide)" stroke-width="0.6"/><use href="#i33" y="-1" fill="url(#rSide)" stroke="url(#rSide)" stroke-width="0.6"/><use href="#i33" y="-2" fill="url(#rSide)" stroke="url(#rSide)" stroke-width="0.6"/><use href="#i33" y="-3" fill="url(#rSide)" stroke="url(#rSide)" stroke-width="0.6"/><use href="#i33" y="-4" fill="url(#rSide)" stroke="url(#rSide)" stroke-width="0.6"/><use href="#i33" y="-4.9" fill="url(#rSide)" stroke="url(#rSide)" stroke-width="0.6"/><polygon points="268.5,69.5 261,71.6 261,77.5 268.5,75.5" fill="#9a9ea2"/><polygon points="257.1,71.6 253.3,72.6 253.3,78.5 257.1,77.5" fill="#9a9ea2"/><use href="#o33" y="-5.9" fill="url(#rTop)"/><use href="#i33" y="-5.9" fill="url(#rTop)"/>
<use href="#o34" y="0" fill="url(#rSide)" stroke="url(#rSide)" stroke-width="0.6"/><use href="#o34" y="-1" fill="url(#rSide)" stroke="url(#rSide)" stroke-width="0.6"/><use href="#o34" y="-2" fill="url(#rSide)" stroke="url(#rSide)" stroke-width="0.6"/><use href="#o34" y="-3" fill="url(#rSide)" stroke="url(#rSide)" stroke-width="0.6"/><use href="#o34" y="-4" fill="url(#rSide)" stroke="url(#rSide)" stroke-width="0.6"/><use href="#o34" y="-4.9" fill="url(#rSide)" stroke="url(#rSide)" stroke-width="0.6"/><use href="#i34" y="0" fill="url(#rSide)" stroke="url(#rSide)" stroke-width="0.6"/><use href="#i34" y="-1" fill="url(#rSide)" stroke="url(#rSide)" stroke-width="0.6"/><use href="#i34" y="-2" fill="url(#rSide)" stroke="url(#rSide)" stroke-width="0.6"/><use href="#i34" y="-3" fill="url(#rSide)" stroke="url(#rSide)" stroke-width="0.6"/><use href="#i34" y="-4" fill="url(#rSide)" stroke="url(#rSide)" stroke-width="0.6"/><use href="#i34" y="-4.9" fill="url(#rSide)" stroke="url(#rSide)" stroke-width="0.6"/><polygon points="324.2,69.5 317.1,71.6 317.1,77.5 324.2,75.5" fill="#9a9ea2"/><polygon points="313.3,71.6 309.7,72.6 309.7,78.5 313.3,77.5" fill="#9a9ea2"/><use href="#o34" y="-5.9" fill="url(#rTop)"/><use href="#i34" y="-5.9" fill="url(#rTop)"/>
<use href="#o40" y="0" fill="url(#rSide)" stroke="url(#rSide)" stroke-width="0.6"/><use href="#o40" y="-1" fill="url(#rSide)" stroke="url(#rSide)" stroke-width="0.6"/><use href="#o40" y="-1.9" fill="url(#rSide)" stroke="url(#rSide)" stroke-width="0.6"/><use href="#o40" y="-2.9" fill="url(#rSide)" stroke="url(#rSide)" stroke-width="0.6"/><use href="#o40" y="-3.9" fill="url(#rSide)" stroke="url(#rSide)" stroke-width="0.6"/><use href="#o40" y="-4.9" fill="url(#rSide)" stroke="url(#rSide)" stroke-width="0.6"/><use href="#o40" y="-5.8" fill="url(#rSide)" stroke="url(#rSide)" stroke-width="0.6"/><use href="#i40" y="0" fill="url(#rSide)" stroke="url(#rSide)" stroke-width="0.6"/><use href="#i40" y="-1" fill="url(#rSide)" stroke="url(#rSide)" stroke-width="0.6"/><use href="#i40" y="-1.9" fill="url(#rSide)" stroke="url(#rSide)" stroke-width="0.6"/><use href="#i40" y="-2.9" fill="url(#rSide)" stroke="url(#rSide)" stroke-width="0.6"/><use href="#i40" y="-3.9" fill="url(#rSide)" stroke="url(#rSide)" stroke-width="0.6"/><use href="#i40" y="-4.9" fill="url(#rSide)" stroke="url(#rSide)" stroke-width="0.6"/><use href="#i40" y="-5.8" fill="url(#rSide)" stroke="url(#rSide)" stroke-width="0.6"/><polygon points="88,103.4 77.6,106 77.6,112.8 88,110.1" fill="#9a9ea2"/><polygon points="73.1,106.1 68,107.3 68,114.1 73.1,112.8" fill="#9a9ea2"/><use href="#o40" y="-6.8" fill="url(#rTop)"/><use href="#i40" y="-6.8" fill="url(#rTop)"/>
<use href="#o41" y="0" fill="url(#rSide)" stroke="url(#rSide)" stroke-width="0.6"/><use href="#o41" y="-1" fill="url(#rSide)" stroke="url(#rSide)" stroke-width="0.6"/><use href="#o41" y="-1.9" fill="url(#rSide)" stroke="url(#rSide)" stroke-width="0.6"/><use href="#o41" y="-2.9" fill="url(#rSide)" stroke="url(#rSide)" stroke-width="0.6"/><use href="#o41" y="-3.9" fill="url(#rSide)" stroke="url(#rSide)" stroke-width="0.6"/><use href="#o41" y="-4.9" fill="url(#rSide)" stroke="url(#rSide)" stroke-width="0.6"/><use href="#o41" y="-5.8" fill="url(#rSide)" stroke="url(#rSide)" stroke-width="0.6"/><use href="#i41" y="0" fill="url(#rSide)" stroke="url(#rSide)" stroke-width="0.6"/><use href="#i41" y="-1" fill="url(#rSide)" stroke="url(#rSide)" stroke-width="0.6"/><use href="#i41" y="-1.9" fill="url(#rSide)" stroke="url(#rSide)" stroke-width="0.6"/><use href="#i41" y="-2.9" fill="url(#rSide)" stroke="url(#rSide)" stroke-width="0.6"/><use href="#i41" y="-3.9" fill="url(#rSide)" stroke="url(#rSide)" stroke-width="0.6"/><use href="#i41" y="-4.9" fill="url(#rSide)" stroke="url(#rSide)" stroke-width="0.6"/><use href="#i41" y="-5.8" fill="url(#rSide)" stroke="url(#rSide)" stroke-width="0.6"/><polygon points="151.6,103.4 141.9,106 141.9,112.8 151.6,110.1" fill="#9a9ea2"/><polygon points="137.4,106.1 132.5,107.3 132.5,114.1 137.4,112.8" fill="#9a9ea2"/><use href="#o41" y="-6.8" fill="url(#rTop)"/><use href="#i41" y="-6.8" fill="url(#rTop)"/>
<use href="#o42" y="0" fill="url(#rSide)" stroke="url(#rSide)" stroke-width="0.6"/><use href="#o42" y="-1" fill="url(#rSide)" stroke="url(#rSide)" stroke-width="0.6"/><use href="#o42" y="-1.9" fill="url(#rSide)" stroke="url(#rSide)" stroke-width="0.6"/><use href="#o42" y="-2.9" fill="url(#rSide)" stroke="url(#rSide)" stroke-width="0.6"/><use href="#o42" y="-3.9" fill="url(#rSide)" stroke="url(#rSide)" stroke-width="0.6"/><use href="#o42" y="-4.9" fill="url(#rSide)" stroke="url(#rSide)" stroke-width="0.6"/><use href="#o42" y="-5.8" fill="url(#rSide)" stroke="url(#rSide)" stroke-width="0.6"/><use href="#i42" y="0" fill="url(#rSide)" stroke="url(#rSide)" stroke-width="0.6"/><use href="#i42" y="-1" fill="url(#rSide)" stroke="url(#rSide)" stroke-width="0.6"/><use href="#i42" y="-1.9" fill="url(#rSide)" stroke="url(#rSide)" stroke-width="0.6"/><use href="#i42" y="-2.9" fill="url(#rSide)" stroke="url(#rSide)" stroke-width="0.6"/><use href="#i42" y="-3.9" fill="url(#rSide)" stroke="url(#rSide)" stroke-width="0.6"/><use href="#i42" y="-4.9" fill="url(#rSide)" stroke="url(#rSide)" stroke-width="0.6"/><use href="#i42" y="-5.8" fill="url(#rSide)" stroke="url(#rSide)" stroke-width="0.6"/><polygon points="215.2,103.4 206.1,106 206.1,112.8 215.2,110.1" fill="#9a9ea2"/><polygon points="201.6,106.1 197.1,107.3 197.1,114.1 201.6,112.8" fill="#9a9ea2"/><use href="#o42" y="-6.8" fill="url(#rTop)"/><use href="#i42" y="-6.8" fill="url(#rTop)"/>
<use href="#o43" y="0" fill="url(#rSide)" stroke="url(#rSide)" stroke-width="0.6"/><use href="#o43" y="-1" fill="url(#rSide)" stroke="url(#rSide)" stroke-width="0.6"/><use href="#o43" y="-1.9" fill="url(#rSide)" stroke="url(#rSide)" stroke-width="0.6"/><use href="#o43" y="-2.9" fill="url(#rSide)" stroke="url(#rSide)" stroke-width="0.6"/><use href="#o43" y="-3.9" fill="url(#rSide)" stroke="url(#rSide)" stroke-width="0.6"/><use href="#o43" y="-4.9" fill="url(#rSide)" stroke="url(#rSide)" stroke-width="0.6"/><use href="#o43" y="-5.8" fill="url(#rSide)" stroke="url(#rSide)" stroke-width="0.6"/><use href="#i43" y="0" fill="url(#rSide)" stroke="url(#rSide)" stroke-width="0.6"/><use href="#i43" y="-1" fill="url(#rSide)" stroke="url(#rSide)" stroke-width="0.6"/><use href="#i43" y="-1.9" fill="url(#rSide)" stroke="url(#rSide)" stroke-width="0.6"/><use href="#i43" y="-2.9" fill="url(#rSide)" stroke="url(#rSide)" stroke-width="0.6"/><use href="#i43" y="-3.9" fill="url(#rSide)" stroke="url(#rSide)" stroke-width="0.6"/><use href="#i43" y="-4.9" fill="url(#rSide)" stroke="url(#rSide)" stroke-width="0.6"/><use href="#i43" y="-5.8" fill="url(#rSide)" stroke="url(#rSide)" stroke-width="0.6"/><polygon points="278.9,103.4 270.3,106 270.3,112.8 278.9,110.1" fill="#9a9ea2"/><polygon points="265.9,106.1 261.6,107.3 261.6,114.1 265.9,112.8" fill="#9a9ea2"/><use href="#o43" y="-6.8" fill="url(#rTop)"/><use href="#i43" y="-6.8" fill="url(#rTop)"/>
<use href="#o44" y="0" fill="url(#rSide)" stroke="url(#rSide)" stroke-width="0.6"/><use href="#o44" y="-1" fill="url(#rSide)" stroke="url(#rSide)" stroke-width="0.6"/><use href="#o44" y="-1.9" fill="url(#rSide)" stroke="url(#rSide)" stroke-width="0.6"/><use href="#o44" y="-2.9" fill="url(#rSide)" stroke="url(#rSide)" stroke-width="0.6"/><use href="#o44" y="-3.9" fill="url(#rSide)" stroke="url(#rSide)" stroke-width="0.6"/><use href="#o44" y="-4.9" fill="url(#rSide)" stroke="url(#rSide)" stroke-width="0.6"/><use href="#o44" y="-5.8" fill="url(#rSide)" stroke="url(#rSide)" stroke-width="0.6"/><use href="#i44" y="0" fill="url(#rSide)" stroke="url(#rSide)" stroke-width="0.6"/><use href="#i44" y="-1" fill="url(#rSide)" stroke="url(#rSide)" stroke-width="0.6"/><use href="#i44" y="-1.9" fill="url(#rSide)" stroke="url(#rSide)" stroke-width="0.6"/><use href="#i44" y="-2.9" fill="url(#rSide)" stroke="url(#rSide)" stroke-width="0.6"/><use href="#i44" y="-3.9" fill="url(#rSide)" stroke="url(#rSide)" stroke-width="0.6"/><use href="#i44" y="-4.9" fill="url(#rSide)" stroke="url(#rSide)" stroke-width="0.6"/><use href="#i44" y="-5.8" fill="url(#rSide)" stroke="url(#rSide)" stroke-width="0.6"/><polygon points="342.5,103.4 334.6,106 334.6,112.8 342.5,110.1" fill="#9a9ea2"/><polygon points="330.1,106.1 326.2,107.3 326.2,114.1 330.1,112.8" fill="#9a9ea2"/><use href="#o44" y="-6.8" fill="url(#rTop)"/><use href="#i44" y="-6.8" fill="url(#rTop)"/></g>
<defs><clipPath id="aClipR"><rect x="0" y="2" width="380" height="200"/></clipPath></defs>
</g>
<g id="pb">
<rect x="65" y="235.5" width="269" height="242.9" fill="#fff" stroke="#444" stroke-width="1"/>
<line x1="65" y1="235.5" x2="334" y2="235.5" stroke="#33338a" stroke-width="1"/>
<path d="M65 475.8h5M65 452.3h3M65 428.8h5M65 405.3h3M65 381.8h5M65 358.3h3M65 334.8h5M65 311.3h3M65 287.8h5M65 264.3h3M65 240.8h5M64.5 478.4v-4M95 478.4v-2.5M125.6 478.4v-4M156.2 478.4v-2.5M186.7 478.4v-4M217.2 478.4v-2.5M247.8 478.4v-4M278.4 478.4v-2.5M308.9 478.4v-4" stroke="#333" stroke-width="1" fill="none"/>
<path d="M65.2 240.6 65.7 240.6 66.2 240.6 66.7 240.6 67.2 240.6 67.7 240.7 68.2 240.7 68.7 240.7 69.2 240.8 69.7 240.8 70.2 240.9 70.7 240.9 71.2 241 71.7 241.1 72.2 241.1 72.7 241.2 73.2 241.3 73.7 241.4 74.2 241.4 74.7 241.5 75.2 241.6 75.7 241.7 76.2 241.9 76.7 242 77.2 242.3 77.7 242.5 78.2 242.9 78.7 243.2 79.2 243.6 79.7 244 80.2 244.4 80.7 244.8 81.2 245.3 81.7 245.8 82.2 246.3 82.7 246.7 83.2 247.2 83.7 247.7 84.2 248.2 84.7 248.7 85.2 249.2 85.7 249.8 86.2 250.4 86.7 251 87.2 251.6 87.7 252.3 88.2 253 88.7 253.7 89.2 254.5 89.7 255.2 90.2 256 90.7 256.9 91.2 257.7 91.7 258.7 92.2 259.6 92.7 260.7 93.2 261.8 93.7 263.1 94.2 264.3 94.7 265.6 95.2 267 95.7 268.4 96.2 269.9 96.7 271.4 97.2 272.9 97.7 274.4 98.2 275.9 98.7 277.5 99.2 279.1 99.7 280.8 100.2 282.6 100.7 284.5 101.2 286.5 101.7 288.5 102.2 290.7 102.7 292.9 103.2 295.1 103.7 297.4 104.2 299.7 104.7 302.2 105.2 304.7 105.7 307.4 106.2 310.3 106.7 313.3 107.2 316.5 107.7 320 108.2 323.6 108.7 327.5 109.2 331.8 109.7 337.6 110.2 344.2 110.7 350.7 111.2 357 111.7 363.3 112.2 369.7 112.7 376.2 113.2 382.6 113.7 389 114.2 395.4 114.7 402.9 115.2 411 115.7 419.4 116.2 427.4 116.7 434.7 117.2 440.7 117.7 444.9 118.2 446.8 118.7 445.7 119.2 441.2 119.7 434.4 120.2 426.3 120.7 417.9 121.2 410.3 121.7 404.4 122.2 399.4 122.7 394.6 123.2 390.1 123.7 385.7 124.2 381.5 124.7 377.4 125.2 373.4 125.7 369.4 126.2 365.5 126.7 361.5 127.2 357.4 127.7 353.3 128.2 349 128.7 344.5 129.2 340 129.7 335.6 130.2 331.5 130.7 327.9 131.2 324.6 131.7 321.6 132.2 318.6 132.7 315.6 133.2 312.3 133.7 308.9 134.2 305.3 134.7 301.6 135.2 297.9 135.7 294.2 136.2 290.5 136.7 286.9 137.2 283.5 137.7 280.2 138.2 277.2 138.7 274.3 139.2 271.3 139.7 268.4 140.2 265.6 140.7 262.9 141.2 260.4 141.7 258 142.2 255.8 142.7 253.9 143.2 252.3 143.7 250.8 144.2 249.4 144.7 248 145.2 246.7 145.7 245.5 146.2 244.4 146.7 243.5 147.2 242.6 147.7 241.9 148.2 241.3 148.7 240.8 149.2 240.3 149.7 239.8 150.2 239.4 150.7 239.1 151.2 238.7 151.7 238.5 152.2 238.4 152.7 238.3 153.2 238.3 153.7 238.4 154.2 238.5 154.7 238.7 155.2 238.9 155.7 239.1 156.2 239.4 156.7 239.7 157.2 240 157.7 240.4 158.2 240.7 158.7 241.1 159.2 241.5 159.7 241.9 160.2 242.2 160.7 242.6 161.2 243 161.7 243.5 162.2 244 162.7 244.5 163.2 245.1 163.7 245.7 164.2 246.4 164.7 247 165.2 247.7 165.7 248.3 166.2 249 166.7 249.6 167.2 250.2 167.7 250.8 168.2 251.3 168.7 251.8 169.2 252.3 169.7 252.8 170.2 253.3 170.7 253.7 171.2 254.1 171.7 254.5 172.2 254.7 172.7 254.9 173.2 255.1 173.7 255.3 174.2 255.4 174.7 255.6 175.2 255.7 175.7 255.7 176.2 255.7 176.7 255.6 177.2 255.4 177.7 255.2 178.2 255 178.7 254.7 179.2 254.4 179.7 254.1 180.2 253.7 180.7 253 181.2 252.3 181.7 251.4 182.2 250.6 182.7 249.8 183.2 249.1 183.7 248.6 184.2 248.1 184.7 247.5 185.2 247 185.7 246.5 186.2 246 186.7 245.5 187.2 245 187.7 244.6 188.2 244.1 188.7 243.8 189.2 243.4 189.7 243.1 190.2 242.9 190.7 242.7 191.2 242.6 191.7 242.6 192.2 242.7 192.7 242.8 193.2 243 193.7 243.3 194.2 243.7 194.7 244.1 195.2 244.6 195.7 245.1 196.2 245.6 196.7 246.2 197.2 246.7 197.7 247.3 198.2 248 198.7 248.8 199.2 249.6 199.7 250.5 200.2 251.5 200.7 252.6 201.2 253.8 201.7 255 202.2 256.3 202.7 257.7 203.2 259.3 203.7 261.3 204.2 263.7 204.7 266.3 205.2 269 205.7 272 206.2 274.9 206.7 277.9 207.2 280.9 207.7 283.7 208.2 286.3 208.7 288.7 209.2 290.9 209.7 292.9 210.2 294.8 210.7 296.6 211.2 298.5 211.7 300.4 212.2 302.5 212.7 304.7 213.2 307.3 213.7 310.1 214.2 313.5 214.7 318.4 215.2 324 215.7 329.1 216.2 333.1 216.7 336.7 217.2 339.9 217.7 343.1 218.2 346.3 218.7 349.7 219.2 353.6 219.7 357.7 220.2 362.1 220.7 366.7 221.2 371.4 221.7 376.2 222.2 381.1 222.7 386 223.2 390.9 223.7 395.8 224.2 401.5 224.7 407.7 225.2 414.3 225.7 421 226.2 427.7 226.7 434.1 227.2 440.1 227.7 445.5 228.2 450 228.7 453.5 229.2 455.7 229.7 456.5 230.2 455.8 230.7 453.8 231.2 450.6 231.7 446.5 232.2 441.6 232.7 436.1 233.2 430.1 233.7 423.8 234.2 417.1 234.7 407.3 235.2 395.3 235.7 382.6 236.2 370.9 236.7 361.5 237.2 352.8 237.7 344.7 238.2 337.3 238.7 331.1 239.2 326.1 239.7 321.7 240.2 317.5 240.7 313.5 241.2 309.8 241.7 306.4 242.2 303.1 242.7 300.1 243.2 297.4 243.7 294.8 244.2 292.5 244.7 290.4 245.2 288.5 245.7 286.8 246.2 285.2 246.7 283.7 247.2 282.3 247.7 281 248.2 279.8 248.7 278.6 249.2 277.5 249.7 276.4 250.2 275.4 250.7 274.5 251.2 273.5 251.7 272.6 252.2 271.7 252.7 270.7 253.2 269.8 253.7 268.9 254.2 268 254.7 267.1 255.2 266.2 255.7 265.4 256.2 264.5 256.7 263.7 257.2 262.8 257.7 262 258.2 261.2 258.7 260.5 259.2 259.8 259.7 259 260.2 258.4 260.7 257.7 261.2 257.1 261.7 256.5 262.2 256 262.7 255.5 263.2 255 263.7 254.6 264.2 254.1 264.7 253.7 265.2 253.3 265.7 252.8 266.2 252.4 266.7 252 267.2 251.6 267.7 251.3 268.2 250.9 268.7 250.5 269.2 250.2 269.7 249.8 270.2 249.5 270.7 249.2 271.2 248.9 271.7 248.6 272.2 248.3 272.7 248 273.2 247.7 273.7 247.5 274.2 247.2 274.7 247 275.2 246.7 275.7 246.5 276.2 246.3 276.7 246.1 277.2 245.9 277.7 245.7 278.2 245.5 278.7 245.4 279.2 245.2 279.7 245 280.2 244.9 280.7 244.7 281.2 244.6 281.7 244.4 282.2 244.3 282.7 244.2 283.2 244 283.7 243.9 284.2 243.8 284.7 243.7 285.2 243.6 285.7 243.5 286.2 243.4 286.7 243.2 287.2 243.2 287.7 243.1 288.2 243 288.7 242.9 289.2 242.8 289.7 242.7 290.2 242.7 290.7 242.6 291.2 242.5 291.7 242.5 292.2 242.4 292.7 242.3 293.2 242.3 293.7 242.2 294.2 242.1 294.7 242.1 295.2 242 295.7 241.9 296.2 241.9 296.7 241.8 297.2 241.8 297.7 241.7 298.2 241.7 298.7 241.6 299.2 241.5 299.7 241.5 300.2 241.4 300.7 241.4 301.2 241.4 301.7 241.3 302.2 241.3 302.7 241.2 303.2 241.2 303.7 241.1 304.2 241.1 304.7 241.1 305.2 241 305.7 241 306.2 241 306.7 240.9 307.2 240.9 307.7 240.9 308.2 240.9 308.7 240.9 309.2 240.8 309.7 240.8 310.2 240.8 310.7 240.8 311.2 240.8 311.7 240.8 312.2 240.8 312.7 240.8 313.2 240.8 313.7 240.8 314.2 240.7 314.7 240.7 315.2 240.7 315.7 240.7 316.2 240.7 316.7 240.7 317.2 240.7 317.7 240.7 318.2 240.7 318.7 240.7 319.2 240.7 319.7 240.7 320.2 240.7 320.7 240.7 321.2 240.7 321.7 240.7 322.2 240.7 322.7 240.6 323.2 240.6 323.7 240.6 324.2 240.6 324.7 240.6 325.2 240.6 325.7 240.6 326.2 240.6 326.7 240.6 327.2 240.6 327.7 240.6 328.2 240.6 328.7 240.6 329.2 240.6 329.7 240.6 330.2 240.6 330.7 240.6 331.2 240.6 331.7 240.6 332.2 240.6 332.7 240.6 333.2 240.6 333.4 240.6" fill="none" stroke="#e11" stroke-width="1.5" stroke-dasharray="4 2.2"/>
<path d="M65.2 240.6 65.7 240.7 66.2 240.9 66.7 241.2 67.2 241.4 67.7 241.7 68.2 242.1 68.7 242.5 69.2 242.8 69.7 243.2 70.2 243.7 70.7 244.2 71.2 244.7 71.7 245.3 72.2 246 72.7 246.7 73.2 247.4 73.7 248.2 74.2 249 74.7 249.9 75.2 250.8 75.7 251.7 76.2 252.7 76.7 253.7 77.2 254.8 77.7 256 78.2 257.2 78.7 258.5 79.2 259.8 79.7 261.2 80.2 262.6 80.7 264.1 81.2 265.6 81.7 267.1 82.2 268.7 82.7 270.3 83.2 272 83.7 273.7 84.2 275.4 84.7 277.3 85.2 279.2 85.7 281.3 86.2 283.5 86.7 285.8 87.2 288.3 87.7 290.9 88.2 293.9 88.7 297.3 89.2 301.1 89.7 305 90.2 309.2 90.7 313.4 91.2 317.7 91.7 321.9 92.2 326 92.7 330 93.2 333.7 93.7 337.2 94.2 340.8 94.7 344.6 95.2 348.8 95.7 353.9 96.2 360 96.7 366.8 97.2 373.7 97.7 380.3 98.2 386.5 98.7 392.7 99.2 398.9 99.7 405 100.2 411.1 100.7 417.1 101.2 423 101.7 428.8 102.2 434.5 102.7 440.1 103.2 445.6 103.7 451.7 104.2 458.4 104.7 464.1 105.2 467.5 105.7 467.4 106.2 464.9 106.7 460.9 107.2 455.7 107.7 446 108.2 430.8 108.7 409.3 109.2 384.2 109.7 358.6 110.2 335.6 110.7 312.2 111.2 290.3 111.7 275.3 112.2 266.5 112.7 259.6 113.2 254.6 113.7 251.5 114.2 249.1 114.7 247 115.2 245.3 115.7 244.1 116.2 243.2 116.7 242.7 117.2 242.2 117.7 241.7 118.2 241.4 118.7 241.1 119.2 240.9 119.7 240.8 120.2 240.8 120.7 240.9 121.2 240.9 121.7 241 122.2 241.2 122.7 241.3 123.2 241.5 123.7 241.7 124.2 241.9 124.7 242.2 125.2 242.4 125.7 242.7 126.2 242.9 126.7 243.2 127.2 243.5 127.7 243.7 128.2 244 128.7 244.2 129.2 244.5 129.7 244.7 130.2 244.9 130.7 245.1 131.2 245.4 131.7 245.6 132.2 245.8 132.7 246.1 133.2 246.3 133.7 246.6 134.2 246.8 134.7 247.1 135.2 247.4 135.7 247.6 136.2 247.9 136.7 248.1 137.2 248.4 137.7 248.6 138.2 248.9 138.7 249.1 139.2 249.3 139.7 249.5 140.2 249.6 140.7 249.8 141.2 249.9 141.7 250 142.2 250 142.7 250.1 143.2 250.1 143.7 250.1 144.2 250 144.7 249.9 145.2 249.7 145.7 249.5 146.2 249.3 146.7 249.1 147.2 248.8 147.7 248.5 148.2 248.2 148.7 247.9 149.2 247.6 149.7 247.2 150.2 246.9 150.7 246.6 151.2 246.3 151.7 245.9 152.2 245.6 152.7 245.4 153.2 245.1 153.7 244.8 154.2 244.6 154.7 244.3 155.2 243.9 155.7 243.6 156.2 243.3 156.7 242.9 157.2 242.6 157.7 242.3 158.2 242 158.7 241.6 159.2 241.3 159.7 241.1 160.2 240.8 160.7 240.6 161.2 240.4 161.7 240.2 162.2 240.1 162.7 240 163.2 240 163.7 240 164.2 240.1 164.7 240.2 165.2 240.3 165.7 240.5 166.2 240.7 166.7 241 167.2 241.2 167.7 241.5 168.2 241.9 168.7 242.2 169.2 242.6 169.7 242.9 170.2 243.3 170.7 243.7 171.2 244.2 171.7 244.7 172.2 245.3 172.7 246.1 173.2 246.9 173.7 247.8 174.2 248.7 174.7 249.7 175.2 250.8 175.7 251.9 176.2 253.1 176.7 254.2 177.2 255.4 177.7 256.7 178.2 258.1 178.7 259.6 179.2 261.3 179.7 263 180.2 264.7 180.7 266.6 181.2 268.6 181.7 270.6 182.2 272.6 182.7 274.8 183.2 276.9 183.7 279.1 184.2 281.5 184.7 284 185.2 286.7 185.7 289.4 186.2 292.3 186.7 295.2 187.2 298.2 187.7 301.3 188.2 304.4 188.7 307.4 189.2 310.5 189.7 313.6 190.2 316.6 190.7 319.5 191.2 322.5 191.7 325.8 192.2 329.5 192.7 333.8 193.2 339 193.7 344.9 194.2 351.5 194.7 358.6 195.2 366 195.7 373.6 196.2 381.1 196.7 388.5 197.2 395.7 197.7 404 198.2 413.1 198.7 422.8 199.2 432.4 199.7 441.7 200.2 450 200.7 457.1 201.2 462.3 201.7 465.3 202.2 465.6 202.7 463.8 203.2 460.4 203.7 455.7 204.2 450.1 204.7 444 205.2 437.7 205.7 431.6 206.2 425.6 206.7 418.8 207.2 411.2 207.7 403.1 208.2 394.7 208.7 386 209.2 377.3 209.7 368.9 210.2 360.7 210.7 353.1 211.2 346.1 211.7 340 212.2 334.4 212.7 329 213.2 323.9 213.7 319.1 214.2 314.8 214.7 311 215.2 308 215.7 305.4 216.2 302.9 216.7 300.6 217.2 298.4 217.7 296.3 218.2 294.3 218.7 292.4 219.2 290.7 219.7 289 220.2 287.4 220.7 285.9 221.2 284.5 221.7 283.1 222.2 281.9 222.7 280.7 223.2 279.5 223.7 278.4 224.2 277.4 224.7 276.4 225.2 275.4 225.7 274.4 226.2 273.5 226.7 272.6 227.2 271.7 227.7 270.9 228.2 270.1 228.7 269.3 229.2 268.5 229.7 267.8 230.2 267.1 230.7 266.4 231.2 265.7 231.7 265.1 232.2 264.5 232.7 263.9 233.2 263.4 233.7 262.9 234.2 262.4 234.7 261.9 235.2 261.5 235.7 261.1 236.2 260.7 236.7 260.3 237.2 259.9 237.7 259.5 238.2 259.1 238.7 258.8 239.2 258.4 239.7 258.1 240.2 257.7 240.7 257.4 241.2 257.1 241.7 256.8 242.2 256.5 242.7 256.2 243.2 255.9 243.7 255.6 244.2 255.3 244.7 255 245.2 254.8 245.7 254.5 246.2 254.3 246.7 254 247.2 253.8 247.7 253.5 248.2 253.3 248.7 253.1 249.2 252.9 249.7 252.7 250.2 252.5 250.7 252.3 251.2 252.1 251.7 251.9 252.2 251.7 252.7 251.5 253.2 251.3 253.7 251.2 254.2 251 254.7 250.8 255.2 250.6 255.7 250.5 256.2 250.3 256.7 250.1 257.2 250 257.7 249.8 258.2 249.6 258.7 249.5 259.2 249.3 259.7 249.2 260.2 249 260.7 248.9 261.2 248.7 261.7 248.6 262.2 248.4 262.7 248.3 263.2 248.2 263.7 248 264.2 247.9 264.7 247.8 265.2 247.6 265.7 247.5 266.2 247.4 266.7 247.3 267.2 247.1 267.7 247 268.2 246.9 268.7 246.8 269.2 246.7 269.7 246.6 270.2 246.5 270.7 246.4 271.2 246.2 271.7 246.1 272.2 246.1 272.7 246 273.2 245.9 273.7 245.8 274.2 245.7 274.7 245.6 275.2 245.5 275.7 245.4 276.2 245.4 276.7 245.3 277.2 245.2 277.7 245.1 278.2 245.1 278.7 245 279.2 244.9 279.7 244.9 280.2 244.8 280.7 244.8 281.2 244.7 281.7 244.6 282.2 244.6 282.7 244.5 283.2 244.4 283.7 244.4 284.2 244.3 284.7 244.3 285.2 244.2 285.7 244.2 286.2 244.1 286.7 244.1 287.2 244 287.7 244 288.2 243.9 288.7 243.9 289.2 243.8 289.7 243.8 290.2 243.7 290.7 243.7 291.2 243.6 291.7 243.6 292.2 243.5 292.7 243.5 293.2 243.4 293.7 243.4 294.2 243.4 294.7 243.3 295.2 243.3 295.7 243.2 296.2 243.2 296.7 243.2 297.2 243.1 297.7 243.1 298.2 243.1 298.7 243 299.2 243 299.7 243 300.2 242.9 300.7 242.9 301.2 242.9 301.7 242.8 302.2 242.8 302.7 242.8 303.2 242.7 303.7 242.7 304.2 242.7 304.7 242.7 305.2 242.6 305.7 242.6 306.2 242.6 306.7 242.5 307.2 242.5 307.7 242.5 308.2 242.5 308.7 242.4 309.2 242.4 309.7 242.4 310.2 242.4 310.7 242.3 311.2 242.3 311.7 242.3 312.2 242.3 312.7 242.3 313.2 242.2 313.7 242.2 314.2 242.2 314.7 242.2 315.2 242.1 315.7 242.1 316.2 242.1 316.7 242.1 317.2 242 317.7 242 318.2 242 318.7 242 319.2 242 319.7 241.9 320.2 241.9 320.7 241.9 321.2 241.9 321.7 241.9 322.2 241.9 322.7 241.8 323.2 241.8 323.7 241.8 324.2 241.8 324.7 241.8 325.2 241.8 325.7 241.7 326.2 241.7 326.7 241.7 327.2 241.7 327.7 241.7 328.2 241.7 328.7 241.7 329.2 241.7 329.7 241.7 330.2 241.6 330.7 241.6 331.2 241.6 331.7 241.6 332.2 241.6 332.7 241.6 333.2 241.6 333.4 241.6" fill="none" stroke="#1fae2a" stroke-width="1.7"/>
<g font-family="'Liberation Sans',sans-serif" font-weight="bold" font-size="8.2" fill="#222">
<text x="62.5" y="478.8" text-anchor="end">0</text>
<text x="62.5" y="431.8" text-anchor="end">2</text>
<text x="62.5" y="384.8" text-anchor="end">4</text>
<text x="62.5" y="337.8" text-anchor="end">6</text>
<text x="62.5" y="290.8" text-anchor="end">8</text>
<text x="62.5" y="243.8" text-anchor="end">10</text>
<text x="65.5" y="487.3" text-anchor="middle">1</text>
<text x="126.6" y="487.3" text-anchor="middle">2</text>
<text x="187.7" y="487.3" text-anchor="middle">3</text>
<text x="248.8" y="487.3" text-anchor="middle">4</text>
<text x="309.9" y="487.3" text-anchor="middle">5</text>
</g>
<text transform="translate(42.9 356.2) rotate(-90)" text-anchor="middle" font-family="'Liberation Sans',sans-serif" font-size="12.7" fill="#222">Amplitude transmission (a. u.)</text>
<text x="185" y="499.3" text-anchor="middle" font-family="'Liberation Sans',sans-serif" font-size="12" fill="#222">Frequency (THz)</text>
<rect x="261.2" y="265.2" width="69.6" height="43.5" fill="#fff" stroke="#333" stroke-width="0.9"/>
<line x1="264" y1="272" x2="279" y2="272" stroke="#e11" stroke-width="1.4" stroke-dasharray="3.2 1.6"/>
<line x1="264" y1="294" x2="279" y2="294" stroke="#1fae2a" stroke-width="1.5"/>
<g font-family="'Liberation Sans',sans-serif" font-weight="bold" font-size="8.6" fill="#222">
<text x="280" y="275.2">MM without</text><text x="280.5" y="285">graphene</text>
<text x="280" y="296.8">MM with</text><text x="277.5" y="306.5">graphene</text>
</g>
<g font-family="'Liberation Sans',sans-serif" font-weight="bold" font-size="10.6" fill="#e01818">
<text x="117.5" y="466">Red-shift</text><text x="231.5" y="466.6">Red-shift</text></g>
<path d="M118.5 449L108.3 468.6M230.2 457.8L204 467" stroke="#333" stroke-width="0.8" fill="none"/>
<path d="M107.5 470.2l0.3-3.2 2.2 1.2zM202.2 467.7l2.6-2 0.8 2.4z" fill="#222"/>
</g>
<g id="pc">
<rect x="434.7" y="7.5" width="274.6" height="203" fill="#fff" stroke="#555" stroke-width="1"/>
<path d="M434.7 207.7 435.2 207.7 435.7 207.7 436.2 207.7 436.7 207.6 437.2 207.6 437.7 207.6 438.2 207.5 438.7 207.5 439.2 207.4 439.7 207.4 440.2 207.3 440.7 207.2 441.2 207 441.7 206.7 442.2 206.3 442.7 205.9 443.2 205.4 443.7 204.9 444.2 204.4 444.7 203.8 445.2 203.3 445.7 202.6 446.2 201.8 446.7 201 447.2 200 447.7 199 448.2 197.9 448.7 196.8 449.2 195.7 449.7 194.5 450.2 193.2 450.7 192 451.2 190.7 451.7 189.3 452.2 187.8 452.7 186.3 453.2 184.7 453.7 183 454.2 181.3 454.7 179.5 455.2 177.7 455.7 175.9 456.2 174 456.7 172 457.2 170 457.7 167.9 458.2 165.7 458.7 163.4 459.2 161 459.7 158.6 460.2 156.2 460.7 153.7 461.2 151.1 461.7 148.5 462.2 145.9 462.7 143.2 463.2 140.5 463.7 137.7 464.2 134.7 464.7 131.7 465.2 128.6 465.7 125.5 466.2 122.4 466.7 119.3 467.2 116.4 467.7 113.6 468.2 110.9 468.7 108.1 469.2 105.4 469.7 102.7 470.2 100 470.7 97.4 471.2 95 471.7 92.7 472.2 90.6 472.7 88.7 473.2 87 473.7 85.4 474.2 83.9 474.7 82.4 475.2 81.1 475.7 79.8 476.2 78.7 476.7 77.7 477.2 76.9 477.7 76.2 478.2 75.6 478.7 75 479.2 74.4 479.7 73.9 480.2 73.5 480.7 73.1 481.2 72.7 481.7 72.5 482.2 72.4 482.7 72.4 483.2 72.5 483.7 72.8 484.2 73.1 484.7 73.5 485.2 73.9 485.7 74.5 486.2 75 486.7 75.6 487.2 76.2 487.7 76.7 488.2 77.4 488.7 78.2 489.2 79.1 489.7 80.1 490.2 81.2 490.7 82.3 491.2 83.5 491.7 84.7 492.2 86 492.7 87.2 493.2 88.5 493.7 89.9 494.2 91.5 494.7 93.1 495.2 94.8 495.7 96.6 496.2 98.5 496.7 100.3 497.2 102.2 497.7 104 498.2 105.8 498.7 107.6 499.2 109.2 499.7 110.8 500.2 112.2 500.7 113.5 501.2 114.7 501.7 115.9 502.2 117.1 502.7 118.1 503.2 119.2 503.7 120.1 504.2 121 504.7 121.8 505.2 122.6 505.7 123.4 506.2 124.1 506.7 124.7 507.2 125.3 507.7 125.7 508.2 126 508.7 126.4 509.2 126.7 509.7 126.9 510.2 127.1 510.7 127.1 511.2 127 511.7 126.9 512.2 126.6 512.7 126.4 513.2 126.1 513.7 125.7 514.2 125.3 514.7 124.8 515.2 124.1 515.7 123.4 516.2 122.6 516.7 121.8 517.2 121 517.7 120.1 518.2 119.1 518.7 118.1 519.2 117 519.7 115.9 520.2 114.7 520.7 113.5 521.2 112.3 521.7 111.2 522.2 110 522.7 108.9 523.2 107.8 523.7 106.7 524.2 105.6 524.7 104.5 525.2 103.4 525.7 102.3 526.2 101.2 526.7 100.1 527.2 99 527.7 97.8 528.2 96.7 528.7 95.6 529.2 94.5 529.7 93.4 530.2 92.3 530.7 91.2 531.2 90.1 531.7 89 532.2 87.9 532.7 86.8 533.2 85.7 533.7 84.6 534.2 83.6 534.7 82.5 535.2 81.4 535.7 80.4 536.2 79.3 536.7 78.3 537.2 77.2 537.7 76.1 538.2 75 538.7 73.9 539.2 72.8 539.7 71.7 540.2 70.6 540.7 69.6 541.2 68.5 541.7 67.5 542.2 66.5 542.7 65.5 543.2 64.6 543.7 63.7 544.2 62.8 544.7 62 545.2 61.2 545.7 60.4 546.2 59.7 546.7 59.1 547.2 58.4 547.7 57.7 548.2 57.1 548.7 56.5 549.2 56 549.7 55.5 550.2 55.1 550.7 54.7 551.2 54.4 551.7 54.1 552.2 53.8 552.7 53.5 553.2 53.2 553.7 53 554.2 52.8 554.7 52.6 555.2 52.4 555.7 52.3 556.2 52.3 556.7 52.3 557.2 52.4 557.7 52.5 558.2 52.7 558.7 52.9 559.2 53.1 559.7 53.4 560.2 53.7 560.7 54 561.2 54.3 561.7 54.6 562.2 55 562.7 55.5 563.2 56.1 563.7 56.8 564.2 57.5 564.7 58.3 565.2 59.1 565.7 59.9 566.2 60.8 566.7 61.8 567.2 62.9 567.7 64 568.2 65.2 568.7 66.5 569.2 67.9 569.7 69.3 570.2 70.9 570.7 72.5 571.2 74.3 571.7 76.1 572.2 78 572.7 80 573.2 82.1 573.7 84.5 574.2 87.4 574.7 90.9 575.2 94.8 575.7 99 576.2 103.4 576.7 107.9 577.2 112.3 577.7 116.6 578.2 120.5 578.7 124 579.2 127 579.7 129.6 580.2 132.2 580.7 134.6 581.2 137 581.7 139.2 582.2 141.3 582.7 143.3 583.2 145.2 583.7 146.9 584.2 148.5 584.7 149.9 585.2 151.2 585.7 152.5 586.2 153.7 586.7 154.8 587.2 155.8 587.7 156.9 588.2 157.8 588.7 158.8 589.2 159.7 589.7 160.5 590.2 161.4 590.7 162.2 591.2 163 591.7 163.7 592.2 164.5 592.7 165.3 593.2 166 593.7 166.7 594.2 167.5 594.7 168.2 595.2 168.9 595.7 169.6 596.2 170.3 596.7 171 597.2 171.7 597.7 172.3 598.2 172.9 598.7 173.6 599.2 174.2 599.7 174.8 600.2 175.4 600.7 175.9 601.2 176.5 601.7 177 602.2 177.6 602.7 178.1 603.2 178.6 603.7 179.1 604.2 179.6 604.7 180.1 605.2 180.5 605.7 181 606.2 181.4 606.7 181.9 607.2 182.3 607.7 182.8 608.2 183.2 608.7 183.6 609.2 184 609.7 184.4 610.2 184.8 610.7 185.2 611.2 185.6 611.7 186 612.2 186.3 612.7 186.7 613.2 187.1 613.7 187.4 614.2 187.8 614.7 188.1 615.2 188.5 615.7 188.8 616.2 189.1 616.7 189.5 617.2 189.8 617.7 190.1 618.2 190.4 618.7 190.8 619.2 191.1 619.7 191.4 620.2 191.7 620.7 192 621.2 192.3 621.7 192.6 622.2 192.9 622.7 193.2 623.2 193.5 623.7 193.8 624.2 194.1 624.7 194.3 625.2 194.6 625.7 194.9 626.2 195.1 626.7 195.4 627.2 195.6 627.7 195.9 628.2 196.1 628.7 196.4 629.2 196.6 629.7 196.8 630.2 197 630.7 197.3 631.2 197.5 631.7 197.7 632.2 197.9 632.7 198.1 633.2 198.2 633.7 198.4 634.2 198.6 634.7 198.8 635.2 199 635.7 199.2 636.2 199.4 636.7 199.5 637.2 199.7 637.7 199.9 638.2 200 638.7 200.2 639.2 200.4 639.7 200.5 640.2 200.7 640.7 200.8 641.2 201 641.7 201.1 642.2 201.3 642.7 201.4 643.2 201.6 643.7 201.7 644.2 201.8 644.7 202 645.2 202.1 645.7 202.2 646.2 202.4 646.7 202.5 647.2 202.6 647.7 202.7 648.2 202.8 648.7 203 649.2 203.1 649.7 203.2 650.2 203.3 650.7 203.4 651.2 203.5 651.7 203.6 652.2 203.7 652.7 203.8 653.2 203.9 653.7 204 654.2 204.1 654.7 204.2 655.2 204.3 655.7 204.4 656.2 204.5 656.7 204.6 657.2 204.6 657.7 204.7 658.2 204.8 658.7 204.9 659.2 205 659.7 205.1 660.2 205.1 660.7 205.2 661.2 205.3 661.7 205.4 662.2 205.4 662.7 205.5 663.2 205.6 663.7 205.7 664.2 205.7 664.7 205.8 665.2 205.8 665.7 205.9 666.2 206 666.7 206 667.2 206.1 667.7 206.1 668.2 206.2 668.7 206.2 669.2 206.3 669.7 206.4 670.2 206.4 670.7 206.5 671.2 206.5 671.7 206.6 672.2 206.6 672.7 206.7 673.2 206.7 673.7 206.8 674.2 206.8 674.7 206.9 675.2 206.9 675.7 207 676.2 207 676.7 207 677.2 207.1 677.7 207.1 678.2 207.2 678.7 207.2 679.2 207.2 679.7 207.3 680.2 207.3 680.7 207.3 681.2 207.4 681.7 207.4 682.2 207.4 682.7 207.4 683.2 207.5 683.7 207.5 684.2 207.5 684.7 207.5 685.2 207.5 685.7 207.6 686.2 207.6 686.7 207.6 687.2 207.6 687.7 207.6 688.2 207.6 688.7 207.7 689.2 207.7 689.7 207.7 690.2 207.7 690.7 207.7 691.2 207.7 691.7 207.7 692.2 207.7 692.7 207.8 693.2 207.8 693.7 207.8 694.2 207.8 694.7 207.8 695.2 207.8 695.7 207.8 696.2 207.8 696.7 207.8 697.2 207.8 697.7 207.8 698.2 207.8 698.7 207.8 699.2 207.8 699.7 207.8 700.2 207.8 700.7 207.7 701.2 207.7 701.7 207.7 702.2 207.7 702.7 207.7 703.2 207.7 703.7 207.6 704.2 207.6 704.7 207.6 705.2 207.6 705.7 207.5 706.2 207.5 706.7 207.5 707.2 207.4 707.7 207.4 708.2 207.4 708.7 207.3 709.2 207.3 709.3 207.3L709.3 210L434.7 210Z" fill="#c2c2c2"/>
<path d="M434.7 207.7 435.2 207.7 435.7 207.7 436.2 207.7 436.7 207.6 437.2 207.6 437.7 207.6 438.2 207.5 438.7 207.5 439.2 207.4 439.7 207.4 440.2 207.3 440.7 207.2 441.2 207 441.7 206.7 442.2 206.3 442.7 205.9 443.2 205.4 443.7 204.9 444.2 204.4 444.7 203.8 445.2 203.3 445.7 202.6 446.2 201.8 446.7 201 447.2 200 447.7 199 448.2 197.9 448.7 196.8 449.2 195.7 449.7 194.5 450.2 193.2 450.7 192 451.2 190.7 451.7 189.3 452.2 187.8 452.7 186.3 453.2 184.7 453.7 183 454.2 181.3 454.7 179.5 455.2 177.7 455.7 175.9 456.2 174 456.7 172 457.2 170 457.7 167.9 458.2 165.7 458.7 163.4 459.2 161 459.7 158.6 460.2 156.2 460.7 153.7 461.2 151.1 461.7 148.5 462.2 145.9 462.7 143.2 463.2 140.5 463.7 137.7 464.2 134.7 464.7 131.7 465.2 128.6 465.7 125.5 466.2 122.4 466.7 119.3 467.2 116.4 467.7 113.6 468.2 110.9 468.7 108.1 469.2 105.4 469.7 102.7 470.2 100 470.7 97.4 471.2 95 471.7 92.7 472.2 90.6 472.7 88.7 473.2 87 473.7 85.4 474.2 83.9 474.7 82.4 475.2 81.1 475.7 79.8 476.2 78.7 476.7 77.7 477.2 76.9 477.7 76.2 478.2 75.6 478.7 75 479.2 74.4 479.7 73.9 480.2 73.5 480.7 73.1 481.2 72.7 481.7 72.5 482.2 72.4 482.7 72.4 483.2 72.5 483.7 72.8 484.2 73.1 484.7 73.5 485.2 73.9 485.7 74.5 486.2 75 486.7 75.6 487.2 76.2 487.7 76.7 488.2 77.4 488.7 78.2 489.2 79.1 489.7 80.1 490.2 81.2 490.7 82.3 491.2 83.5 491.7 84.7 492.2 86 492.7 87.2 493.2 88.5 493.7 89.9 494.2 91.5 494.7 93.1 495.2 94.8 495.7 96.6 496.2 98.5 496.7 100.3 497.2 102.2 497.7 104 498.2 105.8 498.7 107.6 499.2 109.2 499.7 110.8 500.2 112.2 500.7 113.5 501.2 114.7 501.7 115.9 502.2 117.1 502.7 118.1 503.2 119.2 503.7 120.1 504.2 121 504.7 121.8 505.2 122.6 505.7 123.4 506.2 124.1 506.7 124.7 507.2 125.3 507.7 125.7 508.2 126 508.7 126.4 509.2 126.7 509.7 126.9 510.2 127.1 510.7 127.1 511.2 127 511.7 126.9 512.2 126.6 512.7 126.4 513.2 126.1 513.7 125.7 514.2 125.3 514.7 124.8 515.2 124.1 515.7 123.4 516.2 122.6 516.7 121.8 517.2 121 517.7 120.1 518.2 119.1 518.7 118.1 519.2 117 519.7 115.9 520.2 114.7 520.7 113.5 521.2 112.3 521.7 111.2 522.2 110 522.7 108.9 523.2 107.8 523.7 106.7 524.2 105.6 524.7 104.5 525.2 103.4 525.7 102.3 526.2 101.2 526.7 100.1 527.2 99 527.7 97.8 528.2 96.7 528.7 95.6 529.2 94.5 529.7 93.4 530.2 92.3 530.7 91.2 531.2 90.1 531.7 89 532.2 87.9 532.7 86.8 533.2 85.7 533.7 84.6 534.2 83.6 534.7 82.5 535.2 81.4 535.7 80.4 536.2 79.3 536.7 78.3 537.2 77.2 537.7 76.1 538.2 75 538.7 73.9 539.2 72.8 539.7 71.7 540.2 70.6 540.7 69.6 541.2 68.5 541.7 67.5 542.2 66.5 542.7 65.5 543.2 64.6 543.7 63.7 544.2 62.8 544.7 62 545.2 61.2 545.7 60.4 546.2 59.7 546.7 59.1 547.2 58.4 547.7 57.7 548.2 57.1 548.7 56.5 549.2 56 549.7 55.5 550.2 55.1 550.7 54.7 551.2 54.4 551.7 54.1 552.2 53.8 552.7 53.5 553.2 53.2 553.7 53 554.2 52.8 554.7 52.6 555.2 52.4 555.7 52.3 556.2 52.3 556.7 52.3 557.2 52.4 557.7 52.5 558.2 52.7 558.7 52.9 559.2 53.1 559.7 53.4 560.2 53.7 560.7 54 561.2 54.3 561.7 54.6 562.2 55 562.7 55.5 563.2 56.1 563.7 56.8 564.2 57.5 564.7 58.3 565.2 59.1 565.7 59.9 566.2 60.8 566.7 61.8 567.2 62.9 567.7 64 568.2 65.2 568.7 66.5 569.2 67.9 569.7 69.3 570.2 70.9 570.7 72.5 571.2 74.3 571.7 76.1 572.2 78 572.7 80 573.2 82.1 573.7 84.5 574.2 87.4 574.7 90.9 575.2 94.8 575.7 99 576.2 103.4 576.7 107.9 577.2 112.3 577.7 116.6 578.2 120.5 578.7 124 579.2 127 579.7 129.6 580.2 132.2 580.7 134.6 581.2 137 581.7 139.2 582.2 141.3 582.7 143.3 583.2 145.2 583.7 146.9 584.2 148.5 584.7 149.9 585.2 151.2 585.7 152.5 586.2 153.7 586.7 154.8 587.2 155.8 587.7 156.9 588.2 157.8 588.7 158.8 589.2 159.7 589.7 160.5 590.2 161.4 590.7 162.2 591.2 163 591.7 163.7 592.2 164.5 592.7 165.3 593.2 166 593.7 166.7 594.2 167.5 594.7 168.2 595.2 168.9 595.7 169.6 596.2 170.3 596.7 171 597.2 171.7 597.7 172.3 598.2 172.9 598.7 173.6 599.2 174.2 599.7 174.8 600.2 175.4 600.7 175.9 601.2 176.5 601.7 177 602.2 177.6 602.7 178.1 603.2 178.6 603.7 179.1 604.2 179.6 604.7 180.1 605.2 180.5 605.7 181 606.2 181.4 606.7 181.9 607.2 182.3 607.7 182.8 608.2 183.2 608.7 183.6 609.2 184 609.7 184.4 610.2 184.8 610.7 185.2 611.2 185.6 611.7 186 612.2 186.3 612.7 186.7 613.2 187.1 613.7 187.4 614.2 187.8 614.7 188.1 615.2 188.5 615.7 188.8 616.2 189.1 616.7 189.5 617.2 189.8 617.7 190.1 618.2 190.4 618.7 190.8 619.2 191.1 619.7 191.4 620.2 191.7 620.7 192 621.2 192.3 621.7 192.6 622.2 192.9 622.7 193.2 623.2 193.5 623.7 193.8 624.2 194.1 624.7 194.3 625.2 194.6 625.7 194.9 626.2 195.1 626.7 195.4 627.2 195.6 627.7 195.9 628.2 196.1 628.7 196.4 629.2 196.6 629.7 196.8 630.2 197 630.7 197.3 631.2 197.5 631.7 197.7 632.2 197.9 632.7 198.1 633.2 198.2 633.7 198.4 634.2 198.6 634.7 198.8 635.2 199 635.7 199.2 636.2 199.4 636.7 199.5 637.2 199.7 637.7 199.9 638.2 200 638.7 200.2 639.2 200.4 639.7 200.5 640.2 200.7 640.7 200.8 641.2 201 641.7 201.1 642.2 201.3 642.7 201.4 643.2 201.6 643.7 201.7 644.2 201.8 644.7 202 645.2 202.1 645.7 202.2 646.2 202.4 646.7 202.5 647.2 202.6 647.7 202.7 648.2 202.8 648.7 203 649.2 203.1 649.7 203.2 650.2 203.3 650.7 203.4 651.2 203.5 651.7 203.6 652.2 203.7 652.7 203.8 653.2 203.9 653.7 204 654.2 204.1 654.7 204.2 655.2 204.3 655.7 204.4 656.2 204.5 656.7 204.6 657.2 204.6 657.7 204.7 658.2 204.8 658.7 204.9 659.2 205 659.7 205.1 660.2 205.1 660.7 205.2 661.2 205.3 661.7 205.4 662.2 205.4 662.7 205.5 663.2 205.6 663.7 205.7 664.2 205.7 664.7 205.8 665.2 205.8 665.7 205.9 666.2 206 666.7 206 667.2 206.1 667.7 206.1 668.2 206.2 668.7 206.2 669.2 206.3 669.7 206.4 670.2 206.4 670.7 206.5 671.2 206.5 671.7 206.6 672.2 206.6 672.7 206.7 673.2 206.7 673.7 206.8 674.2 206.8 674.7 206.9 675.2 206.9 675.7 207 676.2 207 676.7 207 677.2 207.1 677.7 207.1 678.2 207.2 678.7 207.2 679.2 207.2 679.7 207.3 680.2 207.3 680.7 207.3 681.2 207.4 681.7 207.4 682.2 207.4 682.7 207.4 683.2 207.5 683.7 207.5 684.2 207.5 684.7 207.5 685.2 207.5 685.7 207.6 686.2 207.6 686.7 207.6 687.2 207.6 687.7 207.6 688.2 207.6 688.7 207.7 689.2 207.7 689.7 207.7 690.2 207.7 690.7 207.7 691.2 207.7 691.7 207.7 692.2 207.7 692.7 207.8 693.2 207.8 693.7 207.8 694.2 207.8 694.7 207.8 695.2 207.8 695.7 207.8 696.2 207.8 696.7 207.8 697.2 207.8 697.7 207.8 698.2 207.8 698.7 207.8 699.2 207.8 699.7 207.8 700.2 207.8 700.7 207.7 701.2 207.7 701.7 207.7 702.2 207.7 702.7 207.7 703.2 207.7 703.7 207.6 704.2 207.6 704.7 207.6 705.2 207.6 705.7 207.5 706.2 207.5 706.7 207.5 707.2 207.4 707.7 207.4 708.2 207.4 708.7 207.3 709.2 207.3 709.3 207.3" fill="none" stroke="#1414b4" stroke-width="2.4" stroke-linejoin="round"/>
<rect x="434.7" y="7.5" width="274.6" height="203" fill="none" stroke="#555" stroke-width="1"/>
<path d="M434.7 207.7h4.5M434.7 169.3h4.5M434.7 130.9h4.5M434.7 92.5h4.5M434.7 54.1h4.5M434.7 15.7h4.5M447.2 210.5v-3.5M472.3 210.5v-2M497.5 210.5v-3.5M522.6 210.5v-2M547.8 210.5v-3.5M573 210.5v-2M598.1 210.5v-3.5M623.2 210.5v-2M648.4 210.5v-3.5M673.5 210.5v-2M698.7 210.5v-3.5" stroke="#333" stroke-width="0.9" fill="none"/>
<g font-family="'Liberation Sans',sans-serif" font-weight="bold" font-size="7.2" fill="#333">
<text x="432.8" y="210.5" text-anchor="end">0</text>
<text x="432.8" y="172.1" text-anchor="end">15</text>
<text x="432.8" y="133.7" text-anchor="end">30</text>
<text x="432.8" y="95.3" text-anchor="end">45</text>
<text x="432.8" y="56.9" text-anchor="end">60</text>
<text x="432.8" y="18.5" text-anchor="end">75</text>
<text x="447.2" y="218.8" text-anchor="middle">1</text>
<text x="497.5" y="218.8" text-anchor="middle">2</text>
<text x="547.8" y="218.8" text-anchor="middle">3</text>
<text x="598.1" y="218.8" text-anchor="middle">4</text>
<text x="648.4" y="218.8" text-anchor="middle">5</text>
<text x="698.7" y="218.8" text-anchor="middle">6</text>
</g>
<text transform="translate(418 109.3) rotate(-90)" text-anchor="middle" font-family="'Liberation Sans',sans-serif" font-size="11.6" fill="#222">Absorption (%)</text>
<text x="569" y="228.6" text-anchor="middle" font-family="'Liberation Sans',sans-serif" font-size="10.3" fill="#222">Frequency (THz)</text>
<text x="469.8" y="154.7" font-family="'Liberation Sans',sans-serif" font-weight="bold" font-size="11.5" fill="#1a1a1a">Absorption spectra</text>
<rect x="590.4" y="11.3" width="95.5" height="108.7" fill="#fff" stroke="#666" stroke-width="0.9"/>
<line x1="590.4" y1="120" x2="685.9" y2="120" stroke="#4a4aa0" stroke-width="0.9"/>
<path d="M590.4 114.4h3.2M590.4 100.9h2M590.4 87.3h3.2M590.4 73.8h2M590.4 60.2h3.2M590.4 46.7h2M590.4 33.1h3.2M590.4 19.5h2M591.1 120v-3M605.9 120v-1.8M620.6 120v-3M635.4 120v-1.8M650.1 120v-3M664.9 120v-1.8M679.6 120v-3M685.9 117.6h-3.4M685.9 111.3h-1.8M685.9 105h-1.8M685.9 98.8h-1.8M685.9 92.5h-1.8M685.9 86.2h-3.4M685.9 79.9h-1.8M685.9 73.6h-1.8M685.9 67.4h-1.8M685.9 61.1h-1.8M685.9 54.8h-3.4M685.9 48.5h-1.8M685.9 42.2h-1.8M685.9 36h-1.8M685.9 29.7h-1.8M685.9 23.4h-3.4M685.9 17.1h-1.8" stroke="#555" stroke-width="0.8" fill="none"/>
<path d="M590.4 12.1 590.9 14.7 591.4 17.2 591.9 19.7 592.4 22.1 592.9 24.4 593.4 26.7 593.9 28.9 594.4 31.1 594.9 33.2 595.4 35.2 595.9 37.2 596.4 39.2 596.9 41.2 597.4 43.1 597.9 44.9 598.4 46.7 598.9 48.5 599.4 50.3 599.9 52 600.4 53.7 600.9 55.3 601.4 56.9 601.9 58.4 602.4 59.8 602.9 61.1 603.4 62.4 603.9 63.7 604.4 64.9 604.9 66.1 605.4 67.2 605.9 68.3 606.4 69.4 606.9 70.5 607.4 71.5 607.9 72.5 608.4 73.5 608.9 74.5 609.4 75.4 609.9 76.4 610.4 77.3 610.9 78.2 611.4 79.1 611.9 80 612.4 80.9 612.9 81.7 613.4 82.5 613.9 83.3 614.4 84.1 614.9 84.8 615.4 85.5 615.9 86.2 616.4 86.8 616.9 87.4 617.4 88.1 617.9 88.6 618.4 89.2 618.9 89.8 619.4 90.3 619.9 90.9 620.4 91.4 620.9 91.9 621.4 92.4 621.9 92.9 622.4 93.4 622.9 93.8 623.4 94.3 623.9 94.7 624.4 95.2 624.9 95.6 625.4 96 625.9 96.5 626.4 96.9 626.9 97.3 627.4 97.7 627.9 98.1 628.4 98.5 628.9 98.9 629.4 99.3 629.9 99.7 630.4 100.1 630.9 100.4 631.4 100.8 631.9 101.2 632.4 101.5 632.9 101.9 633.4 102.2 633.9 102.6 634.4 102.9 634.9 103.3 635.4 103.6 635.9 103.9 636.4 104.2 636.9 104.5 637.4 104.8 637.9 105.1 638.4 105.3 638.9 105.6 639.4 105.9 639.9 106.1 640.4 106.4 640.9 106.6 641.4 106.8 641.9 107.1 642.4 107.3 642.9 107.5 643.4 107.8 643.9 108 644.4 108.2 644.9 108.4 645.4 108.6 645.9 108.8 646.4 109 646.9 109.2 647.4 109.4 647.9 109.6 648.4 109.8 648.9 110 649.4 110.2 649.9 110.4 650.4 110.5 650.9 110.7 651.4 110.9 651.9 111.1 652.4 111.2 652.9 111.4 653.4 111.6 653.9 111.8 654.4 111.9 654.9 112.1 655.4 112.3 655.9 112.4 656.4 112.6 656.9 112.8 657.4 112.9 657.9 113.1 658.4 113.3 658.9 113.4 659.4 113.6 659.9 113.7 660.4 113.9 660.9 114 661.4 114.2 661.9 114.3 662.4 114.5 662.9 114.6 663.4 114.8 663.9 114.9 664.4 115.1 664.9 115.2 665.4 115.4 665.9 115.5 666.4 115.6 666.9 115.8 667.4 115.9 667.9 116 668.4 116.1 668.9 116.3 669.4 116.4 669.9 116.5 670.4 116.6 670.9 116.7 671.4 116.9 671.9 117 672.4 117.1 672.9 117.2 673.4 117.3 673.9 117.4 674.4 117.5 674.9 117.6 675.4 117.7 675.9 117.8 676.4 117.9 676.9 118 677.4 118.1 677.9 118.2 678.4 118.3 678.9 118.4 679.4 118.5 679.9 118.6 680.4 118.6 680.9 118.7 681.4 118.8 681.9 118.9 682.4 119 682.9 119 683.4 119.1 683.9 119.2 684.4 119.3 684.9 119.3 685.4 119.4" fill="none" stroke="#d8141c" stroke-width="1.8"/>
<path d="M591.9 119.4 592.4 116.3 592.9 113.2 593.4 110.1 593.9 106.9 594.4 103.7 594.9 100.5 595.4 97.2 595.9 93.8 596.4 90.4 596.9 86.9 597.4 83.6 597.9 80.3 598.4 77.2 598.9 74.3 599.4 71.4 599.9 68.7 600.4 66.1 600.9 63.5 601.4 61.1 601.9 58.7 602.4 56.5 602.9 54.3 603.4 52.2 603.9 50.1 604.4 48 604.9 46 605.4 44.1 605.9 42.3 606.4 40.7 606.9 39.2 607.4 37.9 607.9 36.8 608.4 35.8 608.9 34.7 609.4 33.8 609.9 32.9 610.4 32.1 610.9 31.3 611.4 30.5 611.9 29.8 612.4 29.2 612.9 28.6 613.4 28 613.9 27.5 614.4 27 614.9 26.5 615.4 26.1 615.9 25.6 616.4 25.2 616.9 24.8 617.4 24.3 617.9 24 618.4 23.6 618.9 23.2 619.4 22.9 619.9 22.6 620.4 22.2 620.9 22 621.4 21.7 621.9 21.4 622.4 21.2 622.9 21 623.4 20.8 623.9 20.6 624.4 20.4 624.9 20.2 625.4 20 625.9 19.9 626.4 19.7 626.9 19.6 627.4 19.4 627.9 19.3 628.4 19.1 628.9 19 629.4 18.9 629.9 18.8 630.4 18.6 630.9 18.5 631.4 18.4 631.9 18.3 632.4 18.2 632.9 18.1 633.4 18 633.9 17.9 634.4 17.8 634.9 17.7 635.4 17.6 635.9 17.5 636.4 17.5 636.9 17.4 637.4 17.3 637.9 17.2 638.4 17.2 638.9 17.1 639.4 17 639.9 17 640.4 16.9 640.9 16.9 641.4 16.8 641.9 16.7 642.4 16.7 642.9 16.6 643.4 16.6 643.9 16.5 644.4 16.5 644.9 16.4 645.4 16.4 645.9 16.3 646.4 16.3 646.9 16.3 647.4 16.2 647.9 16.2 648.4 16.1 648.9 16.1 649.4 16 649.9 16 650.4 16 650.9 15.9 651.4 15.9 651.9 15.9 652.4 15.8 652.9 15.8 653.4 15.8 653.9 15.7 654.4 15.7 654.9 15.7 655.4 15.7 655.9 15.6 656.4 15.6 656.9 15.6 657.4 15.6 657.9 15.5 658.4 15.5 658.9 15.5 659.4 15.5 659.9 15.4 660.4 15.4 660.9 15.4 661.4 15.4 661.9 15.3 662.4 15.3 662.9 15.3 663.4 15.3 663.9 15.2 664.4 15.2 664.9 15.2 665.4 15.2 665.9 15.1 666.4 15.1 666.9 15.1 667.4 15.1 667.9 15.1 668.4 15 668.9 15 669.4 15 669.9 15 670.4 14.9 670.9 14.9 671.4 14.9 671.9 14.9 672.4 14.9 672.9 14.9 673.4 14.8 673.9 14.8 674.4 14.8 674.9 14.8 675.4 14.8 675.9 14.8 676.4 14.7 676.9 14.7 677.4 14.7 677.9 14.7 678.4 14.7 678.9 14.7 679.4 14.7 679.9 14.7 680.4 14.7 680.9 14.6 681.4 14.6 681.9 14.6 682.4 14.6 682.9 14.6 683.4 14.6 683.9 14.6 684.4 14.6 684.9 14.6 685.4 14.6" fill="none" stroke="#17862c" stroke-width="1.6" stroke-dasharray="5 2"/>
<path d="M607.5 41H638" stroke="#2a9a3c" stroke-width="0.9" stroke-dasharray="2.2 1.3" fill="none"/><path d="M640.6 41l-3.4-1.5v3z" fill="#17862c"/>
<path d="M627.6 96.3H605.5" stroke="#d8141c" stroke-width="0.9" stroke-dasharray="2.2 1.3" fill="none"/><path d="M602.8 96.3l3.4-1.5v3z" fill="#d8141c"/>
<g font-family="'Liberation Sans',sans-serif" font-size="6.6" fill="#444">
<text x="588.6" y="116.7" text-anchor="end">1</text>
<text x="588.6" y="89.6" text-anchor="end">2</text>
<text x="588.6" y="62.5" text-anchor="end">3</text>
<text x="588.6" y="35.4" text-anchor="end">4</text>
<text x="591.4" y="127.3" text-anchor="middle">1</text>
<text x="620.9" y="127.3" text-anchor="middle">3</text>
<text x="650.4" y="127.3" text-anchor="middle">5</text>
<text x="679.9" y="127.3" text-anchor="middle">7</text>
<text x="687.3" y="25.4">-0.5</text>
<text x="687.3" y="57.1">-1.0</text>
<text x="687.3" y="88.5">-1.5</text>
<text x="687.3" y="119.9">-2</text>
<text x="573.3" y="16.3">×10<tspan font-size="4.4" dy="-2.4">2</tspan></text>
<text x="687.6" y="15">×10<tspan font-size="4.4" dy="-2.4">5</tspan></text>
</g>
<text transform="translate(582.6 71.6) rotate(-90)" text-anchor="middle" font-family="'Liberation Sans',sans-serif" font-size="8.4" fill="#444">Imaginary (<tspan font-style="italic">n</tspan>)</text>
<text transform="translate(706 68.5) rotate(-90)" text-anchor="middle" font-family="'Liberation Sans',sans-serif" font-size="8.4" fill="#444">Real (<tspan font-style="italic">ε</tspan>)</text>
<text x="643" y="136.6" text-anchor="middle" font-family="'Liberation Sans',sans-serif" font-size="8.6" fill="#444">Frequency (THz)</text>
<text x="611.6" y="56" font-family="'Liberation Sans',sans-serif" font-weight="bold" font-size="7.5" fill="#333">Fan et al. graphene</text>
<rect x="618.8" y="57.8" width="57.3" height="18.4" fill="#fff" stroke="#444" stroke-width="0.8"/>
<g font-family="'Liberation Sans',sans-serif" font-weight="bold" font-size="7.3" fill="#333">
<text x="621.8" y="65.8"><tspan font-style="italic">E</tspan><tspan font-style="italic" font-size="5" dy="0.8">F</tspan><tspan dy="-0.8"> = 0.5 eV</tspan></text>
<text x="621.8" y="74.6">α = 58.7 GHzΩ<tspan font-size="4.6" dy="-2.6">-1</tspan></text>
</g>
</g>
<defs>
<linearGradient id="jet" x1="0" y1="0" x2="0" y2="1"><stop offset="0" stop-color="#880000"/><stop offset="0.07" stop-color="#cc0000"/><stop offset="0.17" stop-color="#f01000"/><stop offset="0.28" stop-color="#ff7000"/><stop offset="0.38" stop-color="#ffe600"/><stop offset="0.5" stop-color="#8cff70"/><stop offset="0.61" stop-color="#10e8f0"/><stop offset="0.74" stop-color="#0080ff"/><stop offset="0.88" stop-color="#0010f0"/><stop offset="1" stop-color="#00008f"/></linearGradient>
<filter id="hB2" x="-10%" y="-10%" width="120%" height="120%"><feGaussianBlur stdDeviation="1.7"/></filter>
<filter id="hB1" x="-30%" y="-30%" width="160%" height="160%"><feGaussianBlur stdDeviation="1.0"/></filter>
<filter id="hB05" x="-30%" y="-30%" width="160%" height="160%"><feGaussianBlur stdDeviation="0.45"/></filter>
<linearGradient id="wgD" x1="0.5" y1="0" x2="1" y2="0"><stop offset="0.3" stop-color="#1c48e8"/><stop offset="1" stop-color="#40d8f0"/></linearGradient>
<linearGradient id="wgE" x1="0.5" y1="0" x2="1" y2="0"><stop offset="0.3" stop-color="#2070f0"/><stop offset="0.8" stop-color="#80f0b0"/><stop offset="1" stop-color="#e0f040"/></linearGradient>
<g id="cD"><ellipse cx="-11.8" cy="0" rx="3.8" ry="7.6" fill="#ffd000" filter="url(#hB1)"/><ellipse cx="-11.8" cy="0" rx="2.6" ry="6.0" fill="#ff4800" filter="url(#hB05)"/><ellipse cx="-12" cy="0" rx="1.7" ry="4.4" fill="#b80000"/><circle r="10.9" fill="url(#wgD)"/><path d="M10.5 4.7A11.5 11.5 0 1 1 10.5 -4.7L4.3 -3.6A5.6 5.6 0 1 0 4.3 3.6Z" fill="#0a12b8"/><path d="M7.1 4.6A8.5 8.5 0 1 1 7.1 -4.6" fill="none" stroke="#0000a0" stroke-width="2.6"/><path d="M9 7.5A11.7 11.7 0 1 1 9 -7.5" fill="none" stroke="#ff9000" stroke-width="0.9" stroke-dasharray="0.9 2.6" opacity="0.9"/><circle cx="10.6" cy="-4.8" r="1.5" fill="#ffb000" opacity="0.9"/><circle cx="10.5" cy="-4.8" r="1.0" fill="#f03000"/><circle cx="10.6" cy="4.8" r="1.5" fill="#ffb000" opacity="0.9"/><circle cx="10.5" cy="4.8" r="1.0" fill="#f03000"/><circle r="5.7" fill="#1428e0"/><path d="M3.3 3.6A4.9 4.9 0 1 1 3.3 -3.6" fill="none" stroke="#980000" stroke-width="1.7" stroke-dasharray="3.2 0.5"/><path d="M3.3 3.9A5.1 5.1 0 1 1 3.3 -3.9" fill="none" stroke="#ff8000" stroke-width="1.2" stroke-dasharray="0.6 3.1" opacity="0.8"/><path d="M-4.4 -2.1A4.9 4.9 0 0 1 -3 -3.9" fill="none" stroke="#ffb020" stroke-width="1.5"/><path d="M0.7 4.9A4.9 4.9 0 0 1 -1.5 4.7" fill="none" stroke="#ffc830" stroke-width="1.5"/><path d="M-0.2 -4.9A4.9 4.9 0 0 1 1.7 -4.6" fill="none" stroke="#ff9020" stroke-width="1.5"/><path d="M-4.2 2.4A4.9 4.9 0 0 1 -4.7 1.3" fill="none" stroke="#ff7010" stroke-width="1.5"/><path d="M3.6 -3.3A4.9 4.9 0 0 1 4.5 -1.8" fill="none" stroke="#ffe000" stroke-width="1.7"/><path d="M4.5 1.8A4.9 4.9 0 0 1 3.6 3.3" fill="none" stroke="#ffe000" stroke-width="1.7"/><path d="M2.4 0L6.4 -2.6L6.4 2.6Z" fill="#38c8f0"/><circle cx="0.3" cy="0" r="1.6" fill="#30a8f4"/><circle cx="0.4" cy="0" r="0.9" fill="#70f0d0"/></g>
<g id="cE"><ellipse cx="-11.9" cy="0" rx="5.2" ry="9.2" fill="#ffb000" filter="url(#hB1)"/><ellipse cx="-11.9" cy="0" rx="3.9" ry="7.6" fill="#f01800" filter="url(#hB05)"/><ellipse cx="-12" cy="0" rx="2.8" ry="6.0" fill="#860000"/><circle r="10.9" fill="url(#wgE)"/><path d="M10.5 4.7A11.5 11.5 0 1 1 10.5 -4.7L4.3 -3.6A5.6 5.6 0 1 0 4.3 3.6Z" fill="#0a12b8"/><path d="M7.1 4.6A8.5 8.5 0 1 1 7.1 -4.6" fill="none" stroke="#0000a0" stroke-width="2.6"/><path d="M9 7.5A11.7 11.7 0 1 1 9 -7.5" fill="none" stroke="#ff9000" stroke-width="0.9" stroke-dasharray="0.9 2.6" opacity="0.9"/><circle cx="10.6" cy="-4.8" r="1.9" fill="#ffb000" opacity="0.9"/><circle cx="10.5" cy="-4.8" r="1.3" fill="#e81000"/><circle cx="10.6" cy="4.8" r="1.9" fill="#ffb000" opacity="0.9"/><circle cx="10.5" cy="4.8" r="1.3" fill="#e81000"/><circle r="5.7" fill="#1428e0"/><path d="M3.3 3.6A4.9 4.9 0 1 1 3.3 -3.6" fill="none" stroke="#980000" stroke-width="1.7" stroke-dasharray="3.2 0.5"/><path d="M3.3 3.9A5.1 5.1 0 1 1 3.3 -3.9" fill="none" stroke="#ff8000" stroke-width="1.2" stroke-dasharray="0.6 3.1" opacity="0.8"/><path d="M-4.4 -2.1A4.9 4.9 0 0 1 -3 -3.9" fill="none" stroke="#ffb020" stroke-width="1.5"/><path d="M0.7 4.9A4.9 4.9 0 0 1 -1.5 4.7" fill="none" stroke="#ffc830" stroke-width="1.5"/><path d="M-0.2 -4.9A4.9 4.9 0 0 1 1.7 -4.6" fill="none" stroke="#ff9020" stroke-width="1.5"/><path d="M-4.2 2.4A4.9 4.9 0 0 1 -4.7 1.3" fill="none" stroke="#ff7010" stroke-width="1.5"/><path d="M3.6 -3.3A4.9 4.9 0 0 1 4.5 -1.8" fill="none" stroke="#ffe000" stroke-width="1.7"/><path d="M4.5 1.8A4.9 4.9 0 0 1 3.6 3.3" fill="none" stroke="#ffe000" stroke-width="1.7"/><path d="M2.4 0L6.4 -2.6L6.4 2.6Z" fill="#70e8c0"/><circle cx="0.3" cy="0" r="1.6" fill="#30a8f4"/><circle cx="0.4" cy="0" r="0.9" fill="#70f0d0"/></g>
</defs>
<g id="pde">
<clipPath id="hc0"><rect x="410" y="278" width="135" height="155.5"/></clipPath><g clip-path="url(#hc0)"><rect x="410" y="278" width="135" height="155.5" fill="#a0f488"/><g filter="url(#hB1)"><ellipse cx="422.7" cy="293.2" rx="15.2" ry="15.2" fill="#34d4f0"/><ellipse cx="450.1" cy="293.2" rx="15.2" ry="15.2" fill="#34d4f0"/><ellipse cx="477.6" cy="293.2" rx="15.2" ry="15.2" fill="#34d4f0"/><ellipse cx="505" cy="293.2" rx="15.2" ry="15.2" fill="#34d4f0"/><ellipse cx="532.5" cy="293.2" rx="15.2" ry="15.2" fill="#34d4f0"/><ellipse cx="422.7" cy="325.1" rx="15.2" ry="15.2" fill="#34d4f0"/><ellipse cx="450.1" cy="325.1" rx="15.2" ry="15.2" fill="#34d4f0"/><ellipse cx="477.6" cy="325.1" rx="15.2" ry="15.2" fill="#34d4f0"/><ellipse cx="505" cy="325.1" rx="15.2" ry="15.2" fill="#34d4f0"/><ellipse cx="532.5" cy="325.1" rx="15.2" ry="15.2" fill="#34d4f0"/><ellipse cx="422.7" cy="357" rx="15.2" ry="15.2" fill="#34d4f0"/><ellipse cx="450.1" cy="357" rx="15.2" ry="15.2" fill="#34d4f0"/><ellipse cx="477.6" cy="357" rx="15.2" ry="15.2" fill="#34d4f0"/><ellipse cx="505" cy="357" rx="15.2" ry="15.2" fill="#34d4f0"/><ellipse cx="532.5" cy="357" rx="15.2" ry="15.2" fill="#34d4f0"/><ellipse cx="422.7" cy="388.9" rx="15.2" ry="15.2" fill="#34d4f0"/><ellipse cx="450.1" cy="388.9" rx="15.2" ry="15.2" fill="#34d4f0"/><ellipse cx="477.6" cy="388.9" rx="15.2" ry="15.2" fill="#34d4f0"/><ellipse cx="505" cy="388.9" rx="15.2" ry="15.2" fill="#34d4f0"/><ellipse cx="532.5" cy="388.9" rx="15.2" ry="15.2" fill="#34d4f0"/><ellipse cx="422.7" cy="420.8" rx="15.2" ry="15.2" fill="#34d4f0"/><ellipse cx="450.1" cy="420.8" rx="15.2" ry="15.2" fill="#34d4f0"/><ellipse cx="477.6" cy="420.8" rx="15.2" ry="15.2" fill="#34d4f0"/><ellipse cx="505" cy="420.8" rx="15.2" ry="15.2" fill="#34d4f0"/><ellipse cx="532.5" cy="420.8" rx="15.2" ry="15.2" fill="#34d4f0"/></g><g filter="url(#hB2)"><rect x="408.5" y="278" width="4.5" height="155.5" fill="#2068f0"/><rect x="410" y="276.5" width="135" height="4" fill="#30b0f0"/><rect x="410" y="431.5" width="135" height="4" fill="#30c0f0"/><ellipse cx="434.8" cy="283.6" rx="4.2" ry="2.0" fill="#1c58f0" opacity="0.95" transform="rotate(-35 434.8 283.6)"/><ellipse cx="434.8" cy="302.8" rx="4.2" ry="2.0" fill="#1c58f0" opacity="0.95" transform="rotate(35 434.8 302.8)"/><ellipse cx="462.2" cy="283.6" rx="4.2" ry="2.0" fill="#1c58f0" opacity="0.95" transform="rotate(-35 462.2 283.6)"/><ellipse cx="462.2" cy="302.8" rx="4.2" ry="2.0" fill="#1c58f0" opacity="0.95" transform="rotate(35 462.2 302.8)"/><ellipse cx="489.7" cy="283.6" rx="4.2" ry="2.0" fill="#1c58f0" opacity="0.95" transform="rotate(-35 489.7 283.6)"/><ellipse cx="489.7" cy="302.8" rx="4.2" ry="2.0" fill="#1c58f0" opacity="0.95" transform="rotate(35 489.7 302.8)"/><ellipse cx="517.1" cy="283.6" rx="4.2" ry="2.0" fill="#1c58f0" opacity="0.95" transform="rotate(-35 517.1 283.6)"/><ellipse cx="517.1" cy="302.8" rx="4.2" ry="2.0" fill="#1c58f0" opacity="0.95" transform="rotate(35 517.1 302.8)"/><ellipse cx="544.6" cy="283.6" rx="4.2" ry="2.0" fill="#1c58f0" opacity="0.95" transform="rotate(-35 544.6 283.6)"/><ellipse cx="544.6" cy="302.8" rx="4.2" ry="2.0" fill="#1c58f0" opacity="0.95" transform="rotate(35 544.6 302.8)"/><ellipse cx="434.8" cy="315.5" rx="4.2" ry="2.0" fill="#1c58f0" opacity="0.95" transform="rotate(-35 434.8 315.5)"/><ellipse cx="434.8" cy="334.7" rx="4.2" ry="2.0" fill="#1c58f0" opacity="0.95" transform="rotate(35 434.8 334.7)"/><ellipse cx="462.2" cy="315.5" rx="4.2" ry="2.0" fill="#1c58f0" opacity="0.95" transform="rotate(-35 462.2 315.5)"/><ellipse cx="462.2" cy="334.7" rx="4.2" ry="2.0" fill="#1c58f0" opacity="0.95" transform="rotate(35 462.2 334.7)"/><ellipse cx="489.7" cy="315.5" rx="4.2" ry="2.0" fill="#1c58f0" opacity="0.95" transform="rotate(-35 489.7 315.5)"/><ellipse cx="489.7" cy="334.7" rx="4.2" ry="2.0" fill="#1c58f0" opacity="0.95" transform="rotate(35 489.7 334.7)"/><ellipse cx="517.1" cy="315.5" rx="4.2" ry="2.0" fill="#1c58f0" opacity="0.95" transform="rotate(-35 517.1 315.5)"/><ellipse cx="517.1" cy="334.7" rx="4.2" ry="2.0" fill="#1c58f0" opacity="0.95" transform="rotate(35 517.1 334.7)"/><ellipse cx="544.6" cy="315.5" rx="4.2" ry="2.0" fill="#1c58f0" opacity="0.95" transform="rotate(-35 544.6 315.5)"/><ellipse cx="544.6" cy="334.7" rx="4.2" ry="2.0" fill="#1c58f0" opacity="0.95" transform="rotate(35 544.6 334.7)"/><ellipse cx="434.8" cy="347.4" rx="4.2" ry="2.0" fill="#1c58f0" opacity="0.95" transform="rotate(-35 434.8 347.4)"/><ellipse cx="434.8" cy="366.6" rx="4.2" ry="2.0" fill="#1c58f0" opacity="0.95" transform="rotate(35 434.8 366.6)"/><ellipse cx="462.2" cy="347.4" rx="4.2" ry="2.0" fill="#1c58f0" opacity="0.95" transform="rotate(-35 462.2 347.4)"/><ellipse cx="462.2" cy="366.6" rx="4.2" ry="2.0" fill="#1c58f0" opacity="0.95" transform="rotate(35 462.2 366.6)"/><ellipse cx="489.7" cy="347.4" rx="4.2" ry="2.0" fill="#1c58f0" opacity="0.95" transform="rotate(-35 489.7 347.4)"/><ellipse cx="489.7" cy="366.6" rx="4.2" ry="2.0" fill="#1c58f0" opacity="0.95" transform="rotate(35 489.7 366.6)"/><ellipse cx="517.1" cy="347.4" rx="4.2" ry="2.0" fill="#1c58f0" opacity="0.95" transform="rotate(-35 517.1 347.4)"/><ellipse cx="517.1" cy="366.6" rx="4.2" ry="2.0" fill="#1c58f0" opacity="0.95" transform="rotate(35 517.1 366.6)"/><ellipse cx="544.6" cy="347.4" rx="4.2" ry="2.0" fill="#1c58f0" opacity="0.95" transform="rotate(-35 544.6 347.4)"/><ellipse cx="544.6" cy="366.6" rx="4.2" ry="2.0" fill="#1c58f0" opacity="0.95" transform="rotate(35 544.6 366.6)"/><ellipse cx="434.8" cy="379.3" rx="4.2" ry="2.0" fill="#1c58f0" opacity="0.95" transform="rotate(-35 434.8 379.3)"/><ellipse cx="434.8" cy="398.5" rx="4.2" ry="2.0" fill="#1c58f0" opacity="0.95" transform="rotate(35 434.8 398.5)"/><ellipse cx="462.2" cy="379.3" rx="4.2" ry="2.0" fill="#1c58f0" opacity="0.95" transform="rotate(-35 462.2 379.3)"/><ellipse cx="462.2" cy="398.5" rx="4.2" ry="2.0" fill="#1c58f0" opacity="0.95" transform="rotate(35 462.2 398.5)"/><ellipse cx="489.7" cy="379.3" rx="4.2" ry="2.0" fill="#1c58f0" opacity="0.95" transform="rotate(-35 489.7 379.3)"/><ellipse cx="489.7" cy="398.5" rx="4.2" ry="2.0" fill="#1c58f0" opacity="0.95" transform="rotate(35 489.7 398.5)"/><ellipse cx="517.1" cy="379.3" rx="4.2" ry="2.0" fill="#1c58f0" opacity="0.95" transform="rotate(-35 517.1 379.3)"/><ellipse cx="517.1" cy="398.5" rx="4.2" ry="2.0" fill="#1c58f0" opacity="0.95" transform="rotate(35 517.1 398.5)"/><ellipse cx="544.6" cy="379.3" rx="4.2" ry="2.0" fill="#1c58f0" opacity="0.95" transform="rotate(-35 544.6 379.3)"/><ellipse cx="544.6" cy="398.5" rx="4.2" ry="2.0" fill="#1c58f0" opacity="0.95" transform="rotate(35 544.6 398.5)"/><ellipse cx="434.8" cy="411.2" rx="4.2" ry="2.0" fill="#1c58f0" opacity="0.95" transform="rotate(-35 434.8 411.2)"/><ellipse cx="434.8" cy="430.4" rx="4.2" ry="2.0" fill="#1c58f0" opacity="0.95" transform="rotate(35 434.8 430.4)"/><ellipse cx="462.2" cy="411.2" rx="4.2" ry="2.0" fill="#1c58f0" opacity="0.95" transform="rotate(-35 462.2 411.2)"/><ellipse cx="462.2" cy="430.4" rx="4.2" ry="2.0" fill="#1c58f0" opacity="0.95" transform="rotate(35 462.2 430.4)"/><ellipse cx="489.7" cy="411.2" rx="4.2" ry="2.0" fill="#1c58f0" opacity="0.95" transform="rotate(-35 489.7 411.2)"/><ellipse cx="489.7" cy="430.4" rx="4.2" ry="2.0" fill="#1c58f0" opacity="0.95" transform="rotate(35 489.7 430.4)"/><ellipse cx="517.1" cy="411.2" rx="4.2" ry="2.0" fill="#1c58f0" opacity="0.95" transform="rotate(-35 517.1 411.2)"/><ellipse cx="517.1" cy="430.4" rx="4.2" ry="2.0" fill="#1c58f0" opacity="0.95" transform="rotate(35 517.1 430.4)"/><ellipse cx="544.6" cy="411.2" rx="4.2" ry="2.0" fill="#1c58f0" opacity="0.95" transform="rotate(-35 544.6 411.2)"/><ellipse cx="544.6" cy="430.4" rx="4.2" ry="2.0" fill="#1c58f0" opacity="0.95" transform="rotate(35 544.6 430.4)"/><ellipse cx="436.8" cy="309.1" rx="6.9" ry="2.9" fill="#f8f020" opacity="0.8"/><ellipse cx="463.5" cy="308.8" rx="7.2" ry="3" fill="#f8f020" opacity="0.8"/><ellipse cx="491.1" cy="309.5" rx="7.3" ry="3.1" fill="#f8f020" opacity="0.9"/><ellipse cx="517.9" cy="308.7" rx="8" ry="3.4" fill="#f8f020" opacity="1"/><ellipse cx="518.8" cy="309.1" rx="4.3" ry="2.3" fill="#ff8800" opacity="0.8"/><ellipse cx="546.1" cy="308.6" rx="6.7" ry="2.8" fill="#f8f020" opacity="0.7"/><ellipse cx="409.4" cy="341.2" rx="5.8" ry="2.3" fill="#f8f020" opacity="0.6"/><ellipse cx="435.2" cy="340.5" rx="6.9" ry="2.9" fill="#f8f020" opacity="0.8"/><ellipse cx="462.5" cy="340.7" rx="7.2" ry="3" fill="#f8f020" opacity="0.8"/><ellipse cx="489.9" cy="341" rx="7.1" ry="3" fill="#f8f020" opacity="0.8"/><ellipse cx="519" cy="341.1" rx="8.2" ry="3.5" fill="#f8f020" opacity="1"/><ellipse cx="518.8" cy="341.1" rx="4.3" ry="2.3" fill="#ff8800" opacity="0.9"/><ellipse cx="545.7" cy="341.2" rx="6.6" ry="2.8" fill="#f8f020" opacity="0.7"/><ellipse cx="436.9" cy="373.5" rx="6.7" ry="2.8" fill="#f8f020" opacity="0.7"/><ellipse cx="463.8" cy="372.7" rx="7.4" ry="3.1" fill="#f8f020" opacity="0.9"/><ellipse cx="490.4" cy="372.4" rx="7.1" ry="3" fill="#f8f020" opacity="0.8"/><ellipse cx="518.1" cy="373.4" rx="8.4" ry="3.6" fill="#f8f020" opacity="1"/><ellipse cx="518.8" cy="372.9" rx="4.3" ry="2.3" fill="#ff8800" opacity="1"/><ellipse cx="546.6" cy="373.4" rx="6.5" ry="2.7" fill="#f8f020" opacity="0.7"/><ellipse cx="436.7" cy="404.8" rx="6.4" ry="2.6" fill="#f8f020" opacity="0.7"/><ellipse cx="463.2" cy="404.3" rx="7.1" ry="3" fill="#f8f020" opacity="0.8"/><ellipse cx="491.4" cy="404.6" rx="7.1" ry="3" fill="#f8f020" opacity="0.8"/><ellipse cx="517.9" cy="405.4" rx="7.7" ry="3.3" fill="#f8f020" opacity="0.9"/><ellipse cx="518.8" cy="404.9" rx="4.3" ry="2.3" fill="#ff8800" opacity="0.7"/><ellipse cx="545" cy="404.5" rx="6.4" ry="2.7" fill="#f8f020" opacity="0.7"/></g><use href="#cD" transform="translate(422.2 293.2) scale(1 1.1)"/><use href="#cD" transform="translate(449.6 293.2) scale(1 1.1)"/><use href="#cD" transform="translate(477.1 293.2) scale(1 1.1)"/><use href="#cD" transform="translate(504.5 293.2) scale(1 1.1)"/><use href="#cD" transform="translate(532 293.2) scale(1 1.1)"/><use href="#cD" transform="translate(422.2 325.1) scale(1 1.1)"/><use href="#cD" transform="translate(449.6 325.1) scale(1 1.1)"/><use href="#cD" transform="translate(477.1 325.1) scale(1 1.1)"/><use href="#cD" transform="translate(504.5 325.1) scale(1 1.1)"/><use href="#cD" transform="translate(532 325.1) scale(1 1.1)"/><use href="#cD" transform="translate(422.2 357) scale(1 1.1)"/><use href="#cD" transform="translate(449.6 357) scale(1 1.1)"/><use href="#cD" transform="translate(477.1 357) scale(1 1.1)"/><use href="#cD" transform="translate(504.5 357) scale(1 1.1)"/><use href="#cD" transform="translate(532 357) scale(1 1.1)"/><use href="#cD" transform="translate(422.2 388.9) scale(1 1.1)"/><use href="#cD" transform="translate(449.6 388.9) scale(1 1.1)"/><use href="#cD" transform="translate(477.1 388.9) scale(1 1.1)"/><use href="#cD" transform="translate(504.5 388.9) scale(1 1.1)"/><use href="#cD" transform="translate(532 388.9) scale(1 1.1)"/><use href="#cD" transform="translate(422.2 420.8) scale(1 1.1)"/><use href="#cD" transform="translate(449.6 420.8) scale(1 1.1)"/><use href="#cD" transform="translate(477.1 420.8) scale(1 1.1)"/><use href="#cD" transform="translate(504.5 420.8) scale(1 1.1)"/><use href="#cD" transform="translate(532 420.8) scale(1 1.1)"/></g>
<clipPath id="hc1"><rect x="591" y="278" width="136" height="155.5"/></clipPath><g clip-path="url(#hc1)"><rect x="591" y="278" width="136" height="155.5" fill="#e8f23c"/><g filter="url(#hB1)"><ellipse cx="604.5" cy="293.2" rx="14" ry="15" fill="#40e0e8"/><ellipse cx="632.1" cy="293.2" rx="14" ry="15" fill="#40e0e8"/><ellipse cx="659.8" cy="293.2" rx="14" ry="15" fill="#40e0e8"/><ellipse cx="687.4" cy="293.2" rx="14" ry="15" fill="#40e0e8"/><ellipse cx="715.1" cy="293.2" rx="14" ry="15" fill="#40e0e8"/><ellipse cx="604.5" cy="325.1" rx="14" ry="15" fill="#40e0e8"/><ellipse cx="632.1" cy="325.1" rx="14" ry="15" fill="#40e0e8"/><ellipse cx="659.8" cy="325.1" rx="14" ry="15" fill="#40e0e8"/><ellipse cx="687.4" cy="325.1" rx="14" ry="15" fill="#40e0e8"/><ellipse cx="715.1" cy="325.1" rx="14" ry="15" fill="#40e0e8"/><ellipse cx="604.5" cy="357" rx="14" ry="15" fill="#40e0e8"/><ellipse cx="632.1" cy="357" rx="14" ry="15" fill="#40e0e8"/><ellipse cx="659.8" cy="357" rx="14" ry="15" fill="#40e0e8"/><ellipse cx="687.4" cy="357" rx="14" ry="15" fill="#40e0e8"/><ellipse cx="715.1" cy="357" rx="14" ry="15" fill="#40e0e8"/><ellipse cx="604.5" cy="388.9" rx="14" ry="15" fill="#40e0e8"/><ellipse cx="632.1" cy="388.9" rx="14" ry="15" fill="#40e0e8"/><ellipse cx="659.8" cy="388.9" rx="14" ry="15" fill="#40e0e8"/><ellipse cx="687.4" cy="388.9" rx="14" ry="15" fill="#40e0e8"/><ellipse cx="715.1" cy="388.9" rx="14" ry="15" fill="#40e0e8"/><ellipse cx="604.5" cy="420.8" rx="14" ry="15" fill="#40e0e8"/><ellipse cx="632.1" cy="420.8" rx="14" ry="15" fill="#40e0e8"/><ellipse cx="659.8" cy="420.8" rx="14" ry="15" fill="#40e0e8"/><ellipse cx="687.4" cy="420.8" rx="14" ry="15" fill="#40e0e8"/><ellipse cx="715.1" cy="420.8" rx="14" ry="15" fill="#40e0e8"/></g><g filter="url(#hB2)"><rect x="591" y="276.5" width="136" height="4" fill="#40c8f0"/><rect x="591" y="431.5" width="136" height="3.5" fill="#40d0f0"/><ellipse cx="616.3" cy="283.6" rx="4.2" ry="2.0" fill="#2890f0" opacity="0.75" transform="rotate(-35 616.3 283.6)"/><ellipse cx="616.3" cy="302.8" rx="4.2" ry="2.0" fill="#2890f0" opacity="0.75" transform="rotate(35 616.3 302.8)"/><ellipse cx="644" cy="283.6" rx="4.2" ry="2.0" fill="#2890f0" opacity="0.75" transform="rotate(-35 644 283.6)"/><ellipse cx="644" cy="302.8" rx="4.2" ry="2.0" fill="#2890f0" opacity="0.75" transform="rotate(35 644 302.8)"/><ellipse cx="671.6" cy="283.6" rx="4.2" ry="2.0" fill="#2890f0" opacity="0.75" transform="rotate(-35 671.6 283.6)"/><ellipse cx="671.6" cy="302.8" rx="4.2" ry="2.0" fill="#2890f0" opacity="0.75" transform="rotate(35 671.6 302.8)"/><ellipse cx="699.2" cy="283.6" rx="4.2" ry="2.0" fill="#2890f0" opacity="0.75" transform="rotate(-35 699.2 283.6)"/><ellipse cx="699.2" cy="302.8" rx="4.2" ry="2.0" fill="#2890f0" opacity="0.75" transform="rotate(35 699.2 302.8)"/><ellipse cx="726.9" cy="283.6" rx="4.2" ry="2.0" fill="#2890f0" opacity="0.75" transform="rotate(-35 726.9 283.6)"/><ellipse cx="726.9" cy="302.8" rx="4.2" ry="2.0" fill="#2890f0" opacity="0.75" transform="rotate(35 726.9 302.8)"/><ellipse cx="616.3" cy="315.5" rx="4.2" ry="2.0" fill="#2890f0" opacity="0.75" transform="rotate(-35 616.3 315.5)"/><ellipse cx="616.3" cy="334.7" rx="4.2" ry="2.0" fill="#2890f0" opacity="0.75" transform="rotate(35 616.3 334.7)"/><ellipse cx="644" cy="315.5" rx="4.2" ry="2.0" fill="#2890f0" opacity="0.75" transform="rotate(-35 644 315.5)"/><ellipse cx="644" cy="334.7" rx="4.2" ry="2.0" fill="#2890f0" opacity="0.75" transform="rotate(35 644 334.7)"/><ellipse cx="671.6" cy="315.5" rx="4.2" ry="2.0" fill="#2890f0" opacity="0.75" transform="rotate(-35 671.6 315.5)"/><ellipse cx="671.6" cy="334.7" rx="4.2" ry="2.0" fill="#2890f0" opacity="0.75" transform="rotate(35 671.6 334.7)"/><ellipse cx="699.2" cy="315.5" rx="4.2" ry="2.0" fill="#2890f0" opacity="0.75" transform="rotate(-35 699.2 315.5)"/><ellipse cx="699.2" cy="334.7" rx="4.2" ry="2.0" fill="#2890f0" opacity="0.75" transform="rotate(35 699.2 334.7)"/><ellipse cx="726.9" cy="315.5" rx="4.2" ry="2.0" fill="#2890f0" opacity="0.75" transform="rotate(-35 726.9 315.5)"/><ellipse cx="726.9" cy="334.7" rx="4.2" ry="2.0" fill="#2890f0" opacity="0.75" transform="rotate(35 726.9 334.7)"/><ellipse cx="616.3" cy="347.4" rx="4.2" ry="2.0" fill="#2890f0" opacity="0.75" transform="rotate(-35 616.3 347.4)"/><ellipse cx="616.3" cy="366.6" rx="4.2" ry="2.0" fill="#2890f0" opacity="0.75" transform="rotate(35 616.3 366.6)"/><ellipse cx="644" cy="347.4" rx="4.2" ry="2.0" fill="#2890f0" opacity="0.75" transform="rotate(-35 644 347.4)"/><ellipse cx="644" cy="366.6" rx="4.2" ry="2.0" fill="#2890f0" opacity="0.75" transform="rotate(35 644 366.6)"/><ellipse cx="671.6" cy="347.4" rx="4.2" ry="2.0" fill="#2890f0" opacity="0.75" transform="rotate(-35 671.6 347.4)"/><ellipse cx="671.6" cy="366.6" rx="4.2" ry="2.0" fill="#2890f0" opacity="0.75" transform="rotate(35 671.6 366.6)"/><ellipse cx="699.2" cy="347.4" rx="4.2" ry="2.0" fill="#2890f0" opacity="0.75" transform="rotate(-35 699.2 347.4)"/><ellipse cx="699.2" cy="366.6" rx="4.2" ry="2.0" fill="#2890f0" opacity="0.75" transform="rotate(35 699.2 366.6)"/><ellipse cx="726.9" cy="347.4" rx="4.2" ry="2.0" fill="#2890f0" opacity="0.75" transform="rotate(-35 726.9 347.4)"/><ellipse cx="726.9" cy="366.6" rx="4.2" ry="2.0" fill="#2890f0" opacity="0.75" transform="rotate(35 726.9 366.6)"/><ellipse cx="616.3" cy="379.3" rx="4.2" ry="2.0" fill="#2890f0" opacity="0.75" transform="rotate(-35 616.3 379.3)"/><ellipse cx="616.3" cy="398.5" rx="4.2" ry="2.0" fill="#2890f0" opacity="0.75" transform="rotate(35 616.3 398.5)"/><ellipse cx="644" cy="379.3" rx="4.2" ry="2.0" fill="#2890f0" opacity="0.75" transform="rotate(-35 644 379.3)"/><ellipse cx="644" cy="398.5" rx="4.2" ry="2.0" fill="#2890f0" opacity="0.75" transform="rotate(35 644 398.5)"/><ellipse cx="671.6" cy="379.3" rx="4.2" ry="2.0" fill="#2890f0" opacity="0.75" transform="rotate(-35 671.6 379.3)"/><ellipse cx="671.6" cy="398.5" rx="4.2" ry="2.0" fill="#2890f0" opacity="0.75" transform="rotate(35 671.6 398.5)"/><ellipse cx="699.2" cy="379.3" rx="4.2" ry="2.0" fill="#2890f0" opacity="0.75" transform="rotate(-35 699.2 379.3)"/><ellipse cx="699.2" cy="398.5" rx="4.2" ry="2.0" fill="#2890f0" opacity="0.75" transform="rotate(35 699.2 398.5)"/><ellipse cx="726.9" cy="379.3" rx="4.2" ry="2.0" fill="#2890f0" opacity="0.75" transform="rotate(-35 726.9 379.3)"/><ellipse cx="726.9" cy="398.5" rx="4.2" ry="2.0" fill="#2890f0" opacity="0.75" transform="rotate(35 726.9 398.5)"/><ellipse cx="616.3" cy="411.2" rx="4.2" ry="2.0" fill="#2890f0" opacity="0.75" transform="rotate(-35 616.3 411.2)"/><ellipse cx="616.3" cy="430.4" rx="4.2" ry="2.0" fill="#2890f0" opacity="0.75" transform="rotate(35 616.3 430.4)"/><ellipse cx="644" cy="411.2" rx="4.2" ry="2.0" fill="#2890f0" opacity="0.75" transform="rotate(-35 644 411.2)"/><ellipse cx="644" cy="430.4" rx="4.2" ry="2.0" fill="#2890f0" opacity="0.75" transform="rotate(35 644 430.4)"/><ellipse cx="671.6" cy="411.2" rx="4.2" ry="2.0" fill="#2890f0" opacity="0.75" transform="rotate(-35 671.6 411.2)"/><ellipse cx="671.6" cy="430.4" rx="4.2" ry="2.0" fill="#2890f0" opacity="0.75" transform="rotate(35 671.6 430.4)"/><ellipse cx="699.2" cy="411.2" rx="4.2" ry="2.0" fill="#2890f0" opacity="0.75" transform="rotate(-35 699.2 411.2)"/><ellipse cx="699.2" cy="430.4" rx="4.2" ry="2.0" fill="#2890f0" opacity="0.75" transform="rotate(35 699.2 430.4)"/><ellipse cx="726.9" cy="411.2" rx="4.2" ry="2.0" fill="#2890f0" opacity="0.75" transform="rotate(-35 726.9 411.2)"/><ellipse cx="726.9" cy="430.4" rx="4.2" ry="2.0" fill="#2890f0" opacity="0.75" transform="rotate(35 726.9 430.4)"/><ellipse cx="590.4" cy="309.1" rx="6.5" ry="3.1" fill="#ffb000" opacity="0.8"/><ellipse cx="618" cy="309.1" rx="7.2" ry="3.5" fill="#ffb000" opacity="1"/><ellipse cx="618" cy="309.1" rx="4.6" ry="2.4" fill="#ff5000" opacity="0.9"/><ellipse cx="645.7" cy="309.1" rx="6.9" ry="3.3" fill="#ffb000" opacity="0.9"/><ellipse cx="645.7" cy="309.1" rx="4.6" ry="2.4" fill="#ff5000" opacity="0.8"/><ellipse cx="673.3" cy="309.1" rx="6.9" ry="3.3" fill="#ffb000" opacity="0.9"/><ellipse cx="673.3" cy="309.1" rx="4.6" ry="2.4" fill="#ff5000" opacity="0.8"/><ellipse cx="701" cy="309.1" rx="7.5" ry="3.6" fill="#ffb000" opacity="1"/><ellipse cx="701" cy="309.1" rx="4.6" ry="2.4" fill="#ff5000" opacity="1"/><ellipse cx="701.3" cy="309.1" rx="4.2" ry="2.3" fill="#e01000"/><ellipse cx="728.6" cy="309.1" rx="6.5" ry="3.1" fill="#ffb000" opacity="0.8"/><ellipse cx="590.4" cy="341.1" rx="6.3" ry="3" fill="#ffb000" opacity="0.7"/><ellipse cx="618" cy="341.1" rx="6.8" ry="3.3" fill="#ffb000" opacity="0.9"/><ellipse cx="645.7" cy="341.1" rx="6.6" ry="3.2" fill="#ffb000" opacity="0.8"/><ellipse cx="673.3" cy="341.1" rx="7.1" ry="3.4" fill="#ffb000" opacity="1"/><ellipse cx="673.3" cy="341.1" rx="4.6" ry="2.4" fill="#ff5000" opacity="0.8"/><ellipse cx="701" cy="341.1" rx="7.4" ry="3.5" fill="#ffb000" opacity="1"/><ellipse cx="701" cy="341.1" rx="4.6" ry="2.4" fill="#ff5000" opacity="0.9"/><ellipse cx="701.3" cy="341.1" rx="4.2" ry="2.3" fill="#e01000"/><ellipse cx="728.6" cy="341.1" rx="6.5" ry="3.1" fill="#ffb000" opacity="0.8"/><ellipse cx="590.4" cy="372.9" rx="5.5" ry="2.6" fill="#ffb000" opacity="0.5"/><ellipse cx="618" cy="372.9" rx="6.3" ry="3" fill="#ffb000" opacity="0.7"/><ellipse cx="645.7" cy="372.9" rx="6.4" ry="3.1" fill="#ffb000" opacity="0.7"/><ellipse cx="673.3" cy="372.9" rx="6.6" ry="3.2" fill="#ffb000" opacity="0.8"/><ellipse cx="701" cy="372.9" rx="7.5" ry="3.6" fill="#ffb000" opacity="1"/><ellipse cx="701" cy="372.9" rx="4.6" ry="2.4" fill="#ff5000" opacity="1"/><ellipse cx="701.3" cy="372.9" rx="4.2" ry="2.3" fill="#e01000"/><ellipse cx="728.6" cy="372.9" rx="6.6" ry="3.2" fill="#ffb000" opacity="0.8"/><ellipse cx="590.4" cy="404.9" rx="6.2" ry="3" fill="#ffb000" opacity="0.7"/><ellipse cx="618" cy="404.9" rx="6.8" ry="3.3" fill="#ffb000" opacity="0.9"/><ellipse cx="645.7" cy="404.9" rx="6.9" ry="3.3" fill="#ffb000" opacity="0.9"/><ellipse cx="645.7" cy="404.9" rx="4.6" ry="2.4" fill="#ff5000" opacity="0.8"/><ellipse cx="673.3" cy="404.9" rx="7.2" ry="3.4" fill="#ffb000" opacity="1"/><ellipse cx="673.3" cy="404.9" rx="4.6" ry="2.4" fill="#ff5000" opacity="0.9"/><ellipse cx="701" cy="404.9" rx="7.6" ry="3.6" fill="#ffb000" opacity="1"/><ellipse cx="701" cy="404.9" rx="4.6" ry="2.4" fill="#ff5000" opacity="1"/><ellipse cx="701.3" cy="404.9" rx="4.2" ry="2.3" fill="#e01000"/><ellipse cx="728.6" cy="404.9" rx="6.6" ry="3.1" fill="#ffb000" opacity="0.8"/></g><use href="#cE" transform="translate(603.7 293.2) scale(1 1.1)"/><use href="#cE" transform="translate(631.4 293.2) scale(1 1.1)"/><use href="#cE" transform="translate(659 293.2) scale(1 1.1)"/><use href="#cE" transform="translate(686.6 293.2) scale(1 1.1)"/><use href="#cE" transform="translate(714.3 293.2) scale(1 1.1)"/><use href="#cE" transform="translate(603.7 325.1) scale(1 1.1)"/><use href="#cE" transform="translate(631.4 325.1) scale(1 1.1)"/><use href="#cE" transform="translate(659 325.1) scale(1 1.1)"/><use href="#cE" transform="translate(686.6 325.1) scale(1 1.1)"/><use href="#cE" transform="translate(714.3 325.1) scale(1 1.1)"/><use href="#cE" transform="translate(603.7 357) scale(1 1.1)"/><use href="#cE" transform="translate(631.4 357) scale(1 1.1)"/><use href="#cE" transform="translate(659 357) scale(1 1.1)"/><use href="#cE" transform="translate(686.6 357) scale(1 1.1)"/><use href="#cE" transform="translate(714.3 357) scale(1 1.1)"/><use href="#cE" transform="translate(603.7 388.9) scale(1 1.1)"/><use href="#cE" transform="translate(631.4 388.9) scale(1 1.1)"/><use href="#cE" transform="translate(659 388.9) scale(1 1.1)"/><use href="#cE" transform="translate(686.6 388.9) scale(1 1.1)"/><use href="#cE" transform="translate(714.3 388.9) scale(1 1.1)"/><use href="#cE" transform="translate(603.7 420.8) scale(1 1.1)"/><use href="#cE" transform="translate(631.4 420.8) scale(1 1.1)"/><use href="#cE" transform="translate(659 420.8) scale(1 1.1)"/><use href="#cE" transform="translate(686.6 420.8) scale(1 1.1)"/><use href="#cE" transform="translate(714.3 420.8) scale(1 1.1)"/></g>
<rect x="547.6" y="283" width="5" height="147" fill="url(#jet)"/><path d="M552.6 307.8h-2.4M552.6 330.4h-2.4M552.6 353h-2.4M552.6 375.6h-2.4M552.6 398.2h-2.4M552.6 420.8h-2.4" stroke="#333" stroke-width="0.6" fill="none" opacity="0.7"/>
<rect x="730.6" y="283" width="5" height="147" fill="url(#jet)"/><path d="M735.6 307.8h-2.4M735.6 330.4h-2.4M735.6 353h-2.4M735.6 375.6h-2.4M735.6 398.2h-2.4M735.6 420.8h-2.4" stroke="#333" stroke-width="0.6" fill="none" opacity="0.7"/>
<g font-family="'Liberation Sans',sans-serif" fill="#222">
<text x="545.7" y="277.3" font-size="12.3">|E|</text><text x="728.9" y="277.3" font-size="12.3">|E|</text>
<text x="552.9" y="290.7" font-size="10.1">Max</text><text x="735.9" y="290.7" font-size="10.1">Max</text>
<text x="552.9" y="430.3" font-size="10.1">Min</text><text x="735.9" y="430.3" font-size="10.1">Min</text>
</g>
<g font-family="'Liberation Serif',serif" font-style="italic" font-size="11.8" fill="#222">
<text x="452.3" y="275.3">f= 1.70 THz</text><text x="630" y="275.3">f= 3.25 THz</text></g>
<path d="M404.6 389.5V438.5H454.9" fill="none" stroke="#2a2a48" stroke-width="0.8"/><path d="M404.6 386.5l-1.5 4.2h3z" fill="#2a2a48"/><path d="M457.9 438.5l-4.2-1.5v3z" fill="#2a2a48"/><text x="400.6" y="383.2" font-family="'Liberation Serif',serif" font-style="italic" font-size="12.5" fill="#333">y</text><text x="459" y="441.3" font-family="'Liberation Serif',serif" font-style="italic" font-size="12.2" fill="#333">x</text>
<path d="M585.6 389.5V438.5H635.9" fill="none" stroke="#2a2a48" stroke-width="0.8"/><path d="M585.6 386.5l-1.5 4.2h3z" fill="#2a2a48"/><path d="M638.9 438.5l-4.2-1.5v3z" fill="#2a2a48"/><text x="581.6" y="383.2" font-family="'Liberation Serif',serif" font-style="italic" font-size="12.5" fill="#333">y</text><text x="640.5" y="441.3" font-family="'Liberation Serif',serif" font-style="italic" font-size="12.2" fill="#333">x</text>
</g>
<g font-family="'Liberation Sans',sans-serif" font-weight="bold" font-size="19.8" fill="#0c0c40">
<text x="37.3" y="13.4">a</text><text x="37.9" y="234.5">b</text><text x="408.2" y="13.4">c</text>
<text x="396.2" y="277.6" font-size="19.8">d</text><text x="579" y="277.6" font-size="19.8">e</text></g>
</svg>
</body></html>
